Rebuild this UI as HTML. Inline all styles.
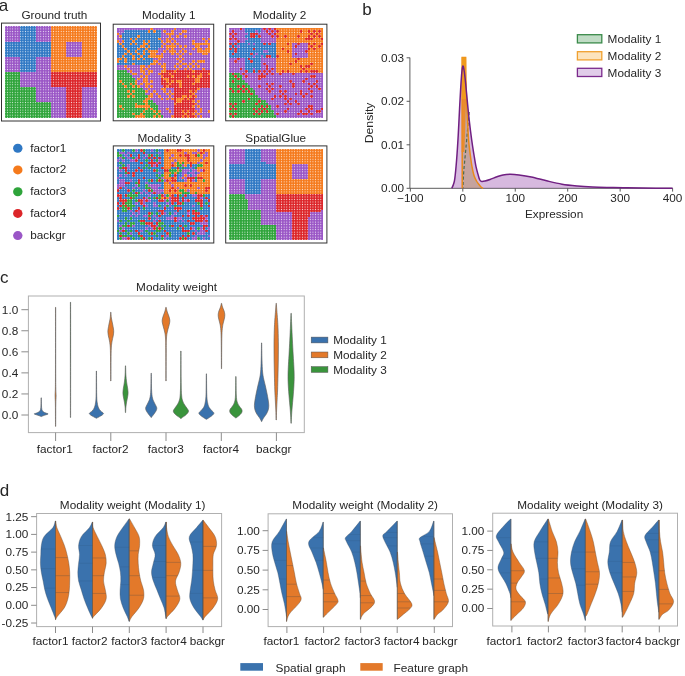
<!DOCTYPE html><html><head><meta charset="utf-8"><style>html,body{margin:0;padding:0;background:#fff;overflow:hidden}svg{display:block;will-change:transform}text{font-family:"Liberation Sans",sans-serif}</style></head><body><svg width="685" height="676" viewBox="0 0 685 676">
<rect width="685" height="676" fill="#fff"/>
<defs><pattern id="dots" patternUnits="userSpaceOnUse" x="-0.5" y="-0.5" width="1" height="1"><circle cx="0.5" cy="0.5" r="0.21" fill="#fff" fill-opacity="0.85"/></pattern></defs>
<text transform="translate(-1.20,10.70) scale(1.0,1)" font-size="17" text-anchor="start" fill="#262626">a</text>
<text transform="translate(362.20,14.60) scale(1.0,1)" font-size="17" text-anchor="start" fill="#262626">b</text>
<text transform="translate(0.00,283.10) scale(1.0,1)" font-size="17" text-anchor="start" fill="#262626">c</text>
<text transform="translate(-0.20,495.60) scale(1.0,1)" font-size="17" text-anchor="start" fill="#262626">d</text>
<g transform="translate(5.00,26.40) scale(2.5556,2.5361)">
<g shape-rendering="crispEdges">
<path fill="#9a56c6" d="M0,0h1v1h-1zM1,0h1v1h-1zM2,0h1v1h-1zM3,0h1v1h-1zM4,0h1v1h-1zM5,0h1v1h-1zM12,0h1v1h-1zM13,0h1v1h-1zM14,0h1v1h-1zM15,0h1v1h-1zM16,0h1v1h-1zM17,0h1v1h-1zM0,1h1v1h-1zM1,1h1v1h-1zM2,1h1v1h-1zM3,1h1v1h-1zM4,1h1v1h-1zM5,1h1v1h-1zM12,1h1v1h-1zM13,1h1v1h-1zM14,1h1v1h-1zM15,1h1v1h-1zM16,1h1v1h-1zM17,1h1v1h-1zM0,2h1v1h-1zM1,2h1v1h-1zM2,2h1v1h-1zM3,2h1v1h-1zM4,2h1v1h-1zM5,2h1v1h-1zM12,2h1v1h-1zM13,2h1v1h-1zM14,2h1v1h-1zM15,2h1v1h-1zM16,2h1v1h-1zM17,2h1v1h-1zM0,3h1v1h-1zM1,3h1v1h-1zM2,3h1v1h-1zM3,3h1v1h-1zM4,3h1v1h-1zM5,3h1v1h-1zM12,3h1v1h-1zM13,3h1v1h-1zM14,3h1v1h-1zM15,3h1v1h-1zM16,3h1v1h-1zM17,3h1v1h-1zM0,4h1v1h-1zM1,4h1v1h-1zM2,4h1v1h-1zM3,4h1v1h-1zM4,4h1v1h-1zM5,4h1v1h-1zM12,4h1v1h-1zM13,4h1v1h-1zM14,4h1v1h-1zM15,4h1v1h-1zM16,4h1v1h-1zM17,4h1v1h-1zM0,5h1v1h-1zM1,5h1v1h-1zM2,5h1v1h-1zM3,5h1v1h-1zM4,5h1v1h-1zM5,5h1v1h-1zM12,5h1v1h-1zM13,5h1v1h-1zM14,5h1v1h-1zM15,5h1v1h-1zM16,5h1v1h-1zM17,5h1v1h-1zM24,6h1v1h-1zM25,6h1v1h-1zM26,6h1v1h-1zM27,6h1v1h-1zM28,6h1v1h-1zM29,6h1v1h-1zM24,7h1v1h-1zM25,7h1v1h-1zM26,7h1v1h-1zM27,7h1v1h-1zM28,7h1v1h-1zM29,7h1v1h-1zM24,8h1v1h-1zM25,8h1v1h-1zM26,8h1v1h-1zM27,8h1v1h-1zM28,8h1v1h-1zM29,8h1v1h-1zM24,9h1v1h-1zM25,9h1v1h-1zM26,9h1v1h-1zM27,9h1v1h-1zM28,9h1v1h-1zM29,9h1v1h-1zM24,10h1v1h-1zM25,10h1v1h-1zM26,10h1v1h-1zM27,10h1v1h-1zM28,10h1v1h-1zM29,10h1v1h-1zM24,11h1v1h-1zM25,11h1v1h-1zM26,11h1v1h-1zM27,11h1v1h-1zM28,11h1v1h-1zM29,11h1v1h-1zM0,12h1v1h-1zM1,12h1v1h-1zM2,12h1v1h-1zM3,12h1v1h-1zM4,12h1v1h-1zM5,12h1v1h-1zM12,12h1v1h-1zM13,12h1v1h-1zM14,12h1v1h-1zM15,12h1v1h-1zM16,12h1v1h-1zM17,12h1v1h-1zM0,13h1v1h-1zM1,13h1v1h-1zM2,13h1v1h-1zM3,13h1v1h-1zM4,13h1v1h-1zM5,13h1v1h-1zM12,13h1v1h-1zM13,13h1v1h-1zM14,13h1v1h-1zM15,13h1v1h-1zM16,13h1v1h-1zM17,13h1v1h-1zM0,14h1v1h-1zM1,14h1v1h-1zM2,14h1v1h-1zM3,14h1v1h-1zM4,14h1v1h-1zM5,14h1v1h-1zM12,14h1v1h-1zM13,14h1v1h-1zM14,14h1v1h-1zM15,14h1v1h-1zM16,14h1v1h-1zM17,14h1v1h-1zM0,15h1v1h-1zM1,15h1v1h-1zM2,15h1v1h-1zM3,15h1v1h-1zM4,15h1v1h-1zM5,15h1v1h-1zM12,15h1v1h-1zM13,15h1v1h-1zM14,15h1v1h-1zM15,15h1v1h-1zM16,15h1v1h-1zM17,15h1v1h-1zM0,16h1v1h-1zM1,16h1v1h-1zM2,16h1v1h-1zM3,16h1v1h-1zM4,16h1v1h-1zM5,16h1v1h-1zM12,16h1v1h-1zM13,16h1v1h-1zM14,16h1v1h-1zM15,16h1v1h-1zM16,16h1v1h-1zM17,16h1v1h-1zM0,17h1v1h-1zM1,17h1v1h-1zM2,17h1v1h-1zM3,17h1v1h-1zM4,17h1v1h-1zM5,17h1v1h-1zM12,17h1v1h-1zM13,17h1v1h-1zM14,17h1v1h-1zM15,17h1v1h-1zM16,17h1v1h-1zM17,17h1v1h-1zM6,18h1v1h-1zM7,18h1v1h-1zM8,18h1v1h-1zM9,18h1v1h-1zM10,18h1v1h-1zM11,18h1v1h-1zM12,18h1v1h-1zM13,18h1v1h-1zM14,18h1v1h-1zM15,18h1v1h-1zM16,18h1v1h-1zM17,18h1v1h-1zM6,19h1v1h-1zM7,19h1v1h-1zM8,19h1v1h-1zM9,19h1v1h-1zM10,19h1v1h-1zM11,19h1v1h-1zM12,19h1v1h-1zM13,19h1v1h-1zM14,19h1v1h-1zM15,19h1v1h-1zM16,19h1v1h-1zM17,19h1v1h-1zM6,20h1v1h-1zM7,20h1v1h-1zM8,20h1v1h-1zM9,20h1v1h-1zM10,20h1v1h-1zM11,20h1v1h-1zM12,20h1v1h-1zM13,20h1v1h-1zM14,20h1v1h-1zM15,20h1v1h-1zM16,20h1v1h-1zM17,20h1v1h-1zM6,21h1v1h-1zM7,21h1v1h-1zM8,21h1v1h-1zM9,21h1v1h-1zM10,21h1v1h-1zM11,21h1v1h-1zM12,21h1v1h-1zM13,21h1v1h-1zM14,21h1v1h-1zM15,21h1v1h-1zM16,21h1v1h-1zM17,21h1v1h-1zM6,22h1v1h-1zM7,22h1v1h-1zM8,22h1v1h-1zM9,22h1v1h-1zM10,22h1v1h-1zM11,22h1v1h-1zM12,22h1v1h-1zM13,22h1v1h-1zM14,22h1v1h-1zM15,22h1v1h-1zM16,22h1v1h-1zM17,22h1v1h-1zM6,23h1v1h-1zM7,23h1v1h-1zM8,23h1v1h-1zM9,23h1v1h-1zM10,23h1v1h-1zM11,23h1v1h-1zM12,23h1v1h-1zM13,23h1v1h-1zM14,23h1v1h-1zM15,23h1v1h-1zM16,23h1v1h-1zM17,23h1v1h-1zM12,24h1v1h-1zM13,24h1v1h-1zM14,24h1v1h-1zM15,24h1v1h-1zM16,24h1v1h-1zM17,24h1v1h-1zM18,24h1v1h-1zM19,24h1v1h-1zM20,24h1v1h-1zM21,24h1v1h-1zM22,24h1v1h-1zM23,24h1v1h-1zM30,24h1v1h-1zM31,24h1v1h-1zM32,24h1v1h-1zM33,24h1v1h-1zM34,24h1v1h-1zM35,24h1v1h-1zM12,25h1v1h-1zM13,25h1v1h-1zM14,25h1v1h-1zM15,25h1v1h-1zM16,25h1v1h-1zM17,25h1v1h-1zM18,25h1v1h-1zM19,25h1v1h-1zM20,25h1v1h-1zM21,25h1v1h-1zM22,25h1v1h-1zM23,25h1v1h-1zM30,25h1v1h-1zM31,25h1v1h-1zM32,25h1v1h-1zM33,25h1v1h-1zM34,25h1v1h-1zM35,25h1v1h-1zM12,26h1v1h-1zM13,26h1v1h-1zM14,26h1v1h-1zM15,26h1v1h-1zM16,26h1v1h-1zM17,26h1v1h-1zM18,26h1v1h-1zM19,26h1v1h-1zM20,26h1v1h-1zM21,26h1v1h-1zM22,26h1v1h-1zM23,26h1v1h-1zM30,26h1v1h-1zM31,26h1v1h-1zM32,26h1v1h-1zM33,26h1v1h-1zM34,26h1v1h-1zM35,26h1v1h-1zM12,27h1v1h-1zM13,27h1v1h-1zM14,27h1v1h-1zM15,27h1v1h-1zM16,27h1v1h-1zM17,27h1v1h-1zM18,27h1v1h-1zM19,27h1v1h-1zM20,27h1v1h-1zM21,27h1v1h-1zM22,27h1v1h-1zM23,27h1v1h-1zM30,27h1v1h-1zM31,27h1v1h-1zM32,27h1v1h-1zM33,27h1v1h-1zM34,27h1v1h-1zM35,27h1v1h-1zM12,28h1v1h-1zM13,28h1v1h-1zM14,28h1v1h-1zM15,28h1v1h-1zM16,28h1v1h-1zM17,28h1v1h-1zM18,28h1v1h-1zM19,28h1v1h-1zM20,28h1v1h-1zM21,28h1v1h-1zM22,28h1v1h-1zM23,28h1v1h-1zM30,28h1v1h-1zM31,28h1v1h-1zM32,28h1v1h-1zM33,28h1v1h-1zM34,28h1v1h-1zM35,28h1v1h-1zM12,29h1v1h-1zM13,29h1v1h-1zM14,29h1v1h-1zM15,29h1v1h-1zM16,29h1v1h-1zM17,29h1v1h-1zM18,29h1v1h-1zM19,29h1v1h-1zM20,29h1v1h-1zM21,29h1v1h-1zM22,29h1v1h-1zM23,29h1v1h-1zM30,29h1v1h-1zM31,29h1v1h-1zM32,29h1v1h-1zM33,29h1v1h-1zM34,29h1v1h-1zM35,29h1v1h-1zM18,30h1v1h-1zM19,30h1v1h-1zM20,30h1v1h-1zM21,30h1v1h-1zM22,30h1v1h-1zM23,30h1v1h-1zM30,30h1v1h-1zM31,30h1v1h-1zM32,30h1v1h-1zM33,30h1v1h-1zM34,30h1v1h-1zM35,30h1v1h-1zM18,31h1v1h-1zM19,31h1v1h-1zM20,31h1v1h-1zM21,31h1v1h-1zM22,31h1v1h-1zM23,31h1v1h-1zM30,31h1v1h-1zM31,31h1v1h-1zM32,31h1v1h-1zM33,31h1v1h-1zM34,31h1v1h-1zM35,31h1v1h-1zM18,32h1v1h-1zM19,32h1v1h-1zM20,32h1v1h-1zM21,32h1v1h-1zM22,32h1v1h-1zM23,32h1v1h-1zM30,32h1v1h-1zM31,32h1v1h-1zM32,32h1v1h-1zM33,32h1v1h-1zM34,32h1v1h-1zM35,32h1v1h-1zM18,33h1v1h-1zM19,33h1v1h-1zM20,33h1v1h-1zM21,33h1v1h-1zM22,33h1v1h-1zM23,33h1v1h-1zM30,33h1v1h-1zM31,33h1v1h-1zM32,33h1v1h-1zM33,33h1v1h-1zM34,33h1v1h-1zM35,33h1v1h-1zM18,34h1v1h-1zM19,34h1v1h-1zM20,34h1v1h-1zM21,34h1v1h-1zM22,34h1v1h-1zM23,34h1v1h-1zM30,34h1v1h-1zM31,34h1v1h-1zM32,34h1v1h-1zM33,34h1v1h-1zM34,34h1v1h-1zM35,34h1v1h-1zM18,35h1v1h-1zM19,35h1v1h-1zM20,35h1v1h-1zM21,35h1v1h-1zM22,35h1v1h-1zM23,35h1v1h-1zM30,35h1v1h-1zM31,35h1v1h-1zM32,35h1v1h-1zM33,35h1v1h-1zM34,35h1v1h-1zM35,35h1v1h-1z"/>
<path fill="#2f78c4" d="M6,0h1v1h-1zM7,0h1v1h-1zM8,0h1v1h-1zM9,0h1v1h-1zM10,0h1v1h-1zM11,0h1v1h-1zM6,1h1v1h-1zM7,1h1v1h-1zM8,1h1v1h-1zM9,1h1v1h-1zM10,1h1v1h-1zM11,1h1v1h-1zM6,2h1v1h-1zM7,2h1v1h-1zM8,2h1v1h-1zM9,2h1v1h-1zM10,2h1v1h-1zM11,2h1v1h-1zM6,3h1v1h-1zM7,3h1v1h-1zM8,3h1v1h-1zM9,3h1v1h-1zM10,3h1v1h-1zM11,3h1v1h-1zM6,4h1v1h-1zM7,4h1v1h-1zM8,4h1v1h-1zM9,4h1v1h-1zM10,4h1v1h-1zM11,4h1v1h-1zM6,5h1v1h-1zM7,5h1v1h-1zM8,5h1v1h-1zM9,5h1v1h-1zM10,5h1v1h-1zM11,5h1v1h-1zM0,6h1v1h-1zM1,6h1v1h-1zM2,6h1v1h-1zM3,6h1v1h-1zM4,6h1v1h-1zM5,6h1v1h-1zM6,6h1v1h-1zM7,6h1v1h-1zM8,6h1v1h-1zM9,6h1v1h-1zM10,6h1v1h-1zM11,6h1v1h-1zM12,6h1v1h-1zM13,6h1v1h-1zM14,6h1v1h-1zM15,6h1v1h-1zM16,6h1v1h-1zM17,6h1v1h-1zM0,7h1v1h-1zM1,7h1v1h-1zM2,7h1v1h-1zM3,7h1v1h-1zM4,7h1v1h-1zM5,7h1v1h-1zM6,7h1v1h-1zM7,7h1v1h-1zM8,7h1v1h-1zM9,7h1v1h-1zM10,7h1v1h-1zM11,7h1v1h-1zM12,7h1v1h-1zM13,7h1v1h-1zM14,7h1v1h-1zM15,7h1v1h-1zM16,7h1v1h-1zM17,7h1v1h-1zM0,8h1v1h-1zM1,8h1v1h-1zM2,8h1v1h-1zM3,8h1v1h-1zM4,8h1v1h-1zM5,8h1v1h-1zM6,8h1v1h-1zM7,8h1v1h-1zM8,8h1v1h-1zM9,8h1v1h-1zM10,8h1v1h-1zM11,8h1v1h-1zM12,8h1v1h-1zM13,8h1v1h-1zM14,8h1v1h-1zM15,8h1v1h-1zM16,8h1v1h-1zM17,8h1v1h-1zM0,9h1v1h-1zM1,9h1v1h-1zM2,9h1v1h-1zM3,9h1v1h-1zM4,9h1v1h-1zM5,9h1v1h-1zM6,9h1v1h-1zM7,9h1v1h-1zM8,9h1v1h-1zM9,9h1v1h-1zM10,9h1v1h-1zM11,9h1v1h-1zM12,9h1v1h-1zM13,9h1v1h-1zM14,9h1v1h-1zM15,9h1v1h-1zM16,9h1v1h-1zM17,9h1v1h-1zM0,10h1v1h-1zM1,10h1v1h-1zM2,10h1v1h-1zM3,10h1v1h-1zM4,10h1v1h-1zM5,10h1v1h-1zM6,10h1v1h-1zM7,10h1v1h-1zM8,10h1v1h-1zM9,10h1v1h-1zM10,10h1v1h-1zM11,10h1v1h-1zM12,10h1v1h-1zM13,10h1v1h-1zM14,10h1v1h-1zM15,10h1v1h-1zM16,10h1v1h-1zM17,10h1v1h-1zM0,11h1v1h-1zM1,11h1v1h-1zM2,11h1v1h-1zM3,11h1v1h-1zM4,11h1v1h-1zM5,11h1v1h-1zM6,11h1v1h-1zM7,11h1v1h-1zM8,11h1v1h-1zM9,11h1v1h-1zM10,11h1v1h-1zM11,11h1v1h-1zM12,11h1v1h-1zM13,11h1v1h-1zM14,11h1v1h-1zM15,11h1v1h-1zM16,11h1v1h-1zM17,11h1v1h-1zM6,12h1v1h-1zM7,12h1v1h-1zM8,12h1v1h-1zM9,12h1v1h-1zM10,12h1v1h-1zM11,12h1v1h-1zM6,13h1v1h-1zM7,13h1v1h-1zM8,13h1v1h-1zM9,13h1v1h-1zM10,13h1v1h-1zM11,13h1v1h-1zM6,14h1v1h-1zM7,14h1v1h-1zM8,14h1v1h-1zM9,14h1v1h-1zM10,14h1v1h-1zM11,14h1v1h-1zM6,15h1v1h-1zM7,15h1v1h-1zM8,15h1v1h-1zM9,15h1v1h-1zM10,15h1v1h-1zM11,15h1v1h-1zM6,16h1v1h-1zM7,16h1v1h-1zM8,16h1v1h-1zM9,16h1v1h-1zM10,16h1v1h-1zM11,16h1v1h-1zM6,17h1v1h-1zM7,17h1v1h-1zM8,17h1v1h-1zM9,17h1v1h-1zM10,17h1v1h-1zM11,17h1v1h-1z"/>
<path fill="#f57a1c" d="M18,0h1v1h-1zM19,0h1v1h-1zM20,0h1v1h-1zM21,0h1v1h-1zM22,0h1v1h-1zM23,0h1v1h-1zM24,0h1v1h-1zM25,0h1v1h-1zM26,0h1v1h-1zM27,0h1v1h-1zM28,0h1v1h-1zM29,0h1v1h-1zM30,0h1v1h-1zM31,0h1v1h-1zM32,0h1v1h-1zM33,0h1v1h-1zM34,0h1v1h-1zM35,0h1v1h-1zM18,1h1v1h-1zM19,1h1v1h-1zM20,1h1v1h-1zM21,1h1v1h-1zM22,1h1v1h-1zM23,1h1v1h-1zM24,1h1v1h-1zM25,1h1v1h-1zM26,1h1v1h-1zM27,1h1v1h-1zM28,1h1v1h-1zM29,1h1v1h-1zM30,1h1v1h-1zM31,1h1v1h-1zM32,1h1v1h-1zM33,1h1v1h-1zM34,1h1v1h-1zM35,1h1v1h-1zM18,2h1v1h-1zM19,2h1v1h-1zM20,2h1v1h-1zM21,2h1v1h-1zM22,2h1v1h-1zM23,2h1v1h-1zM24,2h1v1h-1zM25,2h1v1h-1zM26,2h1v1h-1zM27,2h1v1h-1zM28,2h1v1h-1zM29,2h1v1h-1zM30,2h1v1h-1zM31,2h1v1h-1zM32,2h1v1h-1zM33,2h1v1h-1zM34,2h1v1h-1zM35,2h1v1h-1zM18,3h1v1h-1zM19,3h1v1h-1zM20,3h1v1h-1zM21,3h1v1h-1zM22,3h1v1h-1zM23,3h1v1h-1zM24,3h1v1h-1zM25,3h1v1h-1zM26,3h1v1h-1zM27,3h1v1h-1zM28,3h1v1h-1zM29,3h1v1h-1zM30,3h1v1h-1zM31,3h1v1h-1zM32,3h1v1h-1zM33,3h1v1h-1zM34,3h1v1h-1zM35,3h1v1h-1zM18,4h1v1h-1zM19,4h1v1h-1zM20,4h1v1h-1zM21,4h1v1h-1zM22,4h1v1h-1zM23,4h1v1h-1zM24,4h1v1h-1zM25,4h1v1h-1zM26,4h1v1h-1zM27,4h1v1h-1zM28,4h1v1h-1zM29,4h1v1h-1zM30,4h1v1h-1zM31,4h1v1h-1zM32,4h1v1h-1zM33,4h1v1h-1zM34,4h1v1h-1zM35,4h1v1h-1zM18,5h1v1h-1zM19,5h1v1h-1zM20,5h1v1h-1zM21,5h1v1h-1zM22,5h1v1h-1zM23,5h1v1h-1zM24,5h1v1h-1zM25,5h1v1h-1zM26,5h1v1h-1zM27,5h1v1h-1zM28,5h1v1h-1zM29,5h1v1h-1zM30,5h1v1h-1zM31,5h1v1h-1zM32,5h1v1h-1zM33,5h1v1h-1zM34,5h1v1h-1zM35,5h1v1h-1zM18,6h1v1h-1zM19,6h1v1h-1zM20,6h1v1h-1zM21,6h1v1h-1zM22,6h1v1h-1zM23,6h1v1h-1zM30,6h1v1h-1zM31,6h1v1h-1zM32,6h1v1h-1zM33,6h1v1h-1zM34,6h1v1h-1zM35,6h1v1h-1zM18,7h1v1h-1zM19,7h1v1h-1zM20,7h1v1h-1zM21,7h1v1h-1zM22,7h1v1h-1zM23,7h1v1h-1zM30,7h1v1h-1zM31,7h1v1h-1zM32,7h1v1h-1zM33,7h1v1h-1zM34,7h1v1h-1zM35,7h1v1h-1zM18,8h1v1h-1zM19,8h1v1h-1zM20,8h1v1h-1zM21,8h1v1h-1zM22,8h1v1h-1zM23,8h1v1h-1zM30,8h1v1h-1zM31,8h1v1h-1zM32,8h1v1h-1zM33,8h1v1h-1zM34,8h1v1h-1zM35,8h1v1h-1zM18,9h1v1h-1zM19,9h1v1h-1zM20,9h1v1h-1zM21,9h1v1h-1zM22,9h1v1h-1zM23,9h1v1h-1zM30,9h1v1h-1zM31,9h1v1h-1zM32,9h1v1h-1zM33,9h1v1h-1zM34,9h1v1h-1zM35,9h1v1h-1zM18,10h1v1h-1zM19,10h1v1h-1zM20,10h1v1h-1zM21,10h1v1h-1zM22,10h1v1h-1zM23,10h1v1h-1zM30,10h1v1h-1zM31,10h1v1h-1zM32,10h1v1h-1zM33,10h1v1h-1zM34,10h1v1h-1zM35,10h1v1h-1zM18,11h1v1h-1zM19,11h1v1h-1zM20,11h1v1h-1zM21,11h1v1h-1zM22,11h1v1h-1zM23,11h1v1h-1zM30,11h1v1h-1zM31,11h1v1h-1zM32,11h1v1h-1zM33,11h1v1h-1zM34,11h1v1h-1zM35,11h1v1h-1zM18,12h1v1h-1zM19,12h1v1h-1zM20,12h1v1h-1zM21,12h1v1h-1zM22,12h1v1h-1zM23,12h1v1h-1zM24,12h1v1h-1zM25,12h1v1h-1zM26,12h1v1h-1zM27,12h1v1h-1zM28,12h1v1h-1zM29,12h1v1h-1zM30,12h1v1h-1zM31,12h1v1h-1zM32,12h1v1h-1zM33,12h1v1h-1zM34,12h1v1h-1zM35,12h1v1h-1zM18,13h1v1h-1zM19,13h1v1h-1zM20,13h1v1h-1zM21,13h1v1h-1zM22,13h1v1h-1zM23,13h1v1h-1zM24,13h1v1h-1zM25,13h1v1h-1zM26,13h1v1h-1zM27,13h1v1h-1zM28,13h1v1h-1zM29,13h1v1h-1zM30,13h1v1h-1zM31,13h1v1h-1zM32,13h1v1h-1zM33,13h1v1h-1zM34,13h1v1h-1zM35,13h1v1h-1zM18,14h1v1h-1zM19,14h1v1h-1zM20,14h1v1h-1zM21,14h1v1h-1zM22,14h1v1h-1zM23,14h1v1h-1zM24,14h1v1h-1zM25,14h1v1h-1zM26,14h1v1h-1zM27,14h1v1h-1zM28,14h1v1h-1zM29,14h1v1h-1zM30,14h1v1h-1zM31,14h1v1h-1zM32,14h1v1h-1zM33,14h1v1h-1zM34,14h1v1h-1zM35,14h1v1h-1zM18,15h1v1h-1zM19,15h1v1h-1zM20,15h1v1h-1zM21,15h1v1h-1zM22,15h1v1h-1zM23,15h1v1h-1zM24,15h1v1h-1zM25,15h1v1h-1zM26,15h1v1h-1zM27,15h1v1h-1zM28,15h1v1h-1zM29,15h1v1h-1zM30,15h1v1h-1zM31,15h1v1h-1zM32,15h1v1h-1zM33,15h1v1h-1zM34,15h1v1h-1zM35,15h1v1h-1zM18,16h1v1h-1zM19,16h1v1h-1zM20,16h1v1h-1zM21,16h1v1h-1zM22,16h1v1h-1zM23,16h1v1h-1zM24,16h1v1h-1zM25,16h1v1h-1zM26,16h1v1h-1zM27,16h1v1h-1zM28,16h1v1h-1zM29,16h1v1h-1zM30,16h1v1h-1zM31,16h1v1h-1zM32,16h1v1h-1zM33,16h1v1h-1zM34,16h1v1h-1zM35,16h1v1h-1zM18,17h1v1h-1zM19,17h1v1h-1zM20,17h1v1h-1zM21,17h1v1h-1zM22,17h1v1h-1zM23,17h1v1h-1zM24,17h1v1h-1zM25,17h1v1h-1zM26,17h1v1h-1zM27,17h1v1h-1zM28,17h1v1h-1zM29,17h1v1h-1zM30,17h1v1h-1zM31,17h1v1h-1zM32,17h1v1h-1zM33,17h1v1h-1zM34,17h1v1h-1zM35,17h1v1h-1z"/>
<path fill="#2ea43a" d="M0,18h1v1h-1zM1,18h1v1h-1zM2,18h1v1h-1zM3,18h1v1h-1zM4,18h1v1h-1zM5,18h1v1h-1zM0,19h1v1h-1zM1,19h1v1h-1zM2,19h1v1h-1zM3,19h1v1h-1zM4,19h1v1h-1zM5,19h1v1h-1zM0,20h1v1h-1zM1,20h1v1h-1zM2,20h1v1h-1zM3,20h1v1h-1zM4,20h1v1h-1zM5,20h1v1h-1zM0,21h1v1h-1zM1,21h1v1h-1zM2,21h1v1h-1zM3,21h1v1h-1zM4,21h1v1h-1zM5,21h1v1h-1zM0,22h1v1h-1zM1,22h1v1h-1zM2,22h1v1h-1zM3,22h1v1h-1zM4,22h1v1h-1zM5,22h1v1h-1zM0,23h1v1h-1zM1,23h1v1h-1zM2,23h1v1h-1zM3,23h1v1h-1zM4,23h1v1h-1zM5,23h1v1h-1zM0,24h1v1h-1zM1,24h1v1h-1zM2,24h1v1h-1zM3,24h1v1h-1zM4,24h1v1h-1zM5,24h1v1h-1zM6,24h1v1h-1zM7,24h1v1h-1zM8,24h1v1h-1zM9,24h1v1h-1zM10,24h1v1h-1zM11,24h1v1h-1zM0,25h1v1h-1zM1,25h1v1h-1zM2,25h1v1h-1zM3,25h1v1h-1zM4,25h1v1h-1zM5,25h1v1h-1zM6,25h1v1h-1zM7,25h1v1h-1zM8,25h1v1h-1zM9,25h1v1h-1zM10,25h1v1h-1zM11,25h1v1h-1zM0,26h1v1h-1zM1,26h1v1h-1zM2,26h1v1h-1zM3,26h1v1h-1zM4,26h1v1h-1zM5,26h1v1h-1zM6,26h1v1h-1zM7,26h1v1h-1zM8,26h1v1h-1zM9,26h1v1h-1zM10,26h1v1h-1zM11,26h1v1h-1zM0,27h1v1h-1zM1,27h1v1h-1zM2,27h1v1h-1zM3,27h1v1h-1zM4,27h1v1h-1zM5,27h1v1h-1zM6,27h1v1h-1zM7,27h1v1h-1zM8,27h1v1h-1zM9,27h1v1h-1zM10,27h1v1h-1zM11,27h1v1h-1zM0,28h1v1h-1zM1,28h1v1h-1zM2,28h1v1h-1zM3,28h1v1h-1zM4,28h1v1h-1zM5,28h1v1h-1zM6,28h1v1h-1zM7,28h1v1h-1zM8,28h1v1h-1zM9,28h1v1h-1zM10,28h1v1h-1zM11,28h1v1h-1zM0,29h1v1h-1zM1,29h1v1h-1zM2,29h1v1h-1zM3,29h1v1h-1zM4,29h1v1h-1zM5,29h1v1h-1zM6,29h1v1h-1zM7,29h1v1h-1zM8,29h1v1h-1zM9,29h1v1h-1zM10,29h1v1h-1zM11,29h1v1h-1zM0,30h1v1h-1zM1,30h1v1h-1zM2,30h1v1h-1zM3,30h1v1h-1zM4,30h1v1h-1zM5,30h1v1h-1zM6,30h1v1h-1zM7,30h1v1h-1zM8,30h1v1h-1zM9,30h1v1h-1zM10,30h1v1h-1zM11,30h1v1h-1zM12,30h1v1h-1zM13,30h1v1h-1zM14,30h1v1h-1zM15,30h1v1h-1zM16,30h1v1h-1zM17,30h1v1h-1zM0,31h1v1h-1zM1,31h1v1h-1zM2,31h1v1h-1zM3,31h1v1h-1zM4,31h1v1h-1zM5,31h1v1h-1zM6,31h1v1h-1zM7,31h1v1h-1zM8,31h1v1h-1zM9,31h1v1h-1zM10,31h1v1h-1zM11,31h1v1h-1zM12,31h1v1h-1zM13,31h1v1h-1zM14,31h1v1h-1zM15,31h1v1h-1zM16,31h1v1h-1zM17,31h1v1h-1zM0,32h1v1h-1zM1,32h1v1h-1zM2,32h1v1h-1zM3,32h1v1h-1zM4,32h1v1h-1zM5,32h1v1h-1zM6,32h1v1h-1zM7,32h1v1h-1zM8,32h1v1h-1zM9,32h1v1h-1zM10,32h1v1h-1zM11,32h1v1h-1zM12,32h1v1h-1zM13,32h1v1h-1zM14,32h1v1h-1zM15,32h1v1h-1zM16,32h1v1h-1zM17,32h1v1h-1zM0,33h1v1h-1zM1,33h1v1h-1zM2,33h1v1h-1zM3,33h1v1h-1zM4,33h1v1h-1zM5,33h1v1h-1zM6,33h1v1h-1zM7,33h1v1h-1zM8,33h1v1h-1zM9,33h1v1h-1zM10,33h1v1h-1zM11,33h1v1h-1zM12,33h1v1h-1zM13,33h1v1h-1zM14,33h1v1h-1zM15,33h1v1h-1zM16,33h1v1h-1zM17,33h1v1h-1zM0,34h1v1h-1zM1,34h1v1h-1zM2,34h1v1h-1zM3,34h1v1h-1zM4,34h1v1h-1zM5,34h1v1h-1zM6,34h1v1h-1zM7,34h1v1h-1zM8,34h1v1h-1zM9,34h1v1h-1zM10,34h1v1h-1zM11,34h1v1h-1zM12,34h1v1h-1zM13,34h1v1h-1zM14,34h1v1h-1zM15,34h1v1h-1zM16,34h1v1h-1zM17,34h1v1h-1zM0,35h1v1h-1zM1,35h1v1h-1zM2,35h1v1h-1zM3,35h1v1h-1zM4,35h1v1h-1zM5,35h1v1h-1zM6,35h1v1h-1zM7,35h1v1h-1zM8,35h1v1h-1zM9,35h1v1h-1zM10,35h1v1h-1zM11,35h1v1h-1zM12,35h1v1h-1zM13,35h1v1h-1zM14,35h1v1h-1zM15,35h1v1h-1zM16,35h1v1h-1zM17,35h1v1h-1z"/>
<path fill="#dc2529" d="M18,18h1v1h-1zM19,18h1v1h-1zM20,18h1v1h-1zM21,18h1v1h-1zM22,18h1v1h-1zM23,18h1v1h-1zM24,18h1v1h-1zM25,18h1v1h-1zM26,18h1v1h-1zM27,18h1v1h-1zM28,18h1v1h-1zM29,18h1v1h-1zM30,18h1v1h-1zM31,18h1v1h-1zM32,18h1v1h-1zM33,18h1v1h-1zM34,18h1v1h-1zM35,18h1v1h-1zM18,19h1v1h-1zM19,19h1v1h-1zM20,19h1v1h-1zM21,19h1v1h-1zM22,19h1v1h-1zM23,19h1v1h-1zM24,19h1v1h-1zM25,19h1v1h-1zM26,19h1v1h-1zM27,19h1v1h-1zM28,19h1v1h-1zM29,19h1v1h-1zM30,19h1v1h-1zM31,19h1v1h-1zM32,19h1v1h-1zM33,19h1v1h-1zM34,19h1v1h-1zM35,19h1v1h-1zM18,20h1v1h-1zM19,20h1v1h-1zM20,20h1v1h-1zM21,20h1v1h-1zM22,20h1v1h-1zM23,20h1v1h-1zM24,20h1v1h-1zM25,20h1v1h-1zM26,20h1v1h-1zM27,20h1v1h-1zM28,20h1v1h-1zM29,20h1v1h-1zM30,20h1v1h-1zM31,20h1v1h-1zM32,20h1v1h-1zM33,20h1v1h-1zM34,20h1v1h-1zM35,20h1v1h-1zM18,21h1v1h-1zM19,21h1v1h-1zM20,21h1v1h-1zM21,21h1v1h-1zM22,21h1v1h-1zM23,21h1v1h-1zM24,21h1v1h-1zM25,21h1v1h-1zM26,21h1v1h-1zM27,21h1v1h-1zM28,21h1v1h-1zM29,21h1v1h-1zM30,21h1v1h-1zM31,21h1v1h-1zM32,21h1v1h-1zM33,21h1v1h-1zM34,21h1v1h-1zM35,21h1v1h-1zM18,22h1v1h-1zM19,22h1v1h-1zM20,22h1v1h-1zM21,22h1v1h-1zM22,22h1v1h-1zM23,22h1v1h-1zM24,22h1v1h-1zM25,22h1v1h-1zM26,22h1v1h-1zM27,22h1v1h-1zM28,22h1v1h-1zM29,22h1v1h-1zM30,22h1v1h-1zM31,22h1v1h-1zM32,22h1v1h-1zM33,22h1v1h-1zM34,22h1v1h-1zM35,22h1v1h-1zM18,23h1v1h-1zM19,23h1v1h-1zM20,23h1v1h-1zM21,23h1v1h-1zM22,23h1v1h-1zM23,23h1v1h-1zM24,23h1v1h-1zM25,23h1v1h-1zM26,23h1v1h-1zM27,23h1v1h-1zM28,23h1v1h-1zM29,23h1v1h-1zM30,23h1v1h-1zM31,23h1v1h-1zM32,23h1v1h-1zM33,23h1v1h-1zM34,23h1v1h-1zM35,23h1v1h-1zM24,24h1v1h-1zM25,24h1v1h-1zM26,24h1v1h-1zM27,24h1v1h-1zM28,24h1v1h-1zM29,24h1v1h-1zM24,25h1v1h-1zM25,25h1v1h-1zM26,25h1v1h-1zM27,25h1v1h-1zM28,25h1v1h-1zM29,25h1v1h-1zM24,26h1v1h-1zM25,26h1v1h-1zM26,26h1v1h-1zM27,26h1v1h-1zM28,26h1v1h-1zM29,26h1v1h-1zM24,27h1v1h-1zM25,27h1v1h-1zM26,27h1v1h-1zM27,27h1v1h-1zM28,27h1v1h-1zM29,27h1v1h-1zM24,28h1v1h-1zM25,28h1v1h-1zM26,28h1v1h-1zM27,28h1v1h-1zM28,28h1v1h-1zM29,28h1v1h-1zM24,29h1v1h-1zM25,29h1v1h-1zM26,29h1v1h-1zM27,29h1v1h-1zM28,29h1v1h-1zM29,29h1v1h-1zM24,30h1v1h-1zM25,30h1v1h-1zM26,30h1v1h-1zM27,30h1v1h-1zM28,30h1v1h-1zM29,30h1v1h-1zM24,31h1v1h-1zM25,31h1v1h-1zM26,31h1v1h-1zM27,31h1v1h-1zM28,31h1v1h-1zM29,31h1v1h-1zM24,32h1v1h-1zM25,32h1v1h-1zM26,32h1v1h-1zM27,32h1v1h-1zM28,32h1v1h-1zM29,32h1v1h-1zM24,33h1v1h-1zM25,33h1v1h-1zM26,33h1v1h-1zM27,33h1v1h-1zM28,33h1v1h-1zM29,33h1v1h-1zM24,34h1v1h-1zM25,34h1v1h-1zM26,34h1v1h-1zM27,34h1v1h-1zM28,34h1v1h-1zM29,34h1v1h-1zM24,35h1v1h-1zM25,35h1v1h-1zM26,35h1v1h-1zM27,35h1v1h-1zM28,35h1v1h-1zM29,35h1v1h-1z"/>
</g>
<rect x="-0.5" y="-0.5" width="37" height="37" fill="url(#dots)"/>
</g>
<rect x="1.50" y="23.10" width="99.00" height="97.90" fill="none" stroke="#333" stroke-width="1.0"/>
<text transform="translate(54.40,19.30) scale(1.07,1)" font-size="11" text-anchor="middle" fill="#262626">Ground truth</text>
<g transform="translate(116.70,27.50) scale(2.5972,2.5000)">
<g shape-rendering="crispEdges">
<path fill="#9a56c6" d="M0,0h1v1h-1zM1,0h1v1h-1zM2,0h1v1h-1zM3,0h1v1h-1zM4,0h1v1h-1zM5,0h1v1h-1zM6,0h1v1h-1zM7,0h1v1h-1zM8,0h1v1h-1zM9,0h1v1h-1zM10,0h1v1h-1zM11,0h1v1h-1zM12,0h1v1h-1zM14,0h1v1h-1zM15,0h1v1h-1zM16,0h1v1h-1zM17,0h1v1h-1zM18,0h1v1h-1zM19,0h1v1h-1zM20,0h1v1h-1zM21,0h1v1h-1zM23,0h1v1h-1zM24,0h1v1h-1zM25,0h1v1h-1zM26,0h1v1h-1zM27,0h1v1h-1zM28,0h1v1h-1zM29,0h1v1h-1zM30,0h1v1h-1zM31,0h1v1h-1zM32,0h1v1h-1zM33,0h1v1h-1zM34,0h1v1h-1zM35,0h1v1h-1zM0,1h1v1h-1zM1,1h1v1h-1zM2,1h1v1h-1zM17,1h1v1h-1zM19,1h1v1h-1zM20,1h1v1h-1zM22,1h1v1h-1zM23,1h1v1h-1zM24,1h1v1h-1zM27,1h1v1h-1zM28,1h1v1h-1zM29,1h1v1h-1zM30,1h1v1h-1zM31,1h1v1h-1zM32,1h1v1h-1zM33,1h1v1h-1zM34,1h1v1h-1zM35,1h1v1h-1zM1,2h1v1h-1zM17,2h1v1h-1zM18,2h1v1h-1zM22,2h1v1h-1zM23,2h1v1h-1zM25,2h1v1h-1zM26,2h1v1h-1zM27,2h1v1h-1zM28,2h1v1h-1zM29,2h1v1h-1zM30,2h1v1h-1zM31,2h1v1h-1zM32,2h1v1h-1zM33,2h1v1h-1zM34,2h1v1h-1zM35,2h1v1h-1zM0,3h1v1h-1zM17,3h1v1h-1zM18,3h1v1h-1zM19,3h1v1h-1zM21,3h1v1h-1zM22,3h1v1h-1zM24,3h1v1h-1zM25,3h1v1h-1zM27,3h1v1h-1zM28,3h1v1h-1zM29,3h1v1h-1zM30,3h1v1h-1zM31,3h1v1h-1zM32,3h1v1h-1zM33,3h1v1h-1zM34,3h1v1h-1zM35,3h1v1h-1zM0,4h1v1h-1zM1,4h1v1h-1zM17,4h1v1h-1zM18,4h1v1h-1zM20,4h1v1h-1zM22,4h1v1h-1zM23,4h1v1h-1zM24,4h1v1h-1zM25,4h1v1h-1zM26,4h1v1h-1zM27,4h1v1h-1zM28,4h1v1h-1zM29,4h1v1h-1zM30,4h1v1h-1zM31,4h1v1h-1zM32,4h1v1h-1zM34,4h1v1h-1zM1,5h1v1h-1zM18,5h1v1h-1zM21,5h1v1h-1zM23,5h1v1h-1zM24,5h1v1h-1zM25,5h1v1h-1zM26,5h1v1h-1zM27,5h1v1h-1zM28,5h1v1h-1zM30,5h1v1h-1zM31,5h1v1h-1zM32,5h1v1h-1zM33,5h1v1h-1zM35,5h1v1h-1zM17,6h1v1h-1zM19,6h1v1h-1zM20,6h1v1h-1zM22,6h1v1h-1zM24,6h1v1h-1zM25,6h1v1h-1zM26,6h1v1h-1zM27,6h1v1h-1zM28,6h1v1h-1zM18,7h1v1h-1zM23,7h1v1h-1zM25,7h1v1h-1zM27,7h1v1h-1zM28,7h1v1h-1zM29,7h1v1h-1zM32,7h1v1h-1zM33,7h1v1h-1zM34,7h1v1h-1zM16,8h1v1h-1zM17,8h1v1h-1zM18,8h1v1h-1zM20,8h1v1h-1zM22,8h1v1h-1zM23,8h1v1h-1zM24,8h1v1h-1zM26,8h1v1h-1zM27,8h1v1h-1zM28,8h1v1h-1zM30,8h1v1h-1zM33,8h1v1h-1zM16,9h1v1h-1zM17,9h1v1h-1zM19,9h1v1h-1zM23,9h1v1h-1zM25,9h1v1h-1zM27,9h1v1h-1zM28,9h1v1h-1zM29,9h1v1h-1zM30,9h1v1h-1zM15,10h1v1h-1zM16,10h1v1h-1zM18,10h1v1h-1zM19,10h1v1h-1zM20,10h1v1h-1zM22,10h1v1h-1zM24,10h1v1h-1zM26,10h1v1h-1zM27,10h1v1h-1zM29,10h1v1h-1zM30,10h1v1h-1zM31,10h1v1h-1zM32,10h1v1h-1zM35,10h1v1h-1zM18,11h1v1h-1zM19,11h1v1h-1zM20,11h1v1h-1zM21,11h1v1h-1zM22,11h1v1h-1zM23,11h1v1h-1zM25,11h1v1h-1zM26,11h1v1h-1zM27,11h1v1h-1zM28,11h1v1h-1zM29,11h1v1h-1zM30,11h1v1h-1zM31,11h1v1h-1zM32,11h1v1h-1zM33,11h1v1h-1zM34,11h1v1h-1zM35,11h1v1h-1zM14,12h1v1h-1zM15,12h1v1h-1zM17,12h1v1h-1zM18,12h1v1h-1zM19,12h1v1h-1zM20,12h1v1h-1zM21,12h1v1h-1zM22,12h1v1h-1zM24,12h1v1h-1zM26,12h1v1h-1zM27,12h1v1h-1zM28,12h1v1h-1zM29,12h1v1h-1zM30,12h1v1h-1zM31,12h1v1h-1zM32,12h1v1h-1zM33,12h1v1h-1zM34,12h1v1h-1zM35,12h1v1h-1zM16,13h1v1h-1zM17,13h1v1h-1zM18,13h1v1h-1zM19,13h1v1h-1zM20,13h1v1h-1zM21,13h1v1h-1zM22,13h1v1h-1zM23,13h1v1h-1zM25,13h1v1h-1zM26,13h1v1h-1zM27,13h1v1h-1zM28,13h1v1h-1zM30,13h1v1h-1zM34,13h1v1h-1zM35,13h1v1h-1zM15,14h1v1h-1zM17,14h1v1h-1zM19,14h1v1h-1zM20,14h1v1h-1zM21,14h1v1h-1zM22,14h1v1h-1zM24,14h1v1h-1zM27,14h1v1h-1zM29,14h1v1h-1zM31,14h1v1h-1zM32,14h1v1h-1zM33,14h1v1h-1zM34,14h1v1h-1zM35,14h1v1h-1zM0,15h1v1h-1zM1,15h1v1h-1zM2,15h1v1h-1zM4,15h1v1h-1zM5,15h1v1h-1zM6,15h1v1h-1zM7,15h1v1h-1zM8,15h1v1h-1zM11,15h1v1h-1zM13,15h1v1h-1zM14,15h1v1h-1zM15,15h1v1h-1zM16,15h1v1h-1zM19,15h1v1h-1zM20,15h1v1h-1zM21,15h1v1h-1zM23,15h1v1h-1zM25,15h1v1h-1zM26,15h1v1h-1zM28,15h1v1h-1zM30,15h1v1h-1zM32,15h1v1h-1zM33,15h1v1h-1zM34,15h1v1h-1zM35,15h1v1h-1zM0,16h1v1h-1zM1,16h1v1h-1zM2,16h1v1h-1zM3,16h1v1h-1zM5,16h1v1h-1zM6,16h1v1h-1zM7,16h1v1h-1zM8,16h1v1h-1zM10,16h1v1h-1zM12,16h1v1h-1zM13,16h1v1h-1zM14,16h1v1h-1zM15,16h1v1h-1zM16,16h1v1h-1zM17,16h1v1h-1zM19,16h1v1h-1zM20,16h1v1h-1zM21,16h1v1h-1zM22,16h1v1h-1zM24,16h1v1h-1zM25,16h1v1h-1zM27,16h1v1h-1zM29,16h1v1h-1zM30,16h1v1h-1zM31,16h1v1h-1zM32,16h1v1h-1zM34,16h1v1h-1zM35,16h1v1h-1zM4,17h1v1h-1zM6,17h1v1h-1zM7,17h1v1h-1zM8,17h1v1h-1zM11,17h1v1h-1zM14,17h1v1h-1zM15,17h1v1h-1zM16,17h1v1h-1zM5,18h1v1h-1zM8,18h1v1h-1zM9,18h1v1h-1zM11,18h1v1h-1zM13,18h1v1h-1zM14,18h1v1h-1zM15,18h1v1h-1zM6,19h1v1h-1zM7,19h1v1h-1zM8,19h1v1h-1zM10,19h1v1h-1zM12,19h1v1h-1zM13,19h1v1h-1zM14,19h1v1h-1zM15,19h1v1h-1zM16,19h1v1h-1zM7,20h1v1h-1zM9,20h1v1h-1zM12,20h1v1h-1zM13,20h1v1h-1zM14,20h1v1h-1zM15,20h1v1h-1zM16,20h1v1h-1zM8,21h1v1h-1zM9,21h1v1h-1zM12,21h1v1h-1zM14,21h1v1h-1zM15,21h1v1h-1zM16,21h1v1h-1zM8,22h1v1h-1zM10,22h1v1h-1zM13,22h1v1h-1zM14,22h1v1h-1zM15,22h1v1h-1zM16,22h1v1h-1zM9,23h1v1h-1zM10,23h1v1h-1zM12,23h1v1h-1zM14,23h1v1h-1zM15,23h1v1h-1zM16,23h1v1h-1zM17,23h1v1h-1zM10,24h1v1h-1zM11,24h1v1h-1zM13,24h1v1h-1zM14,24h1v1h-1zM15,24h1v1h-1zM16,24h1v1h-1zM19,24h1v1h-1zM20,24h1v1h-1zM21,24h1v1h-1zM32,24h1v1h-1zM33,24h1v1h-1zM34,24h1v1h-1zM35,24h1v1h-1zM12,25h1v1h-1zM13,25h1v1h-1zM15,25h1v1h-1zM16,25h1v1h-1zM17,25h1v1h-1zM19,25h1v1h-1zM21,25h1v1h-1zM31,25h1v1h-1zM32,25h1v1h-1zM33,25h1v1h-1zM34,25h1v1h-1zM35,25h1v1h-1zM11,26h1v1h-1zM12,26h1v1h-1zM14,26h1v1h-1zM16,26h1v1h-1zM17,26h1v1h-1zM18,26h1v1h-1zM20,26h1v1h-1zM30,26h1v1h-1zM31,26h1v1h-1zM32,26h1v1h-1zM33,26h1v1h-1zM34,26h1v1h-1zM35,26h1v1h-1zM14,27h1v1h-1zM15,27h1v1h-1zM17,27h1v1h-1zM18,27h1v1h-1zM19,27h1v1h-1zM21,27h1v1h-1zM31,27h1v1h-1zM32,27h1v1h-1zM33,27h1v1h-1zM34,27h1v1h-1zM35,27h1v1h-1zM13,28h1v1h-1zM14,28h1v1h-1zM15,28h1v1h-1zM16,28h1v1h-1zM18,28h1v1h-1zM20,28h1v1h-1zM30,28h1v1h-1zM31,28h1v1h-1zM32,28h1v1h-1zM33,28h1v1h-1zM34,28h1v1h-1zM35,28h1v1h-1zM14,29h1v1h-1zM15,29h1v1h-1zM16,29h1v1h-1zM17,29h1v1h-1zM18,29h1v1h-1zM19,29h1v1h-1zM20,29h1v1h-1zM21,29h1v1h-1zM30,29h1v1h-1zM32,29h1v1h-1zM33,29h1v1h-1zM34,29h1v1h-1zM35,29h1v1h-1zM15,30h1v1h-1zM16,30h1v1h-1zM17,30h1v1h-1zM18,30h1v1h-1zM19,30h1v1h-1zM20,30h1v1h-1zM21,30h1v1h-1zM31,30h1v1h-1zM32,30h1v1h-1zM33,30h1v1h-1zM34,30h1v1h-1zM35,30h1v1h-1zM16,31h1v1h-1zM17,31h1v1h-1zM18,31h1v1h-1zM19,31h1v1h-1zM20,31h1v1h-1zM21,31h1v1h-1zM30,31h1v1h-1zM32,31h1v1h-1zM33,31h1v1h-1zM34,31h1v1h-1zM35,31h1v1h-1zM16,32h1v1h-1zM17,32h1v1h-1zM18,32h1v1h-1zM20,32h1v1h-1zM21,32h1v1h-1zM30,32h1v1h-1zM31,32h1v1h-1zM33,32h1v1h-1zM34,32h1v1h-1zM35,32h1v1h-1zM17,33h1v1h-1zM18,33h1v1h-1zM19,33h1v1h-1zM21,33h1v1h-1zM31,33h1v1h-1zM33,33h1v1h-1zM34,33h1v1h-1zM17,34h1v1h-1zM18,34h1v1h-1zM19,34h1v1h-1zM20,34h1v1h-1zM21,34h1v1h-1zM30,34h1v1h-1zM32,34h1v1h-1zM33,34h1v1h-1zM34,34h1v1h-1zM35,34h1v1h-1zM18,35h1v1h-1zM19,35h1v1h-1zM20,35h1v1h-1zM31,35h1v1h-1zM33,35h1v1h-1zM34,35h1v1h-1zM35,35h1v1h-1z"/>
<path fill="#f57a1c" d="M13,0h1v1h-1zM22,0h1v1h-1zM12,1h1v1h-1zM14,1h1v1h-1zM18,1h1v1h-1zM21,1h1v1h-1zM25,1h1v1h-1zM26,1h1v1h-1zM0,2h1v1h-1zM19,2h1v1h-1zM20,2h1v1h-1zM21,2h1v1h-1zM24,2h1v1h-1zM1,3h1v1h-1zM8,3h1v1h-1zM20,3h1v1h-1zM23,3h1v1h-1zM26,3h1v1h-1zM5,4h1v1h-1zM7,4h1v1h-1zM16,4h1v1h-1zM19,4h1v1h-1zM21,4h1v1h-1zM33,4h1v1h-1zM35,4h1v1h-1zM0,5h1v1h-1zM2,5h1v1h-1zM6,5h1v1h-1zM10,5h1v1h-1zM12,5h1v1h-1zM17,5h1v1h-1zM19,5h1v1h-1zM20,5h1v1h-1zM22,5h1v1h-1zM29,5h1v1h-1zM34,5h1v1h-1zM1,6h1v1h-1zM5,6h1v1h-1zM7,6h1v1h-1zM10,6h1v1h-1zM11,6h1v1h-1zM18,6h1v1h-1zM21,6h1v1h-1zM23,6h1v1h-1zM29,6h1v1h-1zM30,6h1v1h-1zM31,6h1v1h-1zM32,6h1v1h-1zM33,6h1v1h-1zM34,6h1v1h-1zM35,6h1v1h-1zM2,7h1v1h-1zM9,7h1v1h-1zM10,7h1v1h-1zM12,7h1v1h-1zM17,7h1v1h-1zM19,7h1v1h-1zM20,7h1v1h-1zM21,7h1v1h-1zM22,7h1v1h-1zM24,7h1v1h-1zM26,7h1v1h-1zM30,7h1v1h-1zM31,7h1v1h-1zM35,7h1v1h-1zM3,8h1v1h-1zM8,8h1v1h-1zM11,8h1v1h-1zM19,8h1v1h-1zM21,8h1v1h-1zM25,8h1v1h-1zM29,8h1v1h-1zM31,8h1v1h-1zM32,8h1v1h-1zM34,8h1v1h-1zM35,8h1v1h-1zM4,9h1v1h-1zM7,9h1v1h-1zM10,9h1v1h-1zM12,9h1v1h-1zM13,9h1v1h-1zM14,9h1v1h-1zM15,9h1v1h-1zM18,9h1v1h-1zM20,9h1v1h-1zM21,9h1v1h-1zM22,9h1v1h-1zM24,9h1v1h-1zM26,9h1v1h-1zM31,9h1v1h-1zM32,9h1v1h-1zM33,9h1v1h-1zM34,9h1v1h-1zM35,9h1v1h-1zM3,10h1v1h-1zM5,10h1v1h-1zM8,10h1v1h-1zM10,10h1v1h-1zM13,10h1v1h-1zM14,10h1v1h-1zM17,10h1v1h-1zM21,10h1v1h-1zM23,10h1v1h-1zM25,10h1v1h-1zM28,10h1v1h-1zM33,10h1v1h-1zM34,10h1v1h-1zM2,11h1v1h-1zM6,11h1v1h-1zM9,11h1v1h-1zM12,11h1v1h-1zM13,11h1v1h-1zM14,11h1v1h-1zM15,11h1v1h-1zM16,11h1v1h-1zM17,11h1v1h-1zM24,11h1v1h-1zM0,12h1v1h-1zM1,12h1v1h-1zM3,12h1v1h-1zM6,12h1v1h-1zM8,12h1v1h-1zM10,12h1v1h-1zM16,12h1v1h-1zM23,12h1v1h-1zM25,12h1v1h-1zM0,13h1v1h-1zM3,13h1v1h-1zM14,13h1v1h-1zM15,13h1v1h-1zM24,13h1v1h-1zM29,13h1v1h-1zM31,13h1v1h-1zM32,13h1v1h-1zM33,13h1v1h-1zM6,14h1v1h-1zM13,14h1v1h-1zM14,14h1v1h-1zM16,14h1v1h-1zM18,14h1v1h-1zM23,14h1v1h-1zM25,14h1v1h-1zM26,14h1v1h-1zM28,14h1v1h-1zM30,14h1v1h-1zM3,15h1v1h-1zM9,15h1v1h-1zM10,15h1v1h-1zM12,15h1v1h-1zM17,15h1v1h-1zM18,15h1v1h-1zM22,15h1v1h-1zM24,15h1v1h-1zM27,15h1v1h-1zM29,15h1v1h-1zM31,15h1v1h-1zM4,16h1v1h-1zM9,16h1v1h-1zM11,16h1v1h-1zM18,16h1v1h-1zM23,16h1v1h-1zM26,16h1v1h-1zM28,16h1v1h-1zM33,16h1v1h-1zM5,17h1v1h-1zM9,17h1v1h-1zM10,17h1v1h-1zM12,17h1v1h-1zM13,17h1v1h-1zM17,17h1v1h-1zM18,17h1v1h-1zM22,17h1v1h-1zM29,17h1v1h-1zM6,18h1v1h-1zM7,18h1v1h-1zM10,18h1v1h-1zM12,18h1v1h-1zM16,18h1v1h-1zM20,18h1v1h-1zM32,18h1v1h-1zM35,18h1v1h-1zM9,19h1v1h-1zM11,19h1v1h-1zM17,19h1v1h-1zM21,19h1v1h-1zM27,19h1v1h-1zM29,19h1v1h-1zM31,19h1v1h-1zM32,19h1v1h-1zM8,20h1v1h-1zM10,20h1v1h-1zM11,20h1v1h-1zM18,20h1v1h-1zM19,20h1v1h-1zM30,20h1v1h-1zM31,20h1v1h-1zM1,21h1v1h-1zM7,21h1v1h-1zM10,21h1v1h-1zM11,21h1v1h-1zM13,21h1v1h-1zM19,21h1v1h-1zM21,21h1v1h-1zM23,21h1v1h-1zM24,21h1v1h-1zM30,21h1v1h-1zM31,21h1v1h-1zM2,22h1v1h-1zM5,22h1v1h-1zM7,22h1v1h-1zM9,22h1v1h-1zM11,22h1v1h-1zM12,22h1v1h-1zM20,22h1v1h-1zM24,22h1v1h-1zM29,22h1v1h-1zM3,23h1v1h-1zM6,23h1v1h-1zM8,23h1v1h-1zM11,23h1v1h-1zM13,23h1v1h-1zM19,23h1v1h-1zM24,23h1v1h-1zM12,24h1v1h-1zM17,24h1v1h-1zM18,24h1v1h-1zM31,24h1v1h-1zM4,25h1v1h-1zM6,25h1v1h-1zM11,25h1v1h-1zM14,25h1v1h-1zM18,25h1v1h-1zM20,25h1v1h-1zM28,25h1v1h-1zM30,25h1v1h-1zM5,26h1v1h-1zM13,26h1v1h-1zM15,26h1v1h-1zM19,26h1v1h-1zM21,26h1v1h-1zM29,26h1v1h-1zM4,27h1v1h-1zM6,27h1v1h-1zM12,27h1v1h-1zM13,27h1v1h-1zM16,27h1v1h-1zM20,27h1v1h-1zM25,27h1v1h-1zM26,27h1v1h-1zM28,27h1v1h-1zM30,27h1v1h-1zM11,28h1v1h-1zM12,28h1v1h-1zM17,28h1v1h-1zM19,28h1v1h-1zM21,28h1v1h-1zM23,28h1v1h-1zM24,28h1v1h-1zM25,28h1v1h-1zM27,28h1v1h-1zM10,29h1v1h-1zM11,29h1v1h-1zM23,29h1v1h-1zM24,29h1v1h-1zM29,29h1v1h-1zM31,29h1v1h-1zM7,30h1v1h-1zM11,30h1v1h-1zM22,30h1v1h-1zM30,30h1v1h-1zM1,31h1v1h-1zM7,31h1v1h-1zM8,31h1v1h-1zM9,31h1v1h-1zM10,31h1v1h-1zM11,31h1v1h-1zM12,31h1v1h-1zM29,31h1v1h-1zM31,31h1v1h-1zM2,32h1v1h-1zM11,32h1v1h-1zM13,32h1v1h-1zM19,32h1v1h-1zM32,32h1v1h-1zM10,33h1v1h-1zM14,33h1v1h-1zM16,33h1v1h-1zM20,33h1v1h-1zM25,33h1v1h-1zM27,33h1v1h-1zM30,33h1v1h-1zM32,33h1v1h-1zM35,33h1v1h-1zM6,34h1v1h-1zM9,34h1v1h-1zM15,34h1v1h-1zM26,34h1v1h-1zM29,34h1v1h-1zM31,34h1v1h-1zM7,35h1v1h-1zM8,35h1v1h-1zM9,35h1v1h-1zM10,35h1v1h-1zM14,35h1v1h-1zM16,35h1v1h-1zM21,35h1v1h-1zM25,35h1v1h-1zM27,35h1v1h-1zM30,35h1v1h-1zM32,35h1v1h-1z"/>
<path fill="#2f78c4" d="M3,1h1v1h-1zM4,1h1v1h-1zM5,1h1v1h-1zM6,1h1v1h-1zM7,1h1v1h-1zM8,1h1v1h-1zM9,1h1v1h-1zM10,1h1v1h-1zM11,1h1v1h-1zM13,1h1v1h-1zM15,1h1v1h-1zM16,1h1v1h-1zM2,2h1v1h-1zM3,2h1v1h-1zM4,2h1v1h-1zM5,2h1v1h-1zM6,2h1v1h-1zM7,2h1v1h-1zM8,2h1v1h-1zM9,2h1v1h-1zM10,2h1v1h-1zM11,2h1v1h-1zM12,2h1v1h-1zM13,2h1v1h-1zM14,2h1v1h-1zM15,2h1v1h-1zM16,2h1v1h-1zM2,3h1v1h-1zM3,3h1v1h-1zM4,3h1v1h-1zM5,3h1v1h-1zM6,3h1v1h-1zM7,3h1v1h-1zM9,3h1v1h-1zM10,3h1v1h-1zM11,3h1v1h-1zM12,3h1v1h-1zM13,3h1v1h-1zM14,3h1v1h-1zM15,3h1v1h-1zM16,3h1v1h-1zM2,4h1v1h-1zM3,4h1v1h-1zM4,4h1v1h-1zM6,4h1v1h-1zM8,4h1v1h-1zM9,4h1v1h-1zM10,4h1v1h-1zM11,4h1v1h-1zM12,4h1v1h-1zM13,4h1v1h-1zM14,4h1v1h-1zM15,4h1v1h-1zM3,5h1v1h-1zM4,5h1v1h-1zM5,5h1v1h-1zM7,5h1v1h-1zM8,5h1v1h-1zM9,5h1v1h-1zM11,5h1v1h-1zM13,5h1v1h-1zM14,5h1v1h-1zM15,5h1v1h-1zM16,5h1v1h-1zM0,6h1v1h-1zM2,6h1v1h-1zM3,6h1v1h-1zM4,6h1v1h-1zM6,6h1v1h-1zM8,6h1v1h-1zM9,6h1v1h-1zM12,6h1v1h-1zM13,6h1v1h-1zM14,6h1v1h-1zM15,6h1v1h-1zM16,6h1v1h-1zM0,7h1v1h-1zM1,7h1v1h-1zM3,7h1v1h-1zM4,7h1v1h-1zM5,7h1v1h-1zM6,7h1v1h-1zM7,7h1v1h-1zM8,7h1v1h-1zM11,7h1v1h-1zM13,7h1v1h-1zM14,7h1v1h-1zM15,7h1v1h-1zM16,7h1v1h-1zM0,8h1v1h-1zM1,8h1v1h-1zM2,8h1v1h-1zM4,8h1v1h-1zM5,8h1v1h-1zM6,8h1v1h-1zM7,8h1v1h-1zM9,8h1v1h-1zM10,8h1v1h-1zM12,8h1v1h-1zM13,8h1v1h-1zM14,8h1v1h-1zM15,8h1v1h-1zM0,9h1v1h-1zM1,9h1v1h-1zM2,9h1v1h-1zM3,9h1v1h-1zM5,9h1v1h-1zM6,9h1v1h-1zM8,9h1v1h-1zM9,9h1v1h-1zM11,9h1v1h-1zM0,10h1v1h-1zM1,10h1v1h-1zM2,10h1v1h-1zM4,10h1v1h-1zM6,10h1v1h-1zM7,10h1v1h-1zM9,10h1v1h-1zM11,10h1v1h-1zM12,10h1v1h-1zM0,11h1v1h-1zM1,11h1v1h-1zM3,11h1v1h-1zM4,11h1v1h-1zM5,11h1v1h-1zM7,11h1v1h-1zM8,11h1v1h-1zM10,11h1v1h-1zM11,11h1v1h-1zM2,12h1v1h-1zM4,12h1v1h-1zM5,12h1v1h-1zM7,12h1v1h-1zM9,12h1v1h-1zM11,12h1v1h-1zM12,12h1v1h-1zM13,12h1v1h-1zM1,13h1v1h-1zM2,13h1v1h-1zM4,13h1v1h-1zM5,13h1v1h-1zM6,13h1v1h-1zM7,13h1v1h-1zM8,13h1v1h-1zM9,13h1v1h-1zM10,13h1v1h-1zM11,13h1v1h-1zM12,13h1v1h-1zM13,13h1v1h-1zM0,14h1v1h-1zM1,14h1v1h-1zM2,14h1v1h-1zM3,14h1v1h-1zM4,14h1v1h-1zM5,14h1v1h-1zM7,14h1v1h-1zM8,14h1v1h-1zM9,14h1v1h-1zM10,14h1v1h-1zM11,14h1v1h-1zM12,14h1v1h-1z"/>
<path fill="#2ea43a" d="M0,17h1v1h-1zM1,17h1v1h-1zM2,17h1v1h-1zM3,17h1v1h-1zM0,18h1v1h-1zM1,18h1v1h-1zM2,18h1v1h-1zM3,18h1v1h-1zM4,18h1v1h-1zM0,19h1v1h-1zM1,19h1v1h-1zM2,19h1v1h-1zM3,19h1v1h-1zM4,19h1v1h-1zM5,19h1v1h-1zM0,20h1v1h-1zM1,20h1v1h-1zM2,20h1v1h-1zM3,20h1v1h-1zM4,20h1v1h-1zM5,20h1v1h-1zM6,20h1v1h-1zM0,21h1v1h-1zM2,21h1v1h-1zM3,21h1v1h-1zM4,21h1v1h-1zM5,21h1v1h-1zM6,21h1v1h-1zM0,22h1v1h-1zM1,22h1v1h-1zM3,22h1v1h-1zM4,22h1v1h-1zM6,22h1v1h-1zM0,23h1v1h-1zM1,23h1v1h-1zM2,23h1v1h-1zM4,23h1v1h-1zM5,23h1v1h-1zM7,23h1v1h-1zM0,24h1v1h-1zM1,24h1v1h-1zM2,24h1v1h-1zM3,24h1v1h-1zM4,24h1v1h-1zM5,24h1v1h-1zM6,24h1v1h-1zM7,24h1v1h-1zM8,24h1v1h-1zM9,24h1v1h-1zM0,25h1v1h-1zM1,25h1v1h-1zM2,25h1v1h-1zM3,25h1v1h-1zM5,25h1v1h-1zM7,25h1v1h-1zM8,25h1v1h-1zM9,25h1v1h-1zM10,25h1v1h-1zM0,26h1v1h-1zM1,26h1v1h-1zM2,26h1v1h-1zM3,26h1v1h-1zM4,26h1v1h-1zM6,26h1v1h-1zM7,26h1v1h-1zM8,26h1v1h-1zM9,26h1v1h-1zM10,26h1v1h-1zM0,27h1v1h-1zM1,27h1v1h-1zM2,27h1v1h-1zM3,27h1v1h-1zM5,27h1v1h-1zM7,27h1v1h-1zM8,27h1v1h-1zM9,27h1v1h-1zM10,27h1v1h-1zM11,27h1v1h-1zM0,28h1v1h-1zM1,28h1v1h-1zM2,28h1v1h-1zM3,28h1v1h-1zM4,28h1v1h-1zM5,28h1v1h-1zM6,28h1v1h-1zM7,28h1v1h-1zM8,28h1v1h-1zM9,28h1v1h-1zM10,28h1v1h-1zM0,29h1v1h-1zM1,29h1v1h-1zM2,29h1v1h-1zM3,29h1v1h-1zM4,29h1v1h-1zM5,29h1v1h-1zM6,29h1v1h-1zM7,29h1v1h-1zM8,29h1v1h-1zM9,29h1v1h-1zM12,29h1v1h-1zM13,29h1v1h-1zM0,30h1v1h-1zM1,30h1v1h-1zM2,30h1v1h-1zM3,30h1v1h-1zM4,30h1v1h-1zM5,30h1v1h-1zM6,30h1v1h-1zM8,30h1v1h-1zM9,30h1v1h-1zM10,30h1v1h-1zM12,30h1v1h-1zM13,30h1v1h-1zM14,30h1v1h-1zM0,31h1v1h-1zM2,31h1v1h-1zM3,31h1v1h-1zM4,31h1v1h-1zM5,31h1v1h-1zM6,31h1v1h-1zM13,31h1v1h-1zM14,31h1v1h-1zM15,31h1v1h-1zM0,32h1v1h-1zM1,32h1v1h-1zM3,32h1v1h-1zM4,32h1v1h-1zM5,32h1v1h-1zM6,32h1v1h-1zM7,32h1v1h-1zM8,32h1v1h-1zM9,32h1v1h-1zM10,32h1v1h-1zM12,32h1v1h-1zM14,32h1v1h-1zM15,32h1v1h-1zM0,33h1v1h-1zM1,33h1v1h-1zM2,33h1v1h-1zM3,33h1v1h-1zM4,33h1v1h-1zM5,33h1v1h-1zM6,33h1v1h-1zM7,33h1v1h-1zM8,33h1v1h-1zM9,33h1v1h-1zM11,33h1v1h-1zM12,33h1v1h-1zM13,33h1v1h-1zM15,33h1v1h-1zM0,34h1v1h-1zM1,34h1v1h-1zM2,34h1v1h-1zM3,34h1v1h-1zM4,34h1v1h-1zM5,34h1v1h-1zM7,34h1v1h-1zM8,34h1v1h-1zM10,34h1v1h-1zM11,34h1v1h-1zM12,34h1v1h-1zM13,34h1v1h-1zM14,34h1v1h-1zM16,34h1v1h-1zM0,35h1v1h-1zM1,35h1v1h-1zM2,35h1v1h-1zM3,35h1v1h-1zM4,35h1v1h-1zM5,35h1v1h-1zM6,35h1v1h-1zM11,35h1v1h-1zM12,35h1v1h-1zM13,35h1v1h-1zM15,35h1v1h-1zM17,35h1v1h-1z"/>
<path fill="#dc2529" d="M19,17h1v1h-1zM20,17h1v1h-1zM21,17h1v1h-1zM23,17h1v1h-1zM24,17h1v1h-1zM25,17h1v1h-1zM26,17h1v1h-1zM27,17h1v1h-1zM28,17h1v1h-1zM30,17h1v1h-1zM31,17h1v1h-1zM32,17h1v1h-1zM33,17h1v1h-1zM34,17h1v1h-1zM35,17h1v1h-1zM17,18h1v1h-1zM18,18h1v1h-1zM19,18h1v1h-1zM21,18h1v1h-1zM22,18h1v1h-1zM23,18h1v1h-1zM24,18h1v1h-1zM25,18h1v1h-1zM26,18h1v1h-1zM27,18h1v1h-1zM28,18h1v1h-1zM29,18h1v1h-1zM30,18h1v1h-1zM31,18h1v1h-1zM33,18h1v1h-1zM34,18h1v1h-1zM18,19h1v1h-1zM19,19h1v1h-1zM20,19h1v1h-1zM22,19h1v1h-1zM23,19h1v1h-1zM24,19h1v1h-1zM25,19h1v1h-1zM26,19h1v1h-1zM28,19h1v1h-1zM30,19h1v1h-1zM33,19h1v1h-1zM34,19h1v1h-1zM35,19h1v1h-1zM17,20h1v1h-1zM20,20h1v1h-1zM21,20h1v1h-1zM22,20h1v1h-1zM23,20h1v1h-1zM24,20h1v1h-1zM25,20h1v1h-1zM26,20h1v1h-1zM27,20h1v1h-1zM28,20h1v1h-1zM29,20h1v1h-1zM32,20h1v1h-1zM33,20h1v1h-1zM34,20h1v1h-1zM35,20h1v1h-1zM17,21h1v1h-1zM18,21h1v1h-1zM20,21h1v1h-1zM22,21h1v1h-1zM25,21h1v1h-1zM26,21h1v1h-1zM27,21h1v1h-1zM28,21h1v1h-1zM29,21h1v1h-1zM32,21h1v1h-1zM33,21h1v1h-1zM34,21h1v1h-1zM35,21h1v1h-1zM17,22h1v1h-1zM18,22h1v1h-1zM19,22h1v1h-1zM21,22h1v1h-1zM22,22h1v1h-1zM23,22h1v1h-1zM25,22h1v1h-1zM26,22h1v1h-1zM27,22h1v1h-1zM28,22h1v1h-1zM30,22h1v1h-1zM31,22h1v1h-1zM32,22h1v1h-1zM33,22h1v1h-1zM34,22h1v1h-1zM35,22h1v1h-1zM18,23h1v1h-1zM20,23h1v1h-1zM21,23h1v1h-1zM22,23h1v1h-1zM23,23h1v1h-1zM25,23h1v1h-1zM26,23h1v1h-1zM27,23h1v1h-1zM28,23h1v1h-1zM29,23h1v1h-1zM30,23h1v1h-1zM31,23h1v1h-1zM32,23h1v1h-1zM33,23h1v1h-1zM34,23h1v1h-1zM35,23h1v1h-1zM22,24h1v1h-1zM23,24h1v1h-1zM24,24h1v1h-1zM25,24h1v1h-1zM26,24h1v1h-1zM27,24h1v1h-1zM28,24h1v1h-1zM29,24h1v1h-1zM30,24h1v1h-1zM22,25h1v1h-1zM23,25h1v1h-1zM24,25h1v1h-1zM25,25h1v1h-1zM26,25h1v1h-1zM27,25h1v1h-1zM29,25h1v1h-1zM22,26h1v1h-1zM23,26h1v1h-1zM24,26h1v1h-1zM25,26h1v1h-1zM26,26h1v1h-1zM27,26h1v1h-1zM28,26h1v1h-1zM22,27h1v1h-1zM23,27h1v1h-1zM24,27h1v1h-1zM27,27h1v1h-1zM29,27h1v1h-1zM22,28h1v1h-1zM26,28h1v1h-1zM28,28h1v1h-1zM29,28h1v1h-1zM22,29h1v1h-1zM25,29h1v1h-1zM26,29h1v1h-1zM27,29h1v1h-1zM28,29h1v1h-1zM23,30h1v1h-1zM24,30h1v1h-1zM25,30h1v1h-1zM26,30h1v1h-1zM27,30h1v1h-1zM28,30h1v1h-1zM29,30h1v1h-1zM22,31h1v1h-1zM23,31h1v1h-1zM24,31h1v1h-1zM25,31h1v1h-1zM26,31h1v1h-1zM27,31h1v1h-1zM28,31h1v1h-1zM22,32h1v1h-1zM23,32h1v1h-1zM24,32h1v1h-1zM25,32h1v1h-1zM26,32h1v1h-1zM27,32h1v1h-1zM28,32h1v1h-1zM29,32h1v1h-1zM22,33h1v1h-1zM23,33h1v1h-1zM24,33h1v1h-1zM26,33h1v1h-1zM28,33h1v1h-1zM29,33h1v1h-1zM22,34h1v1h-1zM23,34h1v1h-1zM24,34h1v1h-1zM25,34h1v1h-1zM27,34h1v1h-1zM28,34h1v1h-1zM22,35h1v1h-1zM23,35h1v1h-1zM24,35h1v1h-1zM26,35h1v1h-1zM28,35h1v1h-1zM29,35h1v1h-1z"/>
</g>
<rect x="-0.5" y="-0.5" width="37" height="37" fill="url(#dots)"/>
</g>
<rect x="113.20" y="24.20" width="100.50" height="96.60" fill="none" stroke="#333" stroke-width="1.0"/>
<text transform="translate(168.70,19.30) scale(1.07,1)" font-size="11" text-anchor="middle" fill="#262626">Modality 1</text>
<g transform="translate(229.20,27.50) scale(2.6167,2.5000)">
<g shape-rendering="crispEdges">
<path fill="#9a56c6" d="M0,0h1v1h-1zM1,0h1v1h-1zM2,0h1v1h-1zM3,0h1v1h-1zM5,0h1v1h-1zM12,0h1v1h-1zM14,0h1v1h-1zM16,0h1v1h-1zM0,1h1v1h-1zM2,1h1v1h-1zM3,1h1v1h-1zM4,1h1v1h-1zM5,1h1v1h-1zM10,1h1v1h-1zM12,1h1v1h-1zM13,1h1v1h-1zM15,1h1v1h-1zM17,1h1v1h-1zM1,2h1v1h-1zM3,2h1v1h-1zM4,2h1v1h-1zM5,2h1v1h-1zM6,2h1v1h-1zM11,2h1v1h-1zM12,2h1v1h-1zM13,2h1v1h-1zM14,2h1v1h-1zM16,2h1v1h-1zM0,3h1v1h-1zM2,3h1v1h-1zM3,3h1v1h-1zM4,3h1v1h-1zM5,3h1v1h-1zM12,3h1v1h-1zM13,3h1v1h-1zM14,3h1v1h-1zM15,3h1v1h-1zM17,3h1v1h-1zM1,4h1v1h-1zM3,4h1v1h-1zM4,4h1v1h-1zM5,4h1v1h-1zM6,4h1v1h-1zM12,4h1v1h-1zM13,4h1v1h-1zM14,4h1v1h-1zM15,4h1v1h-1zM16,4h1v1h-1zM17,4h1v1h-1zM0,5h1v1h-1zM1,5h1v1h-1zM2,5h1v1h-1zM4,5h1v1h-1zM5,5h1v1h-1zM12,5h1v1h-1zM13,5h1v1h-1zM14,5h1v1h-1zM15,5h1v1h-1zM16,5h1v1h-1zM17,5h1v1h-1zM7,6h1v1h-1zM9,6h1v1h-1zM24,6h1v1h-1zM25,6h1v1h-1zM27,6h1v1h-1zM28,6h1v1h-1zM29,6h1v1h-1zM3,7h1v1h-1zM24,7h1v1h-1zM26,7h1v1h-1zM27,7h1v1h-1zM28,7h1v1h-1zM29,7h1v1h-1zM24,8h1v1h-1zM25,8h1v1h-1zM26,8h1v1h-1zM27,8h1v1h-1zM28,8h1v1h-1zM29,8h1v1h-1zM13,9h1v1h-1zM14,9h1v1h-1zM24,9h1v1h-1zM25,9h1v1h-1zM26,9h1v1h-1zM27,9h1v1h-1zM28,9h1v1h-1zM10,10h1v1h-1zM24,10h1v1h-1zM26,10h1v1h-1zM27,10h1v1h-1zM28,10h1v1h-1zM29,10h1v1h-1zM9,11h1v1h-1zM12,11h1v1h-1zM24,11h1v1h-1zM25,11h1v1h-1zM26,11h1v1h-1zM27,11h1v1h-1zM28,11h1v1h-1zM29,11h1v1h-1zM0,12h1v1h-1zM1,12h1v1h-1zM2,12h1v1h-1zM4,12h1v1h-1zM5,12h1v1h-1zM12,12h1v1h-1zM13,12h1v1h-1zM14,12h1v1h-1zM15,12h1v1h-1zM16,12h1v1h-1zM17,12h1v1h-1zM0,13h1v1h-1zM1,13h1v1h-1zM3,13h1v1h-1zM4,13h1v1h-1zM5,13h1v1h-1zM12,13h1v1h-1zM13,13h1v1h-1zM14,13h1v1h-1zM15,13h1v1h-1zM16,13h1v1h-1zM17,13h1v1h-1zM0,14h1v1h-1zM1,14h1v1h-1zM2,14h1v1h-1zM3,14h1v1h-1zM4,14h1v1h-1zM5,14h1v1h-1zM12,14h1v1h-1zM14,14h1v1h-1zM15,14h1v1h-1zM16,14h1v1h-1zM17,14h1v1h-1zM0,15h1v1h-1zM1,15h1v1h-1zM2,15h1v1h-1zM3,15h1v1h-1zM4,15h1v1h-1zM5,15h1v1h-1zM12,15h1v1h-1zM13,15h1v1h-1zM15,15h1v1h-1zM16,15h1v1h-1zM17,15h1v1h-1zM0,16h1v1h-1zM1,16h1v1h-1zM2,16h1v1h-1zM3,16h1v1h-1zM5,16h1v1h-1zM9,16h1v1h-1zM12,16h1v1h-1zM13,16h1v1h-1zM15,16h1v1h-1zM17,16h1v1h-1zM0,17h1v1h-1zM1,17h1v1h-1zM2,17h1v1h-1zM3,17h1v1h-1zM4,17h1v1h-1zM5,17h1v1h-1zM12,17h1v1h-1zM14,17h1v1h-1zM16,17h1v1h-1zM17,17h1v1h-1zM4,18h1v1h-1zM6,18h1v1h-1zM7,18h1v1h-1zM8,18h1v1h-1zM9,18h1v1h-1zM10,18h1v1h-1zM11,18h1v1h-1zM13,18h1v1h-1zM15,18h1v1h-1zM17,18h1v1h-1zM18,18h1v1h-1zM20,18h1v1h-1zM21,18h1v1h-1zM22,18h1v1h-1zM23,18h1v1h-1zM25,18h1v1h-1zM26,18h1v1h-1zM27,18h1v1h-1zM28,18h1v1h-1zM29,18h1v1h-1zM30,18h1v1h-1zM31,18h1v1h-1zM32,18h1v1h-1zM33,18h1v1h-1zM34,18h1v1h-1zM35,18h1v1h-1zM5,19h1v1h-1zM7,19h1v1h-1zM8,19h1v1h-1zM9,19h1v1h-1zM10,19h1v1h-1zM14,19h1v1h-1zM15,19h1v1h-1zM16,19h1v1h-1zM17,19h1v1h-1zM18,19h1v1h-1zM19,19h1v1h-1zM20,19h1v1h-1zM21,19h1v1h-1zM22,19h1v1h-1zM23,19h1v1h-1zM24,19h1v1h-1zM25,19h1v1h-1zM26,19h1v1h-1zM27,19h1v1h-1zM28,19h1v1h-1zM29,19h1v1h-1zM30,19h1v1h-1zM33,19h1v1h-1zM34,19h1v1h-1zM35,19h1v1h-1zM5,20h1v1h-1zM6,20h1v1h-1zM7,20h1v1h-1zM8,20h1v1h-1zM9,20h1v1h-1zM10,20h1v1h-1zM12,20h1v1h-1zM13,20h1v1h-1zM14,20h1v1h-1zM15,20h1v1h-1zM16,20h1v1h-1zM17,20h1v1h-1zM18,20h1v1h-1zM19,20h1v1h-1zM20,20h1v1h-1zM21,20h1v1h-1zM22,20h1v1h-1zM23,20h1v1h-1zM24,20h1v1h-1zM25,20h1v1h-1zM26,20h1v1h-1zM27,20h1v1h-1zM28,20h1v1h-1zM30,20h1v1h-1zM31,20h1v1h-1zM32,20h1v1h-1zM33,20h1v1h-1zM34,20h1v1h-1zM35,20h1v1h-1zM6,21h1v1h-1zM7,21h1v1h-1zM8,21h1v1h-1zM9,21h1v1h-1zM10,21h1v1h-1zM11,21h1v1h-1zM12,21h1v1h-1zM13,21h1v1h-1zM14,21h1v1h-1zM15,21h1v1h-1zM16,21h1v1h-1zM17,21h1v1h-1zM18,21h1v1h-1zM19,21h1v1h-1zM20,21h1v1h-1zM21,21h1v1h-1zM22,21h1v1h-1zM24,21h1v1h-1zM25,21h1v1h-1zM26,21h1v1h-1zM27,21h1v1h-1zM29,21h1v1h-1zM30,21h1v1h-1zM31,21h1v1h-1zM32,21h1v1h-1zM34,21h1v1h-1zM35,21h1v1h-1zM7,22h1v1h-1zM8,22h1v1h-1zM9,22h1v1h-1zM10,22h1v1h-1zM11,22h1v1h-1zM12,22h1v1h-1zM13,22h1v1h-1zM15,22h1v1h-1zM17,22h1v1h-1zM18,22h1v1h-1zM19,22h1v1h-1zM20,22h1v1h-1zM21,22h1v1h-1zM22,22h1v1h-1zM23,22h1v1h-1zM25,22h1v1h-1zM26,22h1v1h-1zM27,22h1v1h-1zM28,22h1v1h-1zM29,22h1v1h-1zM31,22h1v1h-1zM33,22h1v1h-1zM34,22h1v1h-1zM35,22h1v1h-1zM8,23h1v1h-1zM9,23h1v1h-1zM10,23h1v1h-1zM12,23h1v1h-1zM13,23h1v1h-1zM14,23h1v1h-1zM16,23h1v1h-1zM17,23h1v1h-1zM18,23h1v1h-1zM20,23h1v1h-1zM21,23h1v1h-1zM22,23h1v1h-1zM23,23h1v1h-1zM25,23h1v1h-1zM26,23h1v1h-1zM27,23h1v1h-1zM28,23h1v1h-1zM29,23h1v1h-1zM30,23h1v1h-1zM32,23h1v1h-1zM34,23h1v1h-1zM35,23h1v1h-1zM9,24h1v1h-1zM10,24h1v1h-1zM11,24h1v1h-1zM12,24h1v1h-1zM13,24h1v1h-1zM15,24h1v1h-1zM17,24h1v1h-1zM18,24h1v1h-1zM19,24h1v1h-1zM20,24h1v1h-1zM21,24h1v1h-1zM22,24h1v1h-1zM23,24h1v1h-1zM24,24h1v1h-1zM25,24h1v1h-1zM26,24h1v1h-1zM27,24h1v1h-1zM28,24h1v1h-1zM29,24h1v1h-1zM31,24h1v1h-1zM32,24h1v1h-1zM33,24h1v1h-1zM35,24h1v1h-1zM10,25h1v1h-1zM11,25h1v1h-1zM12,25h1v1h-1zM13,25h1v1h-1zM14,25h1v1h-1zM16,25h1v1h-1zM17,25h1v1h-1zM18,25h1v1h-1zM20,25h1v1h-1zM22,25h1v1h-1zM23,25h1v1h-1zM24,25h1v1h-1zM25,25h1v1h-1zM26,25h1v1h-1zM28,25h1v1h-1zM29,25h1v1h-1zM30,25h1v1h-1zM32,25h1v1h-1zM33,25h1v1h-1zM34,25h1v1h-1zM35,25h1v1h-1zM10,26h1v1h-1zM11,26h1v1h-1zM12,26h1v1h-1zM13,26h1v1h-1zM14,26h1v1h-1zM15,26h1v1h-1zM16,26h1v1h-1zM17,26h1v1h-1zM18,26h1v1h-1zM19,26h1v1h-1zM21,26h1v1h-1zM22,26h1v1h-1zM23,26h1v1h-1zM24,26h1v1h-1zM26,26h1v1h-1zM28,26h1v1h-1zM30,26h1v1h-1zM31,26h1v1h-1zM32,26h1v1h-1zM33,26h1v1h-1zM34,26h1v1h-1zM35,26h1v1h-1zM11,27h1v1h-1zM12,27h1v1h-1zM13,27h1v1h-1zM14,27h1v1h-1zM15,27h1v1h-1zM16,27h1v1h-1zM18,27h1v1h-1zM20,27h1v1h-1zM22,27h1v1h-1zM23,27h1v1h-1zM24,27h1v1h-1zM25,27h1v1h-1zM26,27h1v1h-1zM27,27h1v1h-1zM29,27h1v1h-1zM30,27h1v1h-1zM32,27h1v1h-1zM33,27h1v1h-1zM34,27h1v1h-1zM35,27h1v1h-1zM12,28h1v1h-1zM13,28h1v1h-1zM14,28h1v1h-1zM15,28h1v1h-1zM17,28h1v1h-1zM18,28h1v1h-1zM19,28h1v1h-1zM20,28h1v1h-1zM22,28h1v1h-1zM24,28h1v1h-1zM25,28h1v1h-1zM26,28h1v1h-1zM27,28h1v1h-1zM28,28h1v1h-1zM29,28h1v1h-1zM30,28h1v1h-1zM31,28h1v1h-1zM32,28h1v1h-1zM33,28h1v1h-1zM34,28h1v1h-1zM35,28h1v1h-1zM14,29h1v1h-1zM15,29h1v1h-1zM16,29h1v1h-1zM17,29h1v1h-1zM18,29h1v1h-1zM19,29h1v1h-1zM20,29h1v1h-1zM21,29h1v1h-1zM23,29h1v1h-1zM24,29h1v1h-1zM26,29h1v1h-1zM27,29h1v1h-1zM28,29h1v1h-1zM29,29h1v1h-1zM30,29h1v1h-1zM31,29h1v1h-1zM32,29h1v1h-1zM33,29h1v1h-1zM34,29h1v1h-1zM35,29h1v1h-1zM15,30h1v1h-1zM16,30h1v1h-1zM17,30h1v1h-1zM18,30h1v1h-1zM19,30h1v1h-1zM20,30h1v1h-1zM22,30h1v1h-1zM24,30h1v1h-1zM25,30h1v1h-1zM27,30h1v1h-1zM28,30h1v1h-1zM29,30h1v1h-1zM30,30h1v1h-1zM31,30h1v1h-1zM32,30h1v1h-1zM33,30h1v1h-1zM34,30h1v1h-1zM35,30h1v1h-1zM16,31h1v1h-1zM17,31h1v1h-1zM19,31h1v1h-1zM20,31h1v1h-1zM21,31h1v1h-1zM22,31h1v1h-1zM23,31h1v1h-1zM24,31h1v1h-1zM25,31h1v1h-1zM26,31h1v1h-1zM27,31h1v1h-1zM28,31h1v1h-1zM29,31h1v1h-1zM32,31h1v1h-1zM33,31h1v1h-1zM34,31h1v1h-1zM35,31h1v1h-1zM16,32h1v1h-1zM17,32h1v1h-1zM18,32h1v1h-1zM19,32h1v1h-1zM20,32h1v1h-1zM21,32h1v1h-1zM23,32h1v1h-1zM24,32h1v1h-1zM25,32h1v1h-1zM26,32h1v1h-1zM27,32h1v1h-1zM28,32h1v1h-1zM30,32h1v1h-1zM32,32h1v1h-1zM33,32h1v1h-1zM34,32h1v1h-1zM17,33h1v1h-1zM18,33h1v1h-1zM19,33h1v1h-1zM20,33h1v1h-1zM22,33h1v1h-1zM23,33h1v1h-1zM24,33h1v1h-1zM25,33h1v1h-1zM26,33h1v1h-1zM28,33h1v1h-1zM29,33h1v1h-1zM31,33h1v1h-1zM32,33h1v1h-1zM35,33h1v1h-1zM17,34h1v1h-1zM19,34h1v1h-1zM20,34h1v1h-1zM21,34h1v1h-1zM22,34h1v1h-1zM23,34h1v1h-1zM24,34h1v1h-1zM25,34h1v1h-1zM27,34h1v1h-1zM30,34h1v1h-1zM32,34h1v1h-1zM33,34h1v1h-1zM34,34h1v1h-1zM35,34h1v1h-1zM18,35h1v1h-1zM19,35h1v1h-1zM20,35h1v1h-1zM21,35h1v1h-1zM22,35h1v1h-1zM23,35h1v1h-1zM24,35h1v1h-1zM25,35h1v1h-1zM26,35h1v1h-1zM27,35h1v1h-1zM28,35h1v1h-1zM29,35h1v1h-1zM30,35h1v1h-1zM31,35h1v1h-1zM32,35h1v1h-1zM33,35h1v1h-1zM34,35h1v1h-1zM35,35h1v1h-1z"/>
<path fill="#dc2529" d="M4,0h1v1h-1zM13,0h1v1h-1zM15,0h1v1h-1zM17,0h1v1h-1zM1,1h1v1h-1zM14,1h1v1h-1zM16,1h1v1h-1zM18,1h1v1h-1zM27,1h1v1h-1zM30,1h1v1h-1zM32,1h1v1h-1zM34,1h1v1h-1zM0,2h1v1h-1zM2,2h1v1h-1zM8,2h1v1h-1zM9,2h1v1h-1zM10,2h1v1h-1zM15,2h1v1h-1zM17,2h1v1h-1zM31,2h1v1h-1zM33,2h1v1h-1zM1,3h1v1h-1zM8,3h1v1h-1zM9,3h1v1h-1zM11,3h1v1h-1zM16,3h1v1h-1zM18,3h1v1h-1zM21,3h1v1h-1zM26,3h1v1h-1zM30,3h1v1h-1zM32,3h1v1h-1zM34,3h1v1h-1zM0,4h1v1h-1zM2,4h1v1h-1zM29,4h1v1h-1zM30,4h1v1h-1zM31,4h1v1h-1zM35,4h1v1h-1zM3,5h1v1h-1zM0,6h1v1h-1zM2,6h1v1h-1zM13,6h1v1h-1zM15,6h1v1h-1zM22,6h1v1h-1zM26,6h1v1h-1zM30,6h1v1h-1zM32,6h1v1h-1zM35,6h1v1h-1zM1,7h1v1h-1zM25,7h1v1h-1zM31,7h1v1h-1zM34,7h1v1h-1zM0,8h1v1h-1zM2,8h1v1h-1zM9,8h1v1h-1zM20,8h1v1h-1zM30,8h1v1h-1zM32,8h1v1h-1zM2,9h1v1h-1zM22,9h1v1h-1zM29,9h1v1h-1zM1,10h1v1h-1zM8,10h1v1h-1zM25,10h1v1h-1zM14,11h1v1h-1zM15,11h1v1h-1zM18,11h1v1h-1zM3,12h1v1h-1zM7,12h1v1h-1zM26,12h1v1h-1zM2,13h1v1h-1zM8,13h1v1h-1zM25,13h1v1h-1zM13,14h1v1h-1zM23,14h1v1h-1zM31,14h1v1h-1zM14,15h1v1h-1zM27,15h1v1h-1zM29,15h1v1h-1zM30,15h1v1h-1zM4,16h1v1h-1zM14,16h1v1h-1zM16,16h1v1h-1zM28,16h1v1h-1zM6,17h1v1h-1zM9,17h1v1h-1zM11,17h1v1h-1zM13,17h1v1h-1zM15,17h1v1h-1zM20,17h1v1h-1zM22,17h1v1h-1zM27,17h1v1h-1zM29,17h1v1h-1zM31,17h1v1h-1zM32,17h1v1h-1zM33,17h1v1h-1zM1,18h1v1h-1zM5,18h1v1h-1zM12,18h1v1h-1zM14,18h1v1h-1zM16,18h1v1h-1zM19,18h1v1h-1zM24,18h1v1h-1zM2,19h1v1h-1zM6,19h1v1h-1zM11,19h1v1h-1zM12,19h1v1h-1zM13,19h1v1h-1zM31,19h1v1h-1zM32,19h1v1h-1zM3,20h1v1h-1zM11,20h1v1h-1zM29,20h1v1h-1zM1,21h1v1h-1zM23,21h1v1h-1zM28,21h1v1h-1zM33,21h1v1h-1zM14,22h1v1h-1zM16,22h1v1h-1zM24,22h1v1h-1zM30,22h1v1h-1zM32,22h1v1h-1zM3,23h1v1h-1zM5,23h1v1h-1zM11,23h1v1h-1zM15,23h1v1h-1zM19,23h1v1h-1zM24,23h1v1h-1zM31,23h1v1h-1zM33,23h1v1h-1zM0,24h1v1h-1zM4,24h1v1h-1zM6,24h1v1h-1zM14,24h1v1h-1zM16,24h1v1h-1zM30,24h1v1h-1zM34,24h1v1h-1zM1,25h1v1h-1zM3,25h1v1h-1zM5,25h1v1h-1zM7,25h1v1h-1zM15,25h1v1h-1zM19,25h1v1h-1zM21,25h1v1h-1zM27,25h1v1h-1zM31,25h1v1h-1zM8,26h1v1h-1zM20,26h1v1h-1zM25,26h1v1h-1zM27,26h1v1h-1zM29,26h1v1h-1zM17,27h1v1h-1zM19,27h1v1h-1zM21,27h1v1h-1zM28,27h1v1h-1zM31,27h1v1h-1zM7,28h1v1h-1zM16,28h1v1h-1zM21,28h1v1h-1zM23,28h1v1h-1zM5,29h1v1h-1zM11,29h1v1h-1zM22,29h1v1h-1zM25,29h1v1h-1zM0,30h1v1h-1zM2,30h1v1h-1zM10,30h1v1h-1zM21,30h1v1h-1zM23,30h1v1h-1zM26,30h1v1h-1zM1,31h1v1h-1zM12,31h1v1h-1zM14,31h1v1h-1zM18,31h1v1h-1zM30,31h1v1h-1zM31,31h1v1h-1zM0,32h1v1h-1zM2,32h1v1h-1zM9,32h1v1h-1zM11,32h1v1h-1zM13,32h1v1h-1zM22,32h1v1h-1zM29,32h1v1h-1zM31,32h1v1h-1zM35,32h1v1h-1zM10,33h1v1h-1zM12,33h1v1h-1zM14,33h1v1h-1zM21,33h1v1h-1zM27,33h1v1h-1zM30,33h1v1h-1zM33,33h1v1h-1zM34,33h1v1h-1zM0,34h1v1h-1zM2,34h1v1h-1zM9,34h1v1h-1zM11,34h1v1h-1zM18,34h1v1h-1zM26,34h1v1h-1zM28,34h1v1h-1zM29,34h1v1h-1zM31,34h1v1h-1zM1,35h1v1h-1z"/>
<path fill="#2f78c4" d="M6,0h1v1h-1zM7,0h1v1h-1zM8,0h1v1h-1zM9,0h1v1h-1zM10,0h1v1h-1zM11,0h1v1h-1zM6,1h1v1h-1zM7,1h1v1h-1zM8,1h1v1h-1zM9,1h1v1h-1zM11,1h1v1h-1zM7,2h1v1h-1zM6,3h1v1h-1zM7,3h1v1h-1zM10,3h1v1h-1zM7,4h1v1h-1zM8,4h1v1h-1zM9,4h1v1h-1zM10,4h1v1h-1zM11,4h1v1h-1zM6,5h1v1h-1zM7,5h1v1h-1zM8,5h1v1h-1zM9,5h1v1h-1zM10,5h1v1h-1zM11,5h1v1h-1zM1,6h1v1h-1zM3,6h1v1h-1zM4,6h1v1h-1zM5,6h1v1h-1zM6,6h1v1h-1zM8,6h1v1h-1zM10,6h1v1h-1zM11,6h1v1h-1zM12,6h1v1h-1zM14,6h1v1h-1zM16,6h1v1h-1zM17,6h1v1h-1zM0,7h1v1h-1zM2,7h1v1h-1zM4,7h1v1h-1zM5,7h1v1h-1zM6,7h1v1h-1zM7,7h1v1h-1zM8,7h1v1h-1zM9,7h1v1h-1zM10,7h1v1h-1zM11,7h1v1h-1zM12,7h1v1h-1zM13,7h1v1h-1zM14,7h1v1h-1zM15,7h1v1h-1zM16,7h1v1h-1zM17,7h1v1h-1zM1,8h1v1h-1zM3,8h1v1h-1zM4,8h1v1h-1zM5,8h1v1h-1zM6,8h1v1h-1zM7,8h1v1h-1zM8,8h1v1h-1zM10,8h1v1h-1zM11,8h1v1h-1zM12,8h1v1h-1zM13,8h1v1h-1zM14,8h1v1h-1zM15,8h1v1h-1zM16,8h1v1h-1zM17,8h1v1h-1zM0,9h1v1h-1zM1,9h1v1h-1zM3,9h1v1h-1zM4,9h1v1h-1zM5,9h1v1h-1zM6,9h1v1h-1zM7,9h1v1h-1zM8,9h1v1h-1zM9,9h1v1h-1zM10,9h1v1h-1zM11,9h1v1h-1zM12,9h1v1h-1zM15,9h1v1h-1zM16,9h1v1h-1zM17,9h1v1h-1zM0,10h1v1h-1zM2,10h1v1h-1zM3,10h1v1h-1zM4,10h1v1h-1zM5,10h1v1h-1zM6,10h1v1h-1zM7,10h1v1h-1zM9,10h1v1h-1zM11,10h1v1h-1zM12,10h1v1h-1zM13,10h1v1h-1zM14,10h1v1h-1zM15,10h1v1h-1zM16,10h1v1h-1zM17,10h1v1h-1zM0,11h1v1h-1zM1,11h1v1h-1zM2,11h1v1h-1zM3,11h1v1h-1zM4,11h1v1h-1zM5,11h1v1h-1zM6,11h1v1h-1zM7,11h1v1h-1zM8,11h1v1h-1zM10,11h1v1h-1zM11,11h1v1h-1zM13,11h1v1h-1zM16,11h1v1h-1zM17,11h1v1h-1zM6,12h1v1h-1zM8,12h1v1h-1zM9,12h1v1h-1zM10,12h1v1h-1zM11,12h1v1h-1zM6,13h1v1h-1zM7,13h1v1h-1zM9,13h1v1h-1zM10,13h1v1h-1zM11,13h1v1h-1zM6,14h1v1h-1zM7,14h1v1h-1zM8,14h1v1h-1zM9,14h1v1h-1zM10,14h1v1h-1zM11,14h1v1h-1zM6,15h1v1h-1zM7,15h1v1h-1zM8,15h1v1h-1zM9,15h1v1h-1zM10,15h1v1h-1zM11,15h1v1h-1zM6,16h1v1h-1zM7,16h1v1h-1zM8,16h1v1h-1zM10,16h1v1h-1zM11,16h1v1h-1zM7,17h1v1h-1zM8,17h1v1h-1zM10,17h1v1h-1z"/>
<path fill="#f57a1c" d="M18,0h1v1h-1zM19,0h1v1h-1zM20,0h1v1h-1zM21,0h1v1h-1zM22,0h1v1h-1zM23,0h1v1h-1zM24,0h1v1h-1zM25,0h1v1h-1zM26,0h1v1h-1zM27,0h1v1h-1zM28,0h1v1h-1zM29,0h1v1h-1zM30,0h1v1h-1zM31,0h1v1h-1zM32,0h1v1h-1zM33,0h1v1h-1zM34,0h1v1h-1zM35,0h1v1h-1zM19,1h1v1h-1zM20,1h1v1h-1zM21,1h1v1h-1zM22,1h1v1h-1zM23,1h1v1h-1zM24,1h1v1h-1zM25,1h1v1h-1zM26,1h1v1h-1zM28,1h1v1h-1zM29,1h1v1h-1zM31,1h1v1h-1zM33,1h1v1h-1zM35,1h1v1h-1zM18,2h1v1h-1zM19,2h1v1h-1zM20,2h1v1h-1zM21,2h1v1h-1zM22,2h1v1h-1zM23,2h1v1h-1zM24,2h1v1h-1zM25,2h1v1h-1zM26,2h1v1h-1zM27,2h1v1h-1zM28,2h1v1h-1zM29,2h1v1h-1zM30,2h1v1h-1zM32,2h1v1h-1zM34,2h1v1h-1zM35,2h1v1h-1zM19,3h1v1h-1zM20,3h1v1h-1zM22,3h1v1h-1zM23,3h1v1h-1zM24,3h1v1h-1zM25,3h1v1h-1zM27,3h1v1h-1zM28,3h1v1h-1zM29,3h1v1h-1zM31,3h1v1h-1zM33,3h1v1h-1zM35,3h1v1h-1zM18,4h1v1h-1zM19,4h1v1h-1zM20,4h1v1h-1zM21,4h1v1h-1zM22,4h1v1h-1zM23,4h1v1h-1zM24,4h1v1h-1zM25,4h1v1h-1zM26,4h1v1h-1zM27,4h1v1h-1zM28,4h1v1h-1zM32,4h1v1h-1zM33,4h1v1h-1zM34,4h1v1h-1zM18,5h1v1h-1zM19,5h1v1h-1zM20,5h1v1h-1zM21,5h1v1h-1zM22,5h1v1h-1zM23,5h1v1h-1zM24,5h1v1h-1zM25,5h1v1h-1zM26,5h1v1h-1zM27,5h1v1h-1zM28,5h1v1h-1zM29,5h1v1h-1zM30,5h1v1h-1zM31,5h1v1h-1zM32,5h1v1h-1zM33,5h1v1h-1zM34,5h1v1h-1zM35,5h1v1h-1zM18,6h1v1h-1zM19,6h1v1h-1zM20,6h1v1h-1zM21,6h1v1h-1zM23,6h1v1h-1zM31,6h1v1h-1zM33,6h1v1h-1zM34,6h1v1h-1zM18,7h1v1h-1zM19,7h1v1h-1zM20,7h1v1h-1zM21,7h1v1h-1zM22,7h1v1h-1zM23,7h1v1h-1zM30,7h1v1h-1zM32,7h1v1h-1zM33,7h1v1h-1zM35,7h1v1h-1zM18,8h1v1h-1zM19,8h1v1h-1zM21,8h1v1h-1zM22,8h1v1h-1zM23,8h1v1h-1zM31,8h1v1h-1zM33,8h1v1h-1zM34,8h1v1h-1zM35,8h1v1h-1zM18,9h1v1h-1zM19,9h1v1h-1zM20,9h1v1h-1zM21,9h1v1h-1zM23,9h1v1h-1zM30,9h1v1h-1zM31,9h1v1h-1zM32,9h1v1h-1zM33,9h1v1h-1zM34,9h1v1h-1zM35,9h1v1h-1zM18,10h1v1h-1zM19,10h1v1h-1zM20,10h1v1h-1zM21,10h1v1h-1zM22,10h1v1h-1zM23,10h1v1h-1zM30,10h1v1h-1zM31,10h1v1h-1zM32,10h1v1h-1zM33,10h1v1h-1zM34,10h1v1h-1zM35,10h1v1h-1zM19,11h1v1h-1zM20,11h1v1h-1zM21,11h1v1h-1zM22,11h1v1h-1zM23,11h1v1h-1zM30,11h1v1h-1zM31,11h1v1h-1zM32,11h1v1h-1zM33,11h1v1h-1zM34,11h1v1h-1zM35,11h1v1h-1zM18,12h1v1h-1zM19,12h1v1h-1zM20,12h1v1h-1zM21,12h1v1h-1zM22,12h1v1h-1zM23,12h1v1h-1zM24,12h1v1h-1zM25,12h1v1h-1zM27,12h1v1h-1zM28,12h1v1h-1zM29,12h1v1h-1zM30,12h1v1h-1zM31,12h1v1h-1zM32,12h1v1h-1zM33,12h1v1h-1zM34,12h1v1h-1zM35,12h1v1h-1zM18,13h1v1h-1zM19,13h1v1h-1zM20,13h1v1h-1zM21,13h1v1h-1zM22,13h1v1h-1zM23,13h1v1h-1zM24,13h1v1h-1zM26,13h1v1h-1zM27,13h1v1h-1zM28,13h1v1h-1zM29,13h1v1h-1zM30,13h1v1h-1zM31,13h1v1h-1zM32,13h1v1h-1zM33,13h1v1h-1zM34,13h1v1h-1zM35,13h1v1h-1zM18,14h1v1h-1zM19,14h1v1h-1zM20,14h1v1h-1zM21,14h1v1h-1zM22,14h1v1h-1zM24,14h1v1h-1zM25,14h1v1h-1zM26,14h1v1h-1zM27,14h1v1h-1zM28,14h1v1h-1zM29,14h1v1h-1zM30,14h1v1h-1zM32,14h1v1h-1zM33,14h1v1h-1zM34,14h1v1h-1zM35,14h1v1h-1zM18,15h1v1h-1zM19,15h1v1h-1zM20,15h1v1h-1zM21,15h1v1h-1zM22,15h1v1h-1zM23,15h1v1h-1zM24,15h1v1h-1zM25,15h1v1h-1zM26,15h1v1h-1zM28,15h1v1h-1zM31,15h1v1h-1zM32,15h1v1h-1zM33,15h1v1h-1zM34,15h1v1h-1zM35,15h1v1h-1zM18,16h1v1h-1zM19,16h1v1h-1zM20,16h1v1h-1zM21,16h1v1h-1zM22,16h1v1h-1zM23,16h1v1h-1zM24,16h1v1h-1zM25,16h1v1h-1zM26,16h1v1h-1zM27,16h1v1h-1zM29,16h1v1h-1zM30,16h1v1h-1zM31,16h1v1h-1zM32,16h1v1h-1zM33,16h1v1h-1zM34,16h1v1h-1zM35,16h1v1h-1zM18,17h1v1h-1zM19,17h1v1h-1zM21,17h1v1h-1zM23,17h1v1h-1zM24,17h1v1h-1zM25,17h1v1h-1zM26,17h1v1h-1zM28,17h1v1h-1zM30,17h1v1h-1zM34,17h1v1h-1zM35,17h1v1h-1z"/>
<path fill="#2ea43a" d="M0,18h1v1h-1zM2,18h1v1h-1zM3,18h1v1h-1zM0,19h1v1h-1zM1,19h1v1h-1zM3,19h1v1h-1zM4,19h1v1h-1zM0,20h1v1h-1zM1,20h1v1h-1zM2,20h1v1h-1zM4,20h1v1h-1zM0,21h1v1h-1zM2,21h1v1h-1zM3,21h1v1h-1zM4,21h1v1h-1zM5,21h1v1h-1zM0,22h1v1h-1zM1,22h1v1h-1zM2,22h1v1h-1zM3,22h1v1h-1zM4,22h1v1h-1zM5,22h1v1h-1zM6,22h1v1h-1zM0,23h1v1h-1zM1,23h1v1h-1zM2,23h1v1h-1zM4,23h1v1h-1zM6,23h1v1h-1zM7,23h1v1h-1zM1,24h1v1h-1zM2,24h1v1h-1zM3,24h1v1h-1zM5,24h1v1h-1zM7,24h1v1h-1zM8,24h1v1h-1zM0,25h1v1h-1zM2,25h1v1h-1zM4,25h1v1h-1zM6,25h1v1h-1zM8,25h1v1h-1zM9,25h1v1h-1zM0,26h1v1h-1zM1,26h1v1h-1zM2,26h1v1h-1zM3,26h1v1h-1zM4,26h1v1h-1zM5,26h1v1h-1zM6,26h1v1h-1zM7,26h1v1h-1zM9,26h1v1h-1zM0,27h1v1h-1zM1,27h1v1h-1zM2,27h1v1h-1zM3,27h1v1h-1zM4,27h1v1h-1zM5,27h1v1h-1zM6,27h1v1h-1zM7,27h1v1h-1zM8,27h1v1h-1zM9,27h1v1h-1zM10,27h1v1h-1zM0,28h1v1h-1zM1,28h1v1h-1zM2,28h1v1h-1zM3,28h1v1h-1zM4,28h1v1h-1zM5,28h1v1h-1zM6,28h1v1h-1zM8,28h1v1h-1zM9,28h1v1h-1zM10,28h1v1h-1zM11,28h1v1h-1zM0,29h1v1h-1zM1,29h1v1h-1zM2,29h1v1h-1zM3,29h1v1h-1zM4,29h1v1h-1zM6,29h1v1h-1zM7,29h1v1h-1zM8,29h1v1h-1zM9,29h1v1h-1zM10,29h1v1h-1zM12,29h1v1h-1zM13,29h1v1h-1zM1,30h1v1h-1zM3,30h1v1h-1zM4,30h1v1h-1zM5,30h1v1h-1zM6,30h1v1h-1zM7,30h1v1h-1zM8,30h1v1h-1zM9,30h1v1h-1zM11,30h1v1h-1zM12,30h1v1h-1zM13,30h1v1h-1zM14,30h1v1h-1zM0,31h1v1h-1zM2,31h1v1h-1zM3,31h1v1h-1zM4,31h1v1h-1zM5,31h1v1h-1zM6,31h1v1h-1zM7,31h1v1h-1zM8,31h1v1h-1zM9,31h1v1h-1zM10,31h1v1h-1zM11,31h1v1h-1zM13,31h1v1h-1zM15,31h1v1h-1zM1,32h1v1h-1zM3,32h1v1h-1zM4,32h1v1h-1zM5,32h1v1h-1zM6,32h1v1h-1zM7,32h1v1h-1zM8,32h1v1h-1zM10,32h1v1h-1zM12,32h1v1h-1zM14,32h1v1h-1zM15,32h1v1h-1zM0,33h1v1h-1zM1,33h1v1h-1zM2,33h1v1h-1zM3,33h1v1h-1zM4,33h1v1h-1zM5,33h1v1h-1zM6,33h1v1h-1zM7,33h1v1h-1zM8,33h1v1h-1zM9,33h1v1h-1zM11,33h1v1h-1zM13,33h1v1h-1zM15,33h1v1h-1zM16,33h1v1h-1zM1,34h1v1h-1zM3,34h1v1h-1zM4,34h1v1h-1zM5,34h1v1h-1zM6,34h1v1h-1zM7,34h1v1h-1zM8,34h1v1h-1zM10,34h1v1h-1zM12,34h1v1h-1zM13,34h1v1h-1zM14,34h1v1h-1zM15,34h1v1h-1zM16,34h1v1h-1zM0,35h1v1h-1zM2,35h1v1h-1zM3,35h1v1h-1zM4,35h1v1h-1zM5,35h1v1h-1zM6,35h1v1h-1zM7,35h1v1h-1zM8,35h1v1h-1zM9,35h1v1h-1zM10,35h1v1h-1zM11,35h1v1h-1zM12,35h1v1h-1zM13,35h1v1h-1zM14,35h1v1h-1zM15,35h1v1h-1zM16,35h1v1h-1zM17,35h1v1h-1z"/>
</g>
<rect x="-0.5" y="-0.5" width="37" height="37" fill="url(#dots)"/>
</g>
<rect x="225.70" y="24.20" width="101.20" height="96.60" fill="none" stroke="#333" stroke-width="1.0"/>
<text transform="translate(279.60,19.30) scale(1.07,1)" font-size="11" text-anchor="middle" fill="#262626">Modality 2</text>
<g transform="translate(116.80,149.20) scale(2.5972,2.5139)">
<g shape-rendering="crispEdges">
<path fill="#2f78c4" d="M0,0h1v1h-1zM1,0h1v1h-1zM3,0h1v1h-1zM4,0h1v1h-1zM5,0h1v1h-1zM8,0h1v1h-1zM11,0h1v1h-1zM12,0h1v1h-1zM14,0h1v1h-1zM16,0h1v1h-1zM17,0h1v1h-1zM3,1h1v1h-1zM5,1h1v1h-1zM6,1h1v1h-1zM7,1h1v1h-1zM8,1h1v1h-1zM9,1h1v1h-1zM11,1h1v1h-1zM12,1h1v1h-1zM13,1h1v1h-1zM14,1h1v1h-1zM15,1h1v1h-1zM17,1h1v1h-1zM2,2h1v1h-1zM4,2h1v1h-1zM6,2h1v1h-1zM7,2h1v1h-1zM9,2h1v1h-1zM10,2h1v1h-1zM14,2h1v1h-1zM16,2h1v1h-1zM17,2h1v1h-1zM0,3h1v1h-1zM3,3h1v1h-1zM5,3h1v1h-1zM9,3h1v1h-1zM11,3h1v1h-1zM13,3h1v1h-1zM15,3h1v1h-1zM17,3h1v1h-1zM1,4h1v1h-1zM3,4h1v1h-1zM4,4h1v1h-1zM8,4h1v1h-1zM9,4h1v1h-1zM10,4h1v1h-1zM12,4h1v1h-1zM14,4h1v1h-1zM17,4h1v1h-1zM0,5h1v1h-1zM2,5h1v1h-1zM3,5h1v1h-1zM4,5h1v1h-1zM5,5h1v1h-1zM6,5h1v1h-1zM7,5h1v1h-1zM8,5h1v1h-1zM10,5h1v1h-1zM11,5h1v1h-1zM17,5h1v1h-1zM0,6h1v1h-1zM1,6h1v1h-1zM3,6h1v1h-1zM5,6h1v1h-1zM6,6h1v1h-1zM7,6h1v1h-1zM8,6h1v1h-1zM9,6h1v1h-1zM10,6h1v1h-1zM12,6h1v1h-1zM16,6h1v1h-1zM17,6h1v1h-1zM27,6h1v1h-1zM29,6h1v1h-1zM30,6h1v1h-1zM5,7h1v1h-1zM6,7h1v1h-1zM7,7h1v1h-1zM9,7h1v1h-1zM11,7h1v1h-1zM13,7h1v1h-1zM14,7h1v1h-1zM15,7h1v1h-1zM16,7h1v1h-1zM21,7h1v1h-1zM22,7h1v1h-1zM24,7h1v1h-1zM26,7h1v1h-1zM27,7h1v1h-1zM29,7h1v1h-1zM0,8h1v1h-1zM2,8h1v1h-1zM4,8h1v1h-1zM5,8h1v1h-1zM6,8h1v1h-1zM8,8h1v1h-1zM10,8h1v1h-1zM11,8h1v1h-1zM12,8h1v1h-1zM13,8h1v1h-1zM16,8h1v1h-1zM17,8h1v1h-1zM28,8h1v1h-1zM0,9h1v1h-1zM1,9h1v1h-1zM2,9h1v1h-1zM5,9h1v1h-1zM7,9h1v1h-1zM8,9h1v1h-1zM9,9h1v1h-1zM10,9h1v1h-1zM11,9h1v1h-1zM12,9h1v1h-1zM13,9h1v1h-1zM14,9h1v1h-1zM15,9h1v1h-1zM17,9h1v1h-1zM24,9h1v1h-1zM27,9h1v1h-1zM30,9h1v1h-1zM0,10h1v1h-1zM2,10h1v1h-1zM4,10h1v1h-1zM5,10h1v1h-1zM7,10h1v1h-1zM8,10h1v1h-1zM9,10h1v1h-1zM10,10h1v1h-1zM11,10h1v1h-1zM12,10h1v1h-1zM13,10h1v1h-1zM14,10h1v1h-1zM16,10h1v1h-1zM21,10h1v1h-1zM23,10h1v1h-1zM24,10h1v1h-1zM28,10h1v1h-1zM1,11h1v1h-1zM2,11h1v1h-1zM3,11h1v1h-1zM4,11h1v1h-1zM5,11h1v1h-1zM6,11h1v1h-1zM7,11h1v1h-1zM8,11h1v1h-1zM9,11h1v1h-1zM11,11h1v1h-1zM12,11h1v1h-1zM13,11h1v1h-1zM14,11h1v1h-1zM15,11h1v1h-1zM23,11h1v1h-1zM0,12h1v1h-1zM3,12h1v1h-1zM4,12h1v1h-1zM6,12h1v1h-1zM7,12h1v1h-1zM9,12h1v1h-1zM10,12h1v1h-1zM11,12h1v1h-1zM14,12h1v1h-1zM23,12h1v1h-1zM24,12h1v1h-1zM25,12h1v1h-1zM30,12h1v1h-1zM0,13h1v1h-1zM5,13h1v1h-1zM6,13h1v1h-1zM9,13h1v1h-1zM10,13h1v1h-1zM12,13h1v1h-1zM13,13h1v1h-1zM14,13h1v1h-1zM15,13h1v1h-1zM16,13h1v1h-1zM17,13h1v1h-1zM3,14h1v1h-1zM4,14h1v1h-1zM5,14h1v1h-1zM6,14h1v1h-1zM9,14h1v1h-1zM10,14h1v1h-1zM17,14h1v1h-1zM2,15h1v1h-1zM4,15h1v1h-1zM5,15h1v1h-1zM7,15h1v1h-1zM9,15h1v1h-1zM10,15h1v1h-1zM16,15h1v1h-1zM17,15h1v1h-1zM1,16h1v1h-1zM2,16h1v1h-1zM3,16h1v1h-1zM5,16h1v1h-1zM7,16h1v1h-1zM8,16h1v1h-1zM9,16h1v1h-1zM11,16h1v1h-1zM0,17h1v1h-1zM1,17h1v1h-1zM2,17h1v1h-1zM3,17h1v1h-1zM4,17h1v1h-1zM6,17h1v1h-1zM10,17h1v1h-1zM12,17h1v1h-1zM17,17h1v1h-1zM2,18h1v1h-1zM8,18h1v1h-1zM9,18h1v1h-1zM10,18h1v1h-1zM11,18h1v1h-1zM13,18h1v1h-1zM14,18h1v1h-1zM15,18h1v1h-1zM22,18h1v1h-1zM25,18h1v1h-1zM27,18h1v1h-1zM28,18h1v1h-1zM34,18h1v1h-1zM35,18h1v1h-1zM0,19h1v1h-1zM2,19h1v1h-1zM3,19h1v1h-1zM4,19h1v1h-1zM7,19h1v1h-1zM8,19h1v1h-1zM9,19h1v1h-1zM13,19h1v1h-1zM24,19h1v1h-1zM26,19h1v1h-1zM27,19h1v1h-1zM28,19h1v1h-1zM29,19h1v1h-1zM30,19h1v1h-1zM33,19h1v1h-1zM35,19h1v1h-1zM0,20h1v1h-1zM6,20h1v1h-1zM13,20h1v1h-1zM14,20h1v1h-1zM15,20h1v1h-1zM24,20h1v1h-1zM28,20h1v1h-1zM29,20h1v1h-1zM33,20h1v1h-1zM34,20h1v1h-1zM1,21h1v1h-1zM6,21h1v1h-1zM8,21h1v1h-1zM11,21h1v1h-1zM12,21h1v1h-1zM13,21h1v1h-1zM15,21h1v1h-1zM16,21h1v1h-1zM17,21h1v1h-1zM18,21h1v1h-1zM20,21h1v1h-1zM22,21h1v1h-1zM26,21h1v1h-1zM27,21h1v1h-1zM28,21h1v1h-1zM29,21h1v1h-1zM30,21h1v1h-1zM33,21h1v1h-1zM35,21h1v1h-1zM0,22h1v1h-1zM7,22h1v1h-1zM8,22h1v1h-1zM9,22h1v1h-1zM12,22h1v1h-1zM13,22h1v1h-1zM17,22h1v1h-1zM21,22h1v1h-1zM23,22h1v1h-1zM24,22h1v1h-1zM25,22h1v1h-1zM26,22h1v1h-1zM27,22h1v1h-1zM28,22h1v1h-1zM30,22h1v1h-1zM31,22h1v1h-1zM33,22h1v1h-1zM34,22h1v1h-1zM1,23h1v1h-1zM6,23h1v1h-1zM7,23h1v1h-1zM9,23h1v1h-1zM11,23h1v1h-1zM12,23h1v1h-1zM13,23h1v1h-1zM14,23h1v1h-1zM15,23h1v1h-1zM16,23h1v1h-1zM17,23h1v1h-1zM19,23h1v1h-1zM20,23h1v1h-1zM21,23h1v1h-1zM25,23h1v1h-1zM26,23h1v1h-1zM27,23h1v1h-1zM28,23h1v1h-1zM29,23h1v1h-1zM30,23h1v1h-1zM31,23h1v1h-1zM33,23h1v1h-1zM34,23h1v1h-1zM35,23h1v1h-1zM0,24h1v1h-1zM1,24h1v1h-1zM4,24h1v1h-1zM6,24h1v1h-1zM9,24h1v1h-1zM10,24h1v1h-1zM11,24h1v1h-1zM12,24h1v1h-1zM13,24h1v1h-1zM14,24h1v1h-1zM15,24h1v1h-1zM18,24h1v1h-1zM19,24h1v1h-1zM20,24h1v1h-1zM21,24h1v1h-1zM22,24h1v1h-1zM24,24h1v1h-1zM25,24h1v1h-1zM26,24h1v1h-1zM28,24h1v1h-1zM31,24h1v1h-1zM32,24h1v1h-1zM33,24h1v1h-1zM34,24h1v1h-1zM35,24h1v1h-1zM0,25h1v1h-1zM1,25h1v1h-1zM2,25h1v1h-1zM3,25h1v1h-1zM4,25h1v1h-1zM5,25h1v1h-1zM7,25h1v1h-1zM9,25h1v1h-1zM10,25h1v1h-1zM11,25h1v1h-1zM14,25h1v1h-1zM16,25h1v1h-1zM19,25h1v1h-1zM21,25h1v1h-1zM23,25h1v1h-1zM24,25h1v1h-1zM25,25h1v1h-1zM26,25h1v1h-1zM28,25h1v1h-1zM32,25h1v1h-1zM33,25h1v1h-1zM34,25h1v1h-1zM35,25h1v1h-1zM1,26h1v1h-1zM2,26h1v1h-1zM3,26h1v1h-1zM4,26h1v1h-1zM6,26h1v1h-1zM8,26h1v1h-1zM9,26h1v1h-1zM13,26h1v1h-1zM15,26h1v1h-1zM17,26h1v1h-1zM18,26h1v1h-1zM19,26h1v1h-1zM20,26h1v1h-1zM22,26h1v1h-1zM23,26h1v1h-1zM24,26h1v1h-1zM26,26h1v1h-1zM28,26h1v1h-1zM29,26h1v1h-1zM31,26h1v1h-1zM35,26h1v1h-1zM0,27h1v1h-1zM1,27h1v1h-1zM2,27h1v1h-1zM4,27h1v1h-1zM6,27h1v1h-1zM7,27h1v1h-1zM8,27h1v1h-1zM9,27h1v1h-1zM10,27h1v1h-1zM11,27h1v1h-1zM13,27h1v1h-1zM14,27h1v1h-1zM16,27h1v1h-1zM17,27h1v1h-1zM18,27h1v1h-1zM25,27h1v1h-1zM26,27h1v1h-1zM27,27h1v1h-1zM28,27h1v1h-1zM35,27h1v1h-1zM2,28h1v1h-1zM3,28h1v1h-1zM5,28h1v1h-1zM6,28h1v1h-1zM7,28h1v1h-1zM11,28h1v1h-1zM12,28h1v1h-1zM13,28h1v1h-1zM15,28h1v1h-1zM17,28h1v1h-1zM18,28h1v1h-1zM19,28h1v1h-1zM20,28h1v1h-1zM21,28h1v1h-1zM24,28h1v1h-1zM26,28h1v1h-1zM28,28h1v1h-1zM29,28h1v1h-1zM35,28h1v1h-1zM0,29h1v1h-1zM1,29h1v1h-1zM2,29h1v1h-1zM4,29h1v1h-1zM7,29h1v1h-1zM8,29h1v1h-1zM14,29h1v1h-1zM18,29h1v1h-1zM19,29h1v1h-1zM20,29h1v1h-1zM21,29h1v1h-1zM22,29h1v1h-1zM23,29h1v1h-1zM24,29h1v1h-1zM25,29h1v1h-1zM26,29h1v1h-1zM27,29h1v1h-1zM30,29h1v1h-1zM31,29h1v1h-1zM35,29h1v1h-1zM0,30h1v1h-1zM7,30h1v1h-1zM8,30h1v1h-1zM9,30h1v1h-1zM10,30h1v1h-1zM11,30h1v1h-1zM17,30h1v1h-1zM19,30h1v1h-1zM22,30h1v1h-1zM23,30h1v1h-1zM25,30h1v1h-1zM27,30h1v1h-1zM28,30h1v1h-1zM29,30h1v1h-1zM30,30h1v1h-1zM31,30h1v1h-1zM32,30h1v1h-1zM35,30h1v1h-1zM0,31h1v1h-1zM3,31h1v1h-1zM4,31h1v1h-1zM5,31h1v1h-1zM6,31h1v1h-1zM7,31h1v1h-1zM8,31h1v1h-1zM9,31h1v1h-1zM10,31h1v1h-1zM12,31h1v1h-1zM18,31h1v1h-1zM19,31h1v1h-1zM20,31h1v1h-1zM21,31h1v1h-1zM22,31h1v1h-1zM24,31h1v1h-1zM26,31h1v1h-1zM27,31h1v1h-1zM30,31h1v1h-1zM34,31h1v1h-1zM4,32h1v1h-1zM6,32h1v1h-1zM8,32h1v1h-1zM10,32h1v1h-1zM12,32h1v1h-1zM13,32h1v1h-1zM14,32h1v1h-1zM17,32h1v1h-1zM19,32h1v1h-1zM20,32h1v1h-1zM21,32h1v1h-1zM22,32h1v1h-1zM23,32h1v1h-1zM24,32h1v1h-1zM28,32h1v1h-1zM29,32h1v1h-1zM31,32h1v1h-1zM35,32h1v1h-1zM0,33h1v1h-1zM2,33h1v1h-1zM3,33h1v1h-1zM6,33h1v1h-1zM7,33h1v1h-1zM9,33h1v1h-1zM10,33h1v1h-1zM11,33h1v1h-1zM15,33h1v1h-1zM16,33h1v1h-1zM17,33h1v1h-1zM18,33h1v1h-1zM21,33h1v1h-1zM22,33h1v1h-1zM23,33h1v1h-1zM24,33h1v1h-1zM25,33h1v1h-1zM26,33h1v1h-1zM28,33h1v1h-1zM30,33h1v1h-1zM34,33h1v1h-1zM35,33h1v1h-1zM0,34h1v1h-1zM4,34h1v1h-1zM6,34h1v1h-1zM7,34h1v1h-1zM10,34h1v1h-1zM11,34h1v1h-1zM12,34h1v1h-1zM13,34h1v1h-1zM14,34h1v1h-1zM16,34h1v1h-1zM18,34h1v1h-1zM21,34h1v1h-1zM22,34h1v1h-1zM23,34h1v1h-1zM24,34h1v1h-1zM26,34h1v1h-1zM28,34h1v1h-1zM29,34h1v1h-1zM31,34h1v1h-1zM32,34h1v1h-1zM33,34h1v1h-1zM34,34h1v1h-1zM0,35h1v1h-1zM5,35h1v1h-1zM7,35h1v1h-1zM8,35h1v1h-1zM11,35h1v1h-1zM14,35h1v1h-1zM15,35h1v1h-1zM16,35h1v1h-1zM19,35h1v1h-1zM20,35h1v1h-1zM21,35h1v1h-1zM22,35h1v1h-1zM23,35h1v1h-1zM27,35h1v1h-1zM28,35h1v1h-1zM32,35h1v1h-1zM34,35h1v1h-1zM35,35h1v1h-1z"/>
<path fill="#2ea43a" d="M2,0h1v1h-1zM6,0h1v1h-1zM10,0h1v1h-1zM15,0h1v1h-1zM0,1h1v1h-1zM0,2h1v1h-1zM1,2h1v1h-1zM12,2h1v1h-1zM15,2h1v1h-1zM31,2h1v1h-1zM2,3h1v1h-1zM6,3h1v1h-1zM11,4h1v1h-1zM15,4h1v1h-1zM1,5h1v1h-1zM23,5h1v1h-1zM25,5h1v1h-1zM2,6h1v1h-1zM11,6h1v1h-1zM23,6h1v1h-1zM24,6h1v1h-1zM31,6h1v1h-1zM32,6h1v1h-1zM1,7h1v1h-1zM10,7h1v1h-1zM12,7h1v1h-1zM25,7h1v1h-1zM30,7h1v1h-1zM15,8h1v1h-1zM20,8h1v1h-1zM21,8h1v1h-1zM22,8h1v1h-1zM24,8h1v1h-1zM3,9h1v1h-1zM21,9h1v1h-1zM23,9h1v1h-1zM15,10h1v1h-1zM17,10h1v1h-1zM20,10h1v1h-1zM16,11h1v1h-1zM30,11h1v1h-1zM12,12h1v1h-1zM15,12h1v1h-1zM17,12h1v1h-1zM33,12h1v1h-1zM7,13h1v1h-1zM8,14h1v1h-1zM11,14h1v1h-1zM11,15h1v1h-1zM12,15h1v1h-1zM6,16h1v1h-1zM13,16h1v1h-1zM24,16h1v1h-1zM25,16h1v1h-1zM5,17h1v1h-1zM8,17h1v1h-1zM25,17h1v1h-1zM26,17h1v1h-1zM27,17h1v1h-1zM30,17h1v1h-1zM4,18h1v1h-1zM5,18h1v1h-1zM6,18h1v1h-1zM7,18h1v1h-1zM16,18h1v1h-1zM19,18h1v1h-1zM24,18h1v1h-1zM33,18h1v1h-1zM6,19h1v1h-1zM12,19h1v1h-1zM14,19h1v1h-1zM16,19h1v1h-1zM4,20h1v1h-1zM5,20h1v1h-1zM7,20h1v1h-1zM19,20h1v1h-1zM3,21h1v1h-1zM4,21h1v1h-1zM5,21h1v1h-1zM25,21h1v1h-1zM31,21h1v1h-1zM34,21h1v1h-1zM2,22h1v1h-1zM4,22h1v1h-1zM5,22h1v1h-1zM6,22h1v1h-1zM16,22h1v1h-1zM19,22h1v1h-1zM22,22h1v1h-1zM2,23h1v1h-1zM3,23h1v1h-1zM5,23h1v1h-1zM10,23h1v1h-1zM32,23h1v1h-1zM2,24h1v1h-1zM3,24h1v1h-1zM30,24h1v1h-1zM13,25h1v1h-1zM15,25h1v1h-1zM20,25h1v1h-1zM0,26h1v1h-1zM12,26h1v1h-1zM3,27h1v1h-1zM5,27h1v1h-1zM1,28h1v1h-1zM4,28h1v1h-1zM8,28h1v1h-1zM3,29h1v1h-1zM5,29h1v1h-1zM6,29h1v1h-1zM9,29h1v1h-1zM10,29h1v1h-1zM16,29h1v1h-1zM17,29h1v1h-1zM2,30h1v1h-1zM3,30h1v1h-1zM5,30h1v1h-1zM16,30h1v1h-1zM18,30h1v1h-1zM20,30h1v1h-1zM26,30h1v1h-1zM1,31h1v1h-1zM15,31h1v1h-1zM17,31h1v1h-1zM23,31h1v1h-1zM31,31h1v1h-1zM0,32h1v1h-1zM3,32h1v1h-1zM5,32h1v1h-1zM11,32h1v1h-1zM15,32h1v1h-1zM16,32h1v1h-1zM1,33h1v1h-1zM4,33h1v1h-1zM12,33h1v1h-1zM14,33h1v1h-1zM20,33h1v1h-1zM27,33h1v1h-1zM2,34h1v1h-1zM3,34h1v1h-1zM5,34h1v1h-1zM8,34h1v1h-1zM15,34h1v1h-1zM20,34h1v1h-1zM1,35h1v1h-1zM6,35h1v1h-1zM9,35h1v1h-1zM12,35h1v1h-1zM17,35h1v1h-1zM25,35h1v1h-1zM31,35h1v1h-1z"/>
<path fill="#9a56c6" d="M7,0h1v1h-1zM13,0h1v1h-1zM31,0h1v1h-1zM1,1h1v1h-1zM2,1h1v1h-1zM4,1h1v1h-1zM16,1h1v1h-1zM26,1h1v1h-1zM29,1h1v1h-1zM30,1h1v1h-1zM34,1h1v1h-1zM3,2h1v1h-1zM11,2h1v1h-1zM21,2h1v1h-1zM33,2h1v1h-1zM34,2h1v1h-1zM1,3h1v1h-1zM4,3h1v1h-1zM7,3h1v1h-1zM10,3h1v1h-1zM20,3h1v1h-1zM33,3h1v1h-1zM0,4h1v1h-1zM2,4h1v1h-1zM5,4h1v1h-1zM6,4h1v1h-1zM16,4h1v1h-1zM22,4h1v1h-1zM32,4h1v1h-1zM15,5h1v1h-1zM21,5h1v1h-1zM31,5h1v1h-1zM4,6h1v1h-1zM14,6h1v1h-1zM25,6h1v1h-1zM0,7h1v1h-1zM4,7h1v1h-1zM28,7h1v1h-1zM1,8h1v1h-1zM25,8h1v1h-1zM26,8h1v1h-1zM27,8h1v1h-1zM29,8h1v1h-1zM30,8h1v1h-1zM32,8h1v1h-1zM16,9h1v1h-1zM25,9h1v1h-1zM26,9h1v1h-1zM28,9h1v1h-1zM29,9h1v1h-1zM31,9h1v1h-1zM1,10h1v1h-1zM3,10h1v1h-1zM25,10h1v1h-1zM27,10h1v1h-1zM29,10h1v1h-1zM30,10h1v1h-1zM0,11h1v1h-1zM17,11h1v1h-1zM24,11h1v1h-1zM26,11h1v1h-1zM1,12h1v1h-1zM2,12h1v1h-1zM5,12h1v1h-1zM18,12h1v1h-1zM26,12h1v1h-1zM29,12h1v1h-1zM1,13h1v1h-1zM2,13h1v1h-1zM11,13h1v1h-1zM20,13h1v1h-1zM0,14h1v1h-1zM1,14h1v1h-1zM2,14h1v1h-1zM7,14h1v1h-1zM12,14h1v1h-1zM13,14h1v1h-1zM14,14h1v1h-1zM15,14h1v1h-1zM16,14h1v1h-1zM21,14h1v1h-1zM0,15h1v1h-1zM3,15h1v1h-1zM6,15h1v1h-1zM8,15h1v1h-1zM13,15h1v1h-1zM14,15h1v1h-1zM15,15h1v1h-1zM23,15h1v1h-1zM31,15h1v1h-1zM10,16h1v1h-1zM14,16h1v1h-1zM15,16h1v1h-1zM16,16h1v1h-1zM17,16h1v1h-1zM27,16h1v1h-1zM9,17h1v1h-1zM11,17h1v1h-1zM13,17h1v1h-1zM15,17h1v1h-1zM16,17h1v1h-1zM12,18h1v1h-1zM18,18h1v1h-1zM29,18h1v1h-1zM30,18h1v1h-1zM11,19h1v1h-1zM20,19h1v1h-1zM32,19h1v1h-1zM10,20h1v1h-1zM12,20h1v1h-1zM18,20h1v1h-1zM20,20h1v1h-1zM26,20h1v1h-1zM7,21h1v1h-1zM10,21h1v1h-1zM14,21h1v1h-1zM19,21h1v1h-1zM11,22h1v1h-1zM14,22h1v1h-1zM15,22h1v1h-1zM18,22h1v1h-1zM20,22h1v1h-1zM29,22h1v1h-1zM5,24h1v1h-1zM8,24h1v1h-1zM6,25h1v1h-1zM8,25h1v1h-1zM18,25h1v1h-1zM22,25h1v1h-1zM27,25h1v1h-1zM5,26h1v1h-1zM7,26h1v1h-1zM10,26h1v1h-1zM11,26h1v1h-1zM14,26h1v1h-1zM21,26h1v1h-1zM33,26h1v1h-1zM15,27h1v1h-1zM19,27h1v1h-1zM20,27h1v1h-1zM21,27h1v1h-1zM23,27h1v1h-1zM24,27h1v1h-1zM34,27h1v1h-1zM0,28h1v1h-1zM14,28h1v1h-1zM23,28h1v1h-1zM25,28h1v1h-1zM33,28h1v1h-1zM32,29h1v1h-1zM33,29h1v1h-1zM34,29h1v1h-1zM1,30h1v1h-1zM6,30h1v1h-1zM12,30h1v1h-1zM15,30h1v1h-1zM2,31h1v1h-1zM11,31h1v1h-1zM13,31h1v1h-1zM29,31h1v1h-1zM32,31h1v1h-1zM35,31h1v1h-1zM1,32h1v1h-1zM9,32h1v1h-1zM30,32h1v1h-1zM32,32h1v1h-1zM33,32h1v1h-1zM5,33h1v1h-1zM31,33h1v1h-1zM32,33h1v1h-1zM33,33h1v1h-1zM19,34h1v1h-1zM30,34h1v1h-1zM35,34h1v1h-1zM2,35h1v1h-1zM3,35h1v1h-1zM18,35h1v1h-1zM29,35h1v1h-1zM30,35h1v1h-1zM33,35h1v1h-1z"/>
<path fill="#dc2529" d="M9,0h1v1h-1zM19,0h1v1h-1zM23,0h1v1h-1zM24,0h1v1h-1zM33,0h1v1h-1zM10,1h1v1h-1zM32,1h1v1h-1zM5,2h1v1h-1zM8,2h1v1h-1zM13,2h1v1h-1zM24,2h1v1h-1zM26,2h1v1h-1zM27,2h1v1h-1zM30,2h1v1h-1zM8,3h1v1h-1zM12,3h1v1h-1zM14,3h1v1h-1zM16,3h1v1h-1zM27,3h1v1h-1zM7,4h1v1h-1zM13,4h1v1h-1zM27,4h1v1h-1zM9,5h1v1h-1zM12,5h1v1h-1zM13,5h1v1h-1zM14,5h1v1h-1zM16,5h1v1h-1zM28,5h1v1h-1zM34,5h1v1h-1zM13,6h1v1h-1zM15,6h1v1h-1zM21,6h1v1h-1zM28,6h1v1h-1zM2,7h1v1h-1zM3,7h1v1h-1zM8,7h1v1h-1zM17,7h1v1h-1zM23,7h1v1h-1zM3,8h1v1h-1zM7,8h1v1h-1zM9,8h1v1h-1zM14,8h1v1h-1zM18,8h1v1h-1zM19,8h1v1h-1zM33,8h1v1h-1zM4,9h1v1h-1zM6,9h1v1h-1zM6,10h1v1h-1zM22,10h1v1h-1zM10,11h1v1h-1zM21,11h1v1h-1zM27,11h1v1h-1zM28,11h1v1h-1zM29,11h1v1h-1zM31,11h1v1h-1zM32,11h1v1h-1zM8,12h1v1h-1zM13,12h1v1h-1zM16,12h1v1h-1zM19,12h1v1h-1zM21,12h1v1h-1zM22,12h1v1h-1zM28,12h1v1h-1zM3,13h1v1h-1zM4,13h1v1h-1zM8,13h1v1h-1zM26,14h1v1h-1zM28,14h1v1h-1zM1,15h1v1h-1zM21,15h1v1h-1zM34,15h1v1h-1zM35,15h1v1h-1zM0,16h1v1h-1zM4,16h1v1h-1zM12,16h1v1h-1zM20,16h1v1h-1zM22,16h1v1h-1zM34,16h1v1h-1zM7,17h1v1h-1zM14,17h1v1h-1zM0,18h1v1h-1zM1,18h1v1h-1zM3,18h1v1h-1zM17,18h1v1h-1zM21,18h1v1h-1zM23,18h1v1h-1zM26,18h1v1h-1zM31,18h1v1h-1zM32,18h1v1h-1zM1,19h1v1h-1zM5,19h1v1h-1zM10,19h1v1h-1zM15,19h1v1h-1zM18,19h1v1h-1zM21,19h1v1h-1zM22,19h1v1h-1zM23,19h1v1h-1zM25,19h1v1h-1zM31,19h1v1h-1zM34,19h1v1h-1zM1,20h1v1h-1zM2,20h1v1h-1zM3,20h1v1h-1zM8,20h1v1h-1zM9,20h1v1h-1zM11,20h1v1h-1zM16,20h1v1h-1zM17,20h1v1h-1zM21,20h1v1h-1zM22,20h1v1h-1zM23,20h1v1h-1zM25,20h1v1h-1zM27,20h1v1h-1zM30,20h1v1h-1zM31,20h1v1h-1zM32,20h1v1h-1zM35,20h1v1h-1zM0,21h1v1h-1zM2,21h1v1h-1zM9,21h1v1h-1zM21,21h1v1h-1zM23,21h1v1h-1zM24,21h1v1h-1zM32,21h1v1h-1zM1,22h1v1h-1zM3,22h1v1h-1zM10,22h1v1h-1zM32,22h1v1h-1zM35,22h1v1h-1zM0,23h1v1h-1zM4,23h1v1h-1zM8,23h1v1h-1zM18,23h1v1h-1zM22,23h1v1h-1zM23,23h1v1h-1zM24,23h1v1h-1zM7,24h1v1h-1zM16,24h1v1h-1zM17,24h1v1h-1zM23,24h1v1h-1zM27,24h1v1h-1zM29,24h1v1h-1zM12,25h1v1h-1zM17,25h1v1h-1zM29,25h1v1h-1zM30,25h1v1h-1zM31,25h1v1h-1zM16,26h1v1h-1zM25,26h1v1h-1zM27,26h1v1h-1zM30,26h1v1h-1zM32,26h1v1h-1zM34,26h1v1h-1zM12,27h1v1h-1zM22,27h1v1h-1zM29,27h1v1h-1zM30,27h1v1h-1zM31,27h1v1h-1zM32,27h1v1h-1zM33,27h1v1h-1zM9,28h1v1h-1zM10,28h1v1h-1zM16,28h1v1h-1zM22,28h1v1h-1zM27,28h1v1h-1zM30,28h1v1h-1zM31,28h1v1h-1zM32,28h1v1h-1zM34,28h1v1h-1zM11,29h1v1h-1zM12,29h1v1h-1zM13,29h1v1h-1zM15,29h1v1h-1zM28,29h1v1h-1zM29,29h1v1h-1zM4,30h1v1h-1zM13,30h1v1h-1zM14,30h1v1h-1zM21,30h1v1h-1zM24,30h1v1h-1zM33,30h1v1h-1zM34,30h1v1h-1zM14,31h1v1h-1zM16,31h1v1h-1zM25,31h1v1h-1zM28,31h1v1h-1zM33,31h1v1h-1zM2,32h1v1h-1zM7,32h1v1h-1zM18,32h1v1h-1zM25,32h1v1h-1zM26,32h1v1h-1zM27,32h1v1h-1zM34,32h1v1h-1zM8,33h1v1h-1zM13,33h1v1h-1zM19,33h1v1h-1zM29,33h1v1h-1zM1,34h1v1h-1zM9,34h1v1h-1zM17,34h1v1h-1zM25,34h1v1h-1zM27,34h1v1h-1zM4,35h1v1h-1zM10,35h1v1h-1zM13,35h1v1h-1zM24,35h1v1h-1zM26,35h1v1h-1z"/>
<path fill="#f57a1c" d="M18,0h1v1h-1zM20,0h1v1h-1zM21,0h1v1h-1zM22,0h1v1h-1zM25,0h1v1h-1zM26,0h1v1h-1zM27,0h1v1h-1zM28,0h1v1h-1zM29,0h1v1h-1zM30,0h1v1h-1zM32,0h1v1h-1zM34,0h1v1h-1zM35,0h1v1h-1zM18,1h1v1h-1zM19,1h1v1h-1zM20,1h1v1h-1zM21,1h1v1h-1zM22,1h1v1h-1zM23,1h1v1h-1zM24,1h1v1h-1zM25,1h1v1h-1zM27,1h1v1h-1zM28,1h1v1h-1zM31,1h1v1h-1zM33,1h1v1h-1zM35,1h1v1h-1zM18,2h1v1h-1zM19,2h1v1h-1zM20,2h1v1h-1zM22,2h1v1h-1zM23,2h1v1h-1zM25,2h1v1h-1zM28,2h1v1h-1zM29,2h1v1h-1zM32,2h1v1h-1zM35,2h1v1h-1zM18,3h1v1h-1zM19,3h1v1h-1zM21,3h1v1h-1zM22,3h1v1h-1zM23,3h1v1h-1zM24,3h1v1h-1zM25,3h1v1h-1zM26,3h1v1h-1zM28,3h1v1h-1zM29,3h1v1h-1zM30,3h1v1h-1zM31,3h1v1h-1zM32,3h1v1h-1zM34,3h1v1h-1zM35,3h1v1h-1zM18,4h1v1h-1zM19,4h1v1h-1zM20,4h1v1h-1zM21,4h1v1h-1zM23,4h1v1h-1zM24,4h1v1h-1zM25,4h1v1h-1zM26,4h1v1h-1zM28,4h1v1h-1zM29,4h1v1h-1zM30,4h1v1h-1zM31,4h1v1h-1zM33,4h1v1h-1zM34,4h1v1h-1zM35,4h1v1h-1zM18,5h1v1h-1zM19,5h1v1h-1zM20,5h1v1h-1zM22,5h1v1h-1zM24,5h1v1h-1zM26,5h1v1h-1zM27,5h1v1h-1zM29,5h1v1h-1zM30,5h1v1h-1zM32,5h1v1h-1zM33,5h1v1h-1zM35,5h1v1h-1zM18,6h1v1h-1zM19,6h1v1h-1zM20,6h1v1h-1zM22,6h1v1h-1zM26,6h1v1h-1zM33,6h1v1h-1zM34,6h1v1h-1zM35,6h1v1h-1zM18,7h1v1h-1zM19,7h1v1h-1zM20,7h1v1h-1zM31,7h1v1h-1zM32,7h1v1h-1zM33,7h1v1h-1zM34,7h1v1h-1zM35,7h1v1h-1zM23,8h1v1h-1zM31,8h1v1h-1zM34,8h1v1h-1zM35,8h1v1h-1zM18,9h1v1h-1zM19,9h1v1h-1zM20,9h1v1h-1zM22,9h1v1h-1zM32,9h1v1h-1zM33,9h1v1h-1zM34,9h1v1h-1zM35,9h1v1h-1zM18,10h1v1h-1zM19,10h1v1h-1zM26,10h1v1h-1zM31,10h1v1h-1zM32,10h1v1h-1zM33,10h1v1h-1zM34,10h1v1h-1zM35,10h1v1h-1zM18,11h1v1h-1zM19,11h1v1h-1zM20,11h1v1h-1zM22,11h1v1h-1zM25,11h1v1h-1zM33,11h1v1h-1zM34,11h1v1h-1zM35,11h1v1h-1zM20,12h1v1h-1zM27,12h1v1h-1zM31,12h1v1h-1zM32,12h1v1h-1zM34,12h1v1h-1zM35,12h1v1h-1zM18,13h1v1h-1zM19,13h1v1h-1zM21,13h1v1h-1zM22,13h1v1h-1zM23,13h1v1h-1zM24,13h1v1h-1zM25,13h1v1h-1zM26,13h1v1h-1zM27,13h1v1h-1zM28,13h1v1h-1zM29,13h1v1h-1zM30,13h1v1h-1zM31,13h1v1h-1zM32,13h1v1h-1zM33,13h1v1h-1zM34,13h1v1h-1zM35,13h1v1h-1zM18,14h1v1h-1zM19,14h1v1h-1zM20,14h1v1h-1zM22,14h1v1h-1zM23,14h1v1h-1zM24,14h1v1h-1zM25,14h1v1h-1zM27,14h1v1h-1zM29,14h1v1h-1zM30,14h1v1h-1zM31,14h1v1h-1zM32,14h1v1h-1zM33,14h1v1h-1zM34,14h1v1h-1zM35,14h1v1h-1zM18,15h1v1h-1zM19,15h1v1h-1zM20,15h1v1h-1zM22,15h1v1h-1zM24,15h1v1h-1zM25,15h1v1h-1zM26,15h1v1h-1zM27,15h1v1h-1zM28,15h1v1h-1zM29,15h1v1h-1zM30,15h1v1h-1zM32,15h1v1h-1zM33,15h1v1h-1zM18,16h1v1h-1zM19,16h1v1h-1zM21,16h1v1h-1zM23,16h1v1h-1zM26,16h1v1h-1zM28,16h1v1h-1zM29,16h1v1h-1zM30,16h1v1h-1zM31,16h1v1h-1zM32,16h1v1h-1zM33,16h1v1h-1zM35,16h1v1h-1zM18,17h1v1h-1zM19,17h1v1h-1zM20,17h1v1h-1zM21,17h1v1h-1zM22,17h1v1h-1zM23,17h1v1h-1zM24,17h1v1h-1zM28,17h1v1h-1zM29,17h1v1h-1zM31,17h1v1h-1zM32,17h1v1h-1zM33,17h1v1h-1zM34,17h1v1h-1zM35,17h1v1h-1zM20,18h1v1h-1zM17,19h1v1h-1zM19,19h1v1h-1z"/>
</g>
<rect x="-0.5" y="-0.5" width="37" height="37" fill="url(#dots)"/>
</g>
<rect x="113.30" y="145.90" width="100.50" height="97.10" fill="none" stroke="#333" stroke-width="1.0"/>
<text transform="translate(164.30,141.80) scale(1.07,1)" font-size="11" text-anchor="middle" fill="#262626">Modality 3</text>
<g transform="translate(229.20,149.20) scale(2.6167,2.5139)">
<g shape-rendering="crispEdges">
<path fill="#9a56c6" d="M0,0h1v1h-1zM1,0h1v1h-1zM2,0h1v1h-1zM3,0h1v1h-1zM4,0h1v1h-1zM5,0h1v1h-1zM12,0h1v1h-1zM13,0h1v1h-1zM14,0h1v1h-1zM15,0h1v1h-1zM16,0h1v1h-1zM17,0h1v1h-1zM0,1h1v1h-1zM1,1h1v1h-1zM2,1h1v1h-1zM3,1h1v1h-1zM4,1h1v1h-1zM5,1h1v1h-1zM12,1h1v1h-1zM13,1h1v1h-1zM14,1h1v1h-1zM15,1h1v1h-1zM16,1h1v1h-1zM17,1h1v1h-1zM0,2h1v1h-1zM1,2h1v1h-1zM2,2h1v1h-1zM3,2h1v1h-1zM4,2h1v1h-1zM5,2h1v1h-1zM12,2h1v1h-1zM13,2h1v1h-1zM14,2h1v1h-1zM15,2h1v1h-1zM16,2h1v1h-1zM17,2h1v1h-1zM0,3h1v1h-1zM1,3h1v1h-1zM2,3h1v1h-1zM3,3h1v1h-1zM4,3h1v1h-1zM5,3h1v1h-1zM12,3h1v1h-1zM13,3h1v1h-1zM14,3h1v1h-1zM15,3h1v1h-1zM16,3h1v1h-1zM17,3h1v1h-1zM0,4h1v1h-1zM1,4h1v1h-1zM2,4h1v1h-1zM3,4h1v1h-1zM4,4h1v1h-1zM5,4h1v1h-1zM12,4h1v1h-1zM13,4h1v1h-1zM14,4h1v1h-1zM15,4h1v1h-1zM16,4h1v1h-1zM17,4h1v1h-1zM0,5h1v1h-1zM1,5h1v1h-1zM2,5h1v1h-1zM3,5h1v1h-1zM4,5h1v1h-1zM5,5h1v1h-1zM14,5h1v1h-1zM15,5h1v1h-1zM16,5h1v1h-1zM17,5h1v1h-1zM24,6h1v1h-1zM25,6h1v1h-1zM26,6h1v1h-1zM27,6h1v1h-1zM28,6h1v1h-1zM29,6h1v1h-1zM24,7h1v1h-1zM25,7h1v1h-1zM26,7h1v1h-1zM27,7h1v1h-1zM28,7h1v1h-1zM29,7h1v1h-1zM24,8h1v1h-1zM25,8h1v1h-1zM26,8h1v1h-1zM27,8h1v1h-1zM28,8h1v1h-1zM29,8h1v1h-1zM24,9h1v1h-1zM25,9h1v1h-1zM26,9h1v1h-1zM27,9h1v1h-1zM28,9h1v1h-1zM29,9h1v1h-1zM24,10h1v1h-1zM25,10h1v1h-1zM26,10h1v1h-1zM27,10h1v1h-1zM28,10h1v1h-1zM29,10h1v1h-1zM24,11h1v1h-1zM25,11h1v1h-1zM26,11h1v1h-1zM27,11h1v1h-1zM28,11h1v1h-1zM29,11h1v1h-1zM0,12h1v1h-1zM1,12h1v1h-1zM2,12h1v1h-1zM3,12h1v1h-1zM4,12h1v1h-1zM5,12h1v1h-1zM12,12h1v1h-1zM13,12h1v1h-1zM14,12h1v1h-1zM15,12h1v1h-1zM16,12h1v1h-1zM17,12h1v1h-1zM0,13h1v1h-1zM1,13h1v1h-1zM2,13h1v1h-1zM3,13h1v1h-1zM4,13h1v1h-1zM5,13h1v1h-1zM12,13h1v1h-1zM13,13h1v1h-1zM14,13h1v1h-1zM15,13h1v1h-1zM16,13h1v1h-1zM17,13h1v1h-1zM0,14h1v1h-1zM1,14h1v1h-1zM2,14h1v1h-1zM3,14h1v1h-1zM4,14h1v1h-1zM5,14h1v1h-1zM12,14h1v1h-1zM13,14h1v1h-1zM14,14h1v1h-1zM15,14h1v1h-1zM16,14h1v1h-1zM17,14h1v1h-1zM0,15h1v1h-1zM1,15h1v1h-1zM2,15h1v1h-1zM3,15h1v1h-1zM4,15h1v1h-1zM5,15h1v1h-1zM12,15h1v1h-1zM13,15h1v1h-1zM14,15h1v1h-1zM15,15h1v1h-1zM16,15h1v1h-1zM17,15h1v1h-1zM0,16h1v1h-1zM1,16h1v1h-1zM2,16h1v1h-1zM3,16h1v1h-1zM4,16h1v1h-1zM5,16h1v1h-1zM12,16h1v1h-1zM13,16h1v1h-1zM14,16h1v1h-1zM15,16h1v1h-1zM16,16h1v1h-1zM17,16h1v1h-1zM0,17h1v1h-1zM1,17h1v1h-1zM2,17h1v1h-1zM3,17h1v1h-1zM4,17h1v1h-1zM5,17h1v1h-1zM12,17h1v1h-1zM13,17h1v1h-1zM14,17h1v1h-1zM15,17h1v1h-1zM16,17h1v1h-1zM17,17h1v1h-1zM6,18h1v1h-1zM7,18h1v1h-1zM8,18h1v1h-1zM9,18h1v1h-1zM10,18h1v1h-1zM11,18h1v1h-1zM12,18h1v1h-1zM13,18h1v1h-1zM14,18h1v1h-1zM15,18h1v1h-1zM16,18h1v1h-1zM17,18h1v1h-1zM6,19h1v1h-1zM7,19h1v1h-1zM8,19h1v1h-1zM9,19h1v1h-1zM10,19h1v1h-1zM11,19h1v1h-1zM12,19h1v1h-1zM13,19h1v1h-1zM14,19h1v1h-1zM15,19h1v1h-1zM16,19h1v1h-1zM17,19h1v1h-1zM7,20h1v1h-1zM8,20h1v1h-1zM9,20h1v1h-1zM10,20h1v1h-1zM11,20h1v1h-1zM12,20h1v1h-1zM13,20h1v1h-1zM14,20h1v1h-1zM15,20h1v1h-1zM16,20h1v1h-1zM17,20h1v1h-1zM7,21h1v1h-1zM8,21h1v1h-1zM9,21h1v1h-1zM10,21h1v1h-1zM11,21h1v1h-1zM12,21h1v1h-1zM13,21h1v1h-1zM14,21h1v1h-1zM15,21h1v1h-1zM16,21h1v1h-1zM17,21h1v1h-1zM7,22h1v1h-1zM8,22h1v1h-1zM9,22h1v1h-1zM10,22h1v1h-1zM11,22h1v1h-1zM12,22h1v1h-1zM13,22h1v1h-1zM14,22h1v1h-1zM15,22h1v1h-1zM16,22h1v1h-1zM17,22h1v1h-1zM7,23h1v1h-1zM8,23h1v1h-1zM9,23h1v1h-1zM10,23h1v1h-1zM11,23h1v1h-1zM12,23h1v1h-1zM13,23h1v1h-1zM14,23h1v1h-1zM15,23h1v1h-1zM16,23h1v1h-1zM17,23h1v1h-1zM12,24h1v1h-1zM13,24h1v1h-1zM14,24h1v1h-1zM15,24h1v1h-1zM16,24h1v1h-1zM17,24h1v1h-1zM35,24h1v1h-1zM12,25h1v1h-1zM13,25h1v1h-1zM14,25h1v1h-1zM15,25h1v1h-1zM16,25h1v1h-1zM17,25h1v1h-1zM18,25h1v1h-1zM19,25h1v1h-1zM20,25h1v1h-1zM21,25h1v1h-1zM22,25h1v1h-1zM23,25h1v1h-1zM31,25h1v1h-1zM32,25h1v1h-1zM33,25h1v1h-1zM34,25h1v1h-1zM35,25h1v1h-1zM12,26h1v1h-1zM13,26h1v1h-1zM14,26h1v1h-1zM15,26h1v1h-1zM16,26h1v1h-1zM17,26h1v1h-1zM18,26h1v1h-1zM19,26h1v1h-1zM20,26h1v1h-1zM21,26h1v1h-1zM22,26h1v1h-1zM23,26h1v1h-1zM31,26h1v1h-1zM32,26h1v1h-1zM33,26h1v1h-1zM34,26h1v1h-1zM35,26h1v1h-1zM12,27h1v1h-1zM13,27h1v1h-1zM14,27h1v1h-1zM15,27h1v1h-1zM16,27h1v1h-1zM17,27h1v1h-1zM18,27h1v1h-1zM19,27h1v1h-1zM20,27h1v1h-1zM21,27h1v1h-1zM22,27h1v1h-1zM23,27h1v1h-1zM30,27h1v1h-1zM31,27h1v1h-1zM32,27h1v1h-1zM33,27h1v1h-1zM34,27h1v1h-1zM35,27h1v1h-1zM12,28h1v1h-1zM13,28h1v1h-1zM14,28h1v1h-1zM15,28h1v1h-1zM16,28h1v1h-1zM17,28h1v1h-1zM18,28h1v1h-1zM19,28h1v1h-1zM20,28h1v1h-1zM21,28h1v1h-1zM22,28h1v1h-1zM23,28h1v1h-1zM30,28h1v1h-1zM31,28h1v1h-1zM32,28h1v1h-1zM33,28h1v1h-1zM34,28h1v1h-1zM35,28h1v1h-1zM12,29h1v1h-1zM13,29h1v1h-1zM14,29h1v1h-1zM15,29h1v1h-1zM16,29h1v1h-1zM17,29h1v1h-1zM18,29h1v1h-1zM19,29h1v1h-1zM20,29h1v1h-1zM21,29h1v1h-1zM22,29h1v1h-1zM23,29h1v1h-1zM30,29h1v1h-1zM31,29h1v1h-1zM32,29h1v1h-1zM33,29h1v1h-1zM34,29h1v1h-1zM35,29h1v1h-1zM18,30h1v1h-1zM19,30h1v1h-1zM20,30h1v1h-1zM21,30h1v1h-1zM22,30h1v1h-1zM23,30h1v1h-1zM30,30h1v1h-1zM31,30h1v1h-1zM32,30h1v1h-1zM33,30h1v1h-1zM34,30h1v1h-1zM35,30h1v1h-1zM18,31h1v1h-1zM19,31h1v1h-1zM20,31h1v1h-1zM21,31h1v1h-1zM22,31h1v1h-1zM23,31h1v1h-1zM30,31h1v1h-1zM31,31h1v1h-1zM32,31h1v1h-1zM33,31h1v1h-1zM34,31h1v1h-1zM35,31h1v1h-1zM18,32h1v1h-1zM19,32h1v1h-1zM20,32h1v1h-1zM21,32h1v1h-1zM22,32h1v1h-1zM23,32h1v1h-1zM30,32h1v1h-1zM31,32h1v1h-1zM32,32h1v1h-1zM33,32h1v1h-1zM34,32h1v1h-1zM35,32h1v1h-1zM18,33h1v1h-1zM19,33h1v1h-1zM20,33h1v1h-1zM21,33h1v1h-1zM22,33h1v1h-1zM23,33h1v1h-1zM30,33h1v1h-1zM31,33h1v1h-1zM32,33h1v1h-1zM33,33h1v1h-1zM34,33h1v1h-1zM35,33h1v1h-1zM18,34h1v1h-1zM19,34h1v1h-1zM20,34h1v1h-1zM21,34h1v1h-1zM22,34h1v1h-1zM23,34h1v1h-1zM30,34h1v1h-1zM31,34h1v1h-1zM32,34h1v1h-1zM33,34h1v1h-1zM34,34h1v1h-1zM35,34h1v1h-1zM18,35h1v1h-1zM19,35h1v1h-1zM20,35h1v1h-1zM21,35h1v1h-1zM22,35h1v1h-1zM23,35h1v1h-1zM30,35h1v1h-1zM31,35h1v1h-1zM32,35h1v1h-1zM33,35h1v1h-1zM34,35h1v1h-1zM35,35h1v1h-1z"/>
<path fill="#2f78c4" d="M6,0h1v1h-1zM7,0h1v1h-1zM8,0h1v1h-1zM9,0h1v1h-1zM10,0h1v1h-1zM11,0h1v1h-1zM6,1h1v1h-1zM7,1h1v1h-1zM8,1h1v1h-1zM9,1h1v1h-1zM10,1h1v1h-1zM11,1h1v1h-1zM6,2h1v1h-1zM7,2h1v1h-1zM8,2h1v1h-1zM9,2h1v1h-1zM10,2h1v1h-1zM11,2h1v1h-1zM6,3h1v1h-1zM7,3h1v1h-1zM8,3h1v1h-1zM9,3h1v1h-1zM10,3h1v1h-1zM11,3h1v1h-1zM6,4h1v1h-1zM7,4h1v1h-1zM8,4h1v1h-1zM9,4h1v1h-1zM10,4h1v1h-1zM11,4h1v1h-1zM6,5h1v1h-1zM7,5h1v1h-1zM8,5h1v1h-1zM9,5h1v1h-1zM10,5h1v1h-1zM11,5h1v1h-1zM12,5h1v1h-1zM13,5h1v1h-1zM0,6h1v1h-1zM1,6h1v1h-1zM2,6h1v1h-1zM3,6h1v1h-1zM4,6h1v1h-1zM5,6h1v1h-1zM6,6h1v1h-1zM7,6h1v1h-1zM8,6h1v1h-1zM9,6h1v1h-1zM10,6h1v1h-1zM11,6h1v1h-1zM12,6h1v1h-1zM13,6h1v1h-1zM14,6h1v1h-1zM15,6h1v1h-1zM16,6h1v1h-1zM17,6h1v1h-1zM0,7h1v1h-1zM1,7h1v1h-1zM2,7h1v1h-1zM3,7h1v1h-1zM4,7h1v1h-1zM5,7h1v1h-1zM6,7h1v1h-1zM7,7h1v1h-1zM8,7h1v1h-1zM9,7h1v1h-1zM10,7h1v1h-1zM11,7h1v1h-1zM12,7h1v1h-1zM13,7h1v1h-1zM14,7h1v1h-1zM15,7h1v1h-1zM16,7h1v1h-1zM17,7h1v1h-1zM0,8h1v1h-1zM1,8h1v1h-1zM2,8h1v1h-1zM3,8h1v1h-1zM4,8h1v1h-1zM5,8h1v1h-1zM6,8h1v1h-1zM7,8h1v1h-1zM8,8h1v1h-1zM9,8h1v1h-1zM10,8h1v1h-1zM11,8h1v1h-1zM12,8h1v1h-1zM13,8h1v1h-1zM14,8h1v1h-1zM15,8h1v1h-1zM16,8h1v1h-1zM17,8h1v1h-1zM0,9h1v1h-1zM1,9h1v1h-1zM2,9h1v1h-1zM3,9h1v1h-1zM4,9h1v1h-1zM5,9h1v1h-1zM6,9h1v1h-1zM7,9h1v1h-1zM8,9h1v1h-1zM9,9h1v1h-1zM10,9h1v1h-1zM11,9h1v1h-1zM12,9h1v1h-1zM13,9h1v1h-1zM14,9h1v1h-1zM15,9h1v1h-1zM16,9h1v1h-1zM17,9h1v1h-1zM0,10h1v1h-1zM1,10h1v1h-1zM2,10h1v1h-1zM3,10h1v1h-1zM4,10h1v1h-1zM5,10h1v1h-1zM6,10h1v1h-1zM7,10h1v1h-1zM8,10h1v1h-1zM9,10h1v1h-1zM10,10h1v1h-1zM11,10h1v1h-1zM12,10h1v1h-1zM13,10h1v1h-1zM14,10h1v1h-1zM15,10h1v1h-1zM16,10h1v1h-1zM17,10h1v1h-1zM0,11h1v1h-1zM1,11h1v1h-1zM2,11h1v1h-1zM3,11h1v1h-1zM4,11h1v1h-1zM5,11h1v1h-1zM6,11h1v1h-1zM7,11h1v1h-1zM8,11h1v1h-1zM9,11h1v1h-1zM10,11h1v1h-1zM11,11h1v1h-1zM12,11h1v1h-1zM13,11h1v1h-1zM14,11h1v1h-1zM15,11h1v1h-1zM16,11h1v1h-1zM17,11h1v1h-1zM6,12h1v1h-1zM7,12h1v1h-1zM8,12h1v1h-1zM9,12h1v1h-1zM10,12h1v1h-1zM11,12h1v1h-1zM6,13h1v1h-1zM7,13h1v1h-1zM8,13h1v1h-1zM9,13h1v1h-1zM10,13h1v1h-1zM11,13h1v1h-1zM6,14h1v1h-1zM7,14h1v1h-1zM8,14h1v1h-1zM9,14h1v1h-1zM10,14h1v1h-1zM11,14h1v1h-1zM6,15h1v1h-1zM7,15h1v1h-1zM8,15h1v1h-1zM9,15h1v1h-1zM10,15h1v1h-1zM11,15h1v1h-1zM6,16h1v1h-1zM7,16h1v1h-1zM8,16h1v1h-1zM9,16h1v1h-1zM10,16h1v1h-1zM11,16h1v1h-1zM6,17h1v1h-1zM7,17h1v1h-1zM8,17h1v1h-1zM9,17h1v1h-1zM10,17h1v1h-1zM11,17h1v1h-1z"/>
<path fill="#f57a1c" d="M18,0h1v1h-1zM19,0h1v1h-1zM20,0h1v1h-1zM21,0h1v1h-1zM22,0h1v1h-1zM23,0h1v1h-1zM24,0h1v1h-1zM25,0h1v1h-1zM26,0h1v1h-1zM27,0h1v1h-1zM28,0h1v1h-1zM29,0h1v1h-1zM30,0h1v1h-1zM31,0h1v1h-1zM32,0h1v1h-1zM33,0h1v1h-1zM34,0h1v1h-1zM35,0h1v1h-1zM18,1h1v1h-1zM19,1h1v1h-1zM20,1h1v1h-1zM21,1h1v1h-1zM22,1h1v1h-1zM23,1h1v1h-1zM24,1h1v1h-1zM25,1h1v1h-1zM26,1h1v1h-1zM27,1h1v1h-1zM28,1h1v1h-1zM29,1h1v1h-1zM30,1h1v1h-1zM31,1h1v1h-1zM32,1h1v1h-1zM33,1h1v1h-1zM34,1h1v1h-1zM35,1h1v1h-1zM18,2h1v1h-1zM19,2h1v1h-1zM20,2h1v1h-1zM21,2h1v1h-1zM22,2h1v1h-1zM23,2h1v1h-1zM24,2h1v1h-1zM25,2h1v1h-1zM26,2h1v1h-1zM27,2h1v1h-1zM28,2h1v1h-1zM29,2h1v1h-1zM30,2h1v1h-1zM31,2h1v1h-1zM32,2h1v1h-1zM33,2h1v1h-1zM34,2h1v1h-1zM35,2h1v1h-1zM18,3h1v1h-1zM19,3h1v1h-1zM20,3h1v1h-1zM21,3h1v1h-1zM22,3h1v1h-1zM23,3h1v1h-1zM24,3h1v1h-1zM25,3h1v1h-1zM26,3h1v1h-1zM27,3h1v1h-1zM28,3h1v1h-1zM29,3h1v1h-1zM30,3h1v1h-1zM31,3h1v1h-1zM32,3h1v1h-1zM33,3h1v1h-1zM34,3h1v1h-1zM35,3h1v1h-1zM18,4h1v1h-1zM19,4h1v1h-1zM20,4h1v1h-1zM21,4h1v1h-1zM22,4h1v1h-1zM23,4h1v1h-1zM24,4h1v1h-1zM25,4h1v1h-1zM26,4h1v1h-1zM27,4h1v1h-1zM28,4h1v1h-1zM29,4h1v1h-1zM30,4h1v1h-1zM31,4h1v1h-1zM32,4h1v1h-1zM33,4h1v1h-1zM34,4h1v1h-1zM35,4h1v1h-1zM18,5h1v1h-1zM19,5h1v1h-1zM20,5h1v1h-1zM21,5h1v1h-1zM22,5h1v1h-1zM23,5h1v1h-1zM24,5h1v1h-1zM25,5h1v1h-1zM26,5h1v1h-1zM27,5h1v1h-1zM28,5h1v1h-1zM29,5h1v1h-1zM30,5h1v1h-1zM31,5h1v1h-1zM32,5h1v1h-1zM33,5h1v1h-1zM34,5h1v1h-1zM35,5h1v1h-1zM18,6h1v1h-1zM19,6h1v1h-1zM20,6h1v1h-1zM21,6h1v1h-1zM22,6h1v1h-1zM23,6h1v1h-1zM30,6h1v1h-1zM31,6h1v1h-1zM32,6h1v1h-1zM33,6h1v1h-1zM34,6h1v1h-1zM35,6h1v1h-1zM18,7h1v1h-1zM19,7h1v1h-1zM20,7h1v1h-1zM21,7h1v1h-1zM22,7h1v1h-1zM23,7h1v1h-1zM30,7h1v1h-1zM31,7h1v1h-1zM32,7h1v1h-1zM33,7h1v1h-1zM34,7h1v1h-1zM35,7h1v1h-1zM18,8h1v1h-1zM19,8h1v1h-1zM20,8h1v1h-1zM21,8h1v1h-1zM22,8h1v1h-1zM23,8h1v1h-1zM30,8h1v1h-1zM31,8h1v1h-1zM32,8h1v1h-1zM33,8h1v1h-1zM34,8h1v1h-1zM35,8h1v1h-1zM18,9h1v1h-1zM19,9h1v1h-1zM20,9h1v1h-1zM21,9h1v1h-1zM22,9h1v1h-1zM23,9h1v1h-1zM30,9h1v1h-1zM31,9h1v1h-1zM32,9h1v1h-1zM33,9h1v1h-1zM34,9h1v1h-1zM35,9h1v1h-1zM18,10h1v1h-1zM19,10h1v1h-1zM20,10h1v1h-1zM21,10h1v1h-1zM22,10h1v1h-1zM23,10h1v1h-1zM30,10h1v1h-1zM31,10h1v1h-1zM32,10h1v1h-1zM33,10h1v1h-1zM34,10h1v1h-1zM35,10h1v1h-1zM18,11h1v1h-1zM19,11h1v1h-1zM20,11h1v1h-1zM21,11h1v1h-1zM22,11h1v1h-1zM23,11h1v1h-1zM30,11h1v1h-1zM31,11h1v1h-1zM32,11h1v1h-1zM33,11h1v1h-1zM34,11h1v1h-1zM35,11h1v1h-1zM18,12h1v1h-1zM19,12h1v1h-1zM20,12h1v1h-1zM21,12h1v1h-1zM22,12h1v1h-1zM23,12h1v1h-1zM24,12h1v1h-1zM25,12h1v1h-1zM26,12h1v1h-1zM27,12h1v1h-1zM28,12h1v1h-1zM29,12h1v1h-1zM30,12h1v1h-1zM31,12h1v1h-1zM32,12h1v1h-1zM33,12h1v1h-1zM34,12h1v1h-1zM35,12h1v1h-1zM18,13h1v1h-1zM19,13h1v1h-1zM20,13h1v1h-1zM21,13h1v1h-1zM22,13h1v1h-1zM23,13h1v1h-1zM24,13h1v1h-1zM25,13h1v1h-1zM26,13h1v1h-1zM27,13h1v1h-1zM28,13h1v1h-1zM29,13h1v1h-1zM30,13h1v1h-1zM31,13h1v1h-1zM32,13h1v1h-1zM33,13h1v1h-1zM34,13h1v1h-1zM35,13h1v1h-1zM18,14h1v1h-1zM19,14h1v1h-1zM20,14h1v1h-1zM21,14h1v1h-1zM22,14h1v1h-1zM23,14h1v1h-1zM24,14h1v1h-1zM25,14h1v1h-1zM26,14h1v1h-1zM27,14h1v1h-1zM28,14h1v1h-1zM29,14h1v1h-1zM30,14h1v1h-1zM31,14h1v1h-1zM32,14h1v1h-1zM33,14h1v1h-1zM34,14h1v1h-1zM35,14h1v1h-1zM18,15h1v1h-1zM19,15h1v1h-1zM20,15h1v1h-1zM21,15h1v1h-1zM22,15h1v1h-1zM23,15h1v1h-1zM24,15h1v1h-1zM25,15h1v1h-1zM26,15h1v1h-1zM27,15h1v1h-1zM28,15h1v1h-1zM29,15h1v1h-1zM30,15h1v1h-1zM31,15h1v1h-1zM32,15h1v1h-1zM33,15h1v1h-1zM34,15h1v1h-1zM35,15h1v1h-1zM18,16h1v1h-1zM19,16h1v1h-1zM20,16h1v1h-1zM21,16h1v1h-1zM22,16h1v1h-1zM23,16h1v1h-1zM24,16h1v1h-1zM25,16h1v1h-1zM26,16h1v1h-1zM27,16h1v1h-1zM28,16h1v1h-1zM29,16h1v1h-1zM30,16h1v1h-1zM31,16h1v1h-1zM32,16h1v1h-1zM33,16h1v1h-1zM34,16h1v1h-1zM35,16h1v1h-1zM18,17h1v1h-1zM19,17h1v1h-1zM20,17h1v1h-1zM21,17h1v1h-1zM22,17h1v1h-1zM23,17h1v1h-1zM24,17h1v1h-1zM25,17h1v1h-1zM26,17h1v1h-1zM27,17h1v1h-1zM28,17h1v1h-1zM29,17h1v1h-1zM30,17h1v1h-1zM31,17h1v1h-1zM32,17h1v1h-1zM33,17h1v1h-1zM34,17h1v1h-1zM35,17h1v1h-1z"/>
<path fill="#2ea43a" d="M0,18h1v1h-1zM1,18h1v1h-1zM2,18h1v1h-1zM3,18h1v1h-1zM4,18h1v1h-1zM5,18h1v1h-1zM0,19h1v1h-1zM1,19h1v1h-1zM2,19h1v1h-1zM3,19h1v1h-1zM4,19h1v1h-1zM5,19h1v1h-1zM0,20h1v1h-1zM1,20h1v1h-1zM2,20h1v1h-1zM3,20h1v1h-1zM4,20h1v1h-1zM5,20h1v1h-1zM6,20h1v1h-1zM0,21h1v1h-1zM1,21h1v1h-1zM2,21h1v1h-1zM3,21h1v1h-1zM4,21h1v1h-1zM5,21h1v1h-1zM6,21h1v1h-1zM0,22h1v1h-1zM1,22h1v1h-1zM2,22h1v1h-1zM3,22h1v1h-1zM4,22h1v1h-1zM5,22h1v1h-1zM6,22h1v1h-1zM0,23h1v1h-1zM1,23h1v1h-1zM2,23h1v1h-1zM3,23h1v1h-1zM4,23h1v1h-1zM5,23h1v1h-1zM6,23h1v1h-1zM0,24h1v1h-1zM1,24h1v1h-1zM2,24h1v1h-1zM3,24h1v1h-1zM4,24h1v1h-1zM5,24h1v1h-1zM6,24h1v1h-1zM7,24h1v1h-1zM8,24h1v1h-1zM9,24h1v1h-1zM10,24h1v1h-1zM11,24h1v1h-1zM0,25h1v1h-1zM1,25h1v1h-1zM2,25h1v1h-1zM3,25h1v1h-1zM4,25h1v1h-1zM5,25h1v1h-1zM6,25h1v1h-1zM7,25h1v1h-1zM8,25h1v1h-1zM9,25h1v1h-1zM10,25h1v1h-1zM11,25h1v1h-1zM0,26h1v1h-1zM1,26h1v1h-1zM2,26h1v1h-1zM3,26h1v1h-1zM4,26h1v1h-1zM5,26h1v1h-1zM6,26h1v1h-1zM7,26h1v1h-1zM8,26h1v1h-1zM9,26h1v1h-1zM10,26h1v1h-1zM11,26h1v1h-1zM0,27h1v1h-1zM1,27h1v1h-1zM2,27h1v1h-1zM3,27h1v1h-1zM4,27h1v1h-1zM5,27h1v1h-1zM6,27h1v1h-1zM7,27h1v1h-1zM8,27h1v1h-1zM9,27h1v1h-1zM10,27h1v1h-1zM11,27h1v1h-1zM0,28h1v1h-1zM1,28h1v1h-1zM2,28h1v1h-1zM3,28h1v1h-1zM4,28h1v1h-1zM5,28h1v1h-1zM6,28h1v1h-1zM7,28h1v1h-1zM8,28h1v1h-1zM9,28h1v1h-1zM10,28h1v1h-1zM11,28h1v1h-1zM0,29h1v1h-1zM1,29h1v1h-1zM2,29h1v1h-1zM3,29h1v1h-1zM4,29h1v1h-1zM5,29h1v1h-1zM6,29h1v1h-1zM7,29h1v1h-1zM8,29h1v1h-1zM9,29h1v1h-1zM10,29h1v1h-1zM11,29h1v1h-1zM0,30h1v1h-1zM1,30h1v1h-1zM2,30h1v1h-1zM3,30h1v1h-1zM4,30h1v1h-1zM5,30h1v1h-1zM6,30h1v1h-1zM7,30h1v1h-1zM8,30h1v1h-1zM9,30h1v1h-1zM10,30h1v1h-1zM11,30h1v1h-1zM12,30h1v1h-1zM13,30h1v1h-1zM14,30h1v1h-1zM15,30h1v1h-1zM16,30h1v1h-1zM17,30h1v1h-1zM0,31h1v1h-1zM1,31h1v1h-1zM2,31h1v1h-1zM3,31h1v1h-1zM4,31h1v1h-1zM5,31h1v1h-1zM6,31h1v1h-1zM7,31h1v1h-1zM8,31h1v1h-1zM9,31h1v1h-1zM10,31h1v1h-1zM11,31h1v1h-1zM12,31h1v1h-1zM13,31h1v1h-1zM14,31h1v1h-1zM15,31h1v1h-1zM16,31h1v1h-1zM17,31h1v1h-1zM0,32h1v1h-1zM1,32h1v1h-1zM2,32h1v1h-1zM3,32h1v1h-1zM4,32h1v1h-1zM5,32h1v1h-1zM6,32h1v1h-1zM7,32h1v1h-1zM8,32h1v1h-1zM9,32h1v1h-1zM10,32h1v1h-1zM11,32h1v1h-1zM12,32h1v1h-1zM13,32h1v1h-1zM14,32h1v1h-1zM15,32h1v1h-1zM16,32h1v1h-1zM17,32h1v1h-1zM0,33h1v1h-1zM1,33h1v1h-1zM2,33h1v1h-1zM3,33h1v1h-1zM4,33h1v1h-1zM5,33h1v1h-1zM6,33h1v1h-1zM7,33h1v1h-1zM8,33h1v1h-1zM9,33h1v1h-1zM10,33h1v1h-1zM11,33h1v1h-1zM12,33h1v1h-1zM13,33h1v1h-1zM14,33h1v1h-1zM15,33h1v1h-1zM16,33h1v1h-1zM17,33h1v1h-1zM0,34h1v1h-1zM1,34h1v1h-1zM2,34h1v1h-1zM3,34h1v1h-1zM4,34h1v1h-1zM5,34h1v1h-1zM6,34h1v1h-1zM7,34h1v1h-1zM8,34h1v1h-1zM9,34h1v1h-1zM10,34h1v1h-1zM11,34h1v1h-1zM12,34h1v1h-1zM13,34h1v1h-1zM14,34h1v1h-1zM15,34h1v1h-1zM16,34h1v1h-1zM17,34h1v1h-1zM0,35h1v1h-1zM1,35h1v1h-1zM2,35h1v1h-1zM3,35h1v1h-1zM4,35h1v1h-1zM5,35h1v1h-1zM6,35h1v1h-1zM7,35h1v1h-1zM8,35h1v1h-1zM9,35h1v1h-1zM10,35h1v1h-1zM11,35h1v1h-1zM12,35h1v1h-1zM13,35h1v1h-1zM14,35h1v1h-1zM15,35h1v1h-1zM16,35h1v1h-1zM17,35h1v1h-1z"/>
<path fill="#dc2529" d="M18,18h1v1h-1zM19,18h1v1h-1zM20,18h1v1h-1zM21,18h1v1h-1zM22,18h1v1h-1zM23,18h1v1h-1zM24,18h1v1h-1zM25,18h1v1h-1zM26,18h1v1h-1zM27,18h1v1h-1zM28,18h1v1h-1zM29,18h1v1h-1zM30,18h1v1h-1zM31,18h1v1h-1zM32,18h1v1h-1zM33,18h1v1h-1zM34,18h1v1h-1zM35,18h1v1h-1zM18,19h1v1h-1zM19,19h1v1h-1zM20,19h1v1h-1zM21,19h1v1h-1zM22,19h1v1h-1zM23,19h1v1h-1zM24,19h1v1h-1zM25,19h1v1h-1zM26,19h1v1h-1zM27,19h1v1h-1zM28,19h1v1h-1zM29,19h1v1h-1zM30,19h1v1h-1zM31,19h1v1h-1zM32,19h1v1h-1zM33,19h1v1h-1zM34,19h1v1h-1zM35,19h1v1h-1zM18,20h1v1h-1zM19,20h1v1h-1zM20,20h1v1h-1zM21,20h1v1h-1zM22,20h1v1h-1zM23,20h1v1h-1zM24,20h1v1h-1zM25,20h1v1h-1zM26,20h1v1h-1zM27,20h1v1h-1zM28,20h1v1h-1zM29,20h1v1h-1zM30,20h1v1h-1zM31,20h1v1h-1zM32,20h1v1h-1zM33,20h1v1h-1zM34,20h1v1h-1zM35,20h1v1h-1zM18,21h1v1h-1zM19,21h1v1h-1zM20,21h1v1h-1zM21,21h1v1h-1zM22,21h1v1h-1zM23,21h1v1h-1zM24,21h1v1h-1zM25,21h1v1h-1zM26,21h1v1h-1zM27,21h1v1h-1zM28,21h1v1h-1zM29,21h1v1h-1zM30,21h1v1h-1zM31,21h1v1h-1zM32,21h1v1h-1zM33,21h1v1h-1zM34,21h1v1h-1zM35,21h1v1h-1zM18,22h1v1h-1zM19,22h1v1h-1zM20,22h1v1h-1zM21,22h1v1h-1zM22,22h1v1h-1zM23,22h1v1h-1zM24,22h1v1h-1zM25,22h1v1h-1zM26,22h1v1h-1zM27,22h1v1h-1zM28,22h1v1h-1zM29,22h1v1h-1zM30,22h1v1h-1zM31,22h1v1h-1zM32,22h1v1h-1zM33,22h1v1h-1zM34,22h1v1h-1zM35,22h1v1h-1zM18,23h1v1h-1zM19,23h1v1h-1zM20,23h1v1h-1zM21,23h1v1h-1zM22,23h1v1h-1zM23,23h1v1h-1zM24,23h1v1h-1zM25,23h1v1h-1zM26,23h1v1h-1zM27,23h1v1h-1zM28,23h1v1h-1zM29,23h1v1h-1zM30,23h1v1h-1zM31,23h1v1h-1zM32,23h1v1h-1zM33,23h1v1h-1zM34,23h1v1h-1zM35,23h1v1h-1zM18,24h1v1h-1zM19,24h1v1h-1zM20,24h1v1h-1zM21,24h1v1h-1zM22,24h1v1h-1zM23,24h1v1h-1zM24,24h1v1h-1zM25,24h1v1h-1zM26,24h1v1h-1zM27,24h1v1h-1zM28,24h1v1h-1zM29,24h1v1h-1zM30,24h1v1h-1zM31,24h1v1h-1zM32,24h1v1h-1zM33,24h1v1h-1zM34,24h1v1h-1zM24,25h1v1h-1zM25,25h1v1h-1zM26,25h1v1h-1zM27,25h1v1h-1zM28,25h1v1h-1zM29,25h1v1h-1zM30,25h1v1h-1zM24,26h1v1h-1zM25,26h1v1h-1zM26,26h1v1h-1zM27,26h1v1h-1zM28,26h1v1h-1zM29,26h1v1h-1zM30,26h1v1h-1zM24,27h1v1h-1zM25,27h1v1h-1zM26,27h1v1h-1zM27,27h1v1h-1zM28,27h1v1h-1zM29,27h1v1h-1zM24,28h1v1h-1zM25,28h1v1h-1zM26,28h1v1h-1zM27,28h1v1h-1zM28,28h1v1h-1zM29,28h1v1h-1zM24,29h1v1h-1zM25,29h1v1h-1zM26,29h1v1h-1zM27,29h1v1h-1zM28,29h1v1h-1zM29,29h1v1h-1zM24,30h1v1h-1zM25,30h1v1h-1zM26,30h1v1h-1zM27,30h1v1h-1zM28,30h1v1h-1zM29,30h1v1h-1zM24,31h1v1h-1zM25,31h1v1h-1zM26,31h1v1h-1zM27,31h1v1h-1zM28,31h1v1h-1zM29,31h1v1h-1zM24,32h1v1h-1zM25,32h1v1h-1zM26,32h1v1h-1zM27,32h1v1h-1zM28,32h1v1h-1zM29,32h1v1h-1zM24,33h1v1h-1zM25,33h1v1h-1zM26,33h1v1h-1zM27,33h1v1h-1zM28,33h1v1h-1zM29,33h1v1h-1zM24,34h1v1h-1zM25,34h1v1h-1zM26,34h1v1h-1zM27,34h1v1h-1zM28,34h1v1h-1zM29,34h1v1h-1zM24,35h1v1h-1zM25,35h1v1h-1zM26,35h1v1h-1zM27,35h1v1h-1zM28,35h1v1h-1zM29,35h1v1h-1z"/>
</g>
<rect x="-0.5" y="-0.5" width="37" height="37" fill="url(#dots)"/>
</g>
<rect x="225.70" y="145.90" width="101.20" height="97.10" fill="none" stroke="#333" stroke-width="1.0"/>
<text transform="translate(275.70,141.80) scale(1.07,1)" font-size="11" text-anchor="middle" fill="#262626">SpatialGlue</text>
<ellipse cx="17.8" cy="148.30" rx="4.7" ry="4.5" fill="#2f78c4"/>
<text transform="translate(30.30,151.60) scale(1.07,1)" font-size="11" text-anchor="start" fill="#262626">factor1</text>
<ellipse cx="17.8" cy="169.90" rx="4.7" ry="4.5" fill="#f57a1c"/>
<text transform="translate(30.30,173.20) scale(1.07,1)" font-size="11" text-anchor="start" fill="#262626">factor2</text>
<ellipse cx="17.8" cy="191.70" rx="4.7" ry="4.5" fill="#2ea43a"/>
<text transform="translate(30.30,195.00) scale(1.07,1)" font-size="11" text-anchor="start" fill="#262626">factor3</text>
<ellipse cx="17.8" cy="213.40" rx="4.7" ry="4.5" fill="#dc2529"/>
<text transform="translate(30.30,216.70) scale(1.07,1)" font-size="11" text-anchor="start" fill="#262626">factor4</text>
<ellipse cx="17.8" cy="235.60" rx="4.7" ry="4.5" fill="#9a56c6"/>
<text transform="translate(30.30,238.90) scale(1.07,1)" font-size="11" text-anchor="start" fill="#262626">backgr</text>
<line x1="409.90" y1="57.60" x2="409.90" y2="188.30" stroke="#4a4a4a" stroke-width="0.9"/>
<line x1="409.90" y1="188.30" x2="672.80" y2="188.30" stroke="#4a4a4a" stroke-width="0.9"/>
<line x1="410.35" y1="188.30" x2="410.35" y2="191.60" stroke="#4a4a4a" stroke-width="0.9"/>
<text transform="translate(410.35,202.20) scale(1.07,1)" font-size="11" text-anchor="middle" fill="#262626">−100</text>
<line x1="462.80" y1="188.30" x2="462.80" y2="191.60" stroke="#4a4a4a" stroke-width="0.9"/>
<text transform="translate(462.80,202.20) scale(1.07,1)" font-size="11" text-anchor="middle" fill="#262626">0</text>
<line x1="515.25" y1="188.30" x2="515.25" y2="191.60" stroke="#4a4a4a" stroke-width="0.9"/>
<text transform="translate(515.25,202.20) scale(1.07,1)" font-size="11" text-anchor="middle" fill="#262626">100</text>
<line x1="567.70" y1="188.30" x2="567.70" y2="191.60" stroke="#4a4a4a" stroke-width="0.9"/>
<text transform="translate(567.70,202.20) scale(1.07,1)" font-size="11" text-anchor="middle" fill="#262626">200</text>
<line x1="620.15" y1="188.30" x2="620.15" y2="191.60" stroke="#4a4a4a" stroke-width="0.9"/>
<text transform="translate(620.15,202.20) scale(1.07,1)" font-size="11" text-anchor="middle" fill="#262626">300</text>
<line x1="672.60" y1="188.30" x2="672.60" y2="191.60" stroke="#4a4a4a" stroke-width="0.9"/>
<text transform="translate(672.60,202.20) scale(1.07,1)" font-size="11" text-anchor="middle" fill="#262626">400</text>
<line x1="406.60" y1="188.30" x2="409.90" y2="188.30" stroke="#4a4a4a" stroke-width="0.9"/>
<text transform="translate(404.00,192.30) scale(1.07,1)" font-size="11" text-anchor="end" fill="#262626">0.00</text>
<line x1="406.60" y1="144.80" x2="409.90" y2="144.80" stroke="#4a4a4a" stroke-width="0.9"/>
<text transform="translate(404.00,148.80) scale(1.07,1)" font-size="11" text-anchor="end" fill="#262626">0.01</text>
<line x1="406.60" y1="101.30" x2="409.90" y2="101.30" stroke="#4a4a4a" stroke-width="0.9"/>
<text transform="translate(404.00,105.30) scale(1.07,1)" font-size="11" text-anchor="end" fill="#262626">0.02</text>
<line x1="406.60" y1="57.80" x2="409.90" y2="57.80" stroke="#4a4a4a" stroke-width="0.9"/>
<text transform="translate(404.00,61.80) scale(1.07,1)" font-size="11" text-anchor="end" fill="#262626">0.03</text>
<text transform="translate(554.10,218.40) scale(1.07,1)" font-size="11" text-anchor="middle" fill="#262626">Expression</text>
<text transform="translate(373.30,122.90) rotate(-90) scale(1.11,1)" font-size="11" text-anchor="middle" fill="#262626">Density</text>
<path d="M451.80,188.30C452.07,187.67 452.90,186.12 453.40,184.50C453.90,182.88 454.27,182.68 454.80,178.60C455.33,174.52 456.03,167.15 456.60,160.00C457.17,152.85 457.70,144.37 458.20,135.70C458.70,127.03 459.18,115.95 459.60,108.00C460.02,100.05 460.33,93.92 460.70,88.00C461.07,82.08 461.43,76.17 461.80,72.50C462.17,68.83 462.50,66.25 462.90,66.00C463.30,65.75 463.75,68.17 464.20,71.00C464.65,73.83 465.10,78.17 465.60,83.00C466.10,87.83 466.60,93.83 467.20,100.00C467.80,106.17 468.45,113.33 469.20,120.00C469.95,126.67 470.90,134.17 471.70,140.00C472.50,145.83 473.28,150.55 474.00,155.00C474.72,159.45 475.30,163.37 476.00,166.70C476.70,170.03 477.57,172.78 478.20,175.00C478.83,177.22 479.20,178.93 479.80,180.00C480.40,181.07 480.93,181.23 481.80,181.40C482.67,181.57 483.63,181.32 485.00,181.00C486.37,180.68 488.00,180.20 490.00,179.50C492.00,178.80 494.83,177.57 497.00,176.80C499.17,176.03 500.75,175.32 503.00,174.90C505.25,174.48 507.83,174.30 510.50,174.30C513.17,174.30 515.53,174.47 519.00,174.90C522.47,175.33 526.70,175.92 531.30,176.90C535.90,177.88 541.48,179.58 546.60,180.80C551.72,182.02 556.88,183.33 562.00,184.20C567.12,185.07 572.20,185.53 577.30,186.00C582.40,186.47 587.48,186.75 592.60,187.00C597.72,187.25 602.88,187.37 608.00,187.50C613.12,187.63 617.68,187.70 623.30,187.80C628.92,187.90 633.50,188.02 641.70,188.10C649.90,188.18 667.37,188.27 672.50,188.30L451.8,188.3Z" fill="#9c4fae" fill-opacity="0.4" stroke="none"/>
<path d="M462.2,188.3 L462.2,57.5 L465.6,57.5 L465.60,57.50C465.65,61.25 465.75,72.92 465.90,80.00C466.05,87.08 466.25,93.67 466.50,100.00C466.75,106.33 467.05,111.33 467.40,118.00C467.75,124.67 468.12,133.83 468.60,140.00C469.08,146.17 469.73,150.55 470.30,155.00C470.87,159.45 471.38,163.28 472.00,166.70C472.62,170.12 473.25,173.12 474.00,175.50C474.75,177.88 475.67,179.50 476.50,181.00C477.33,182.50 478.25,183.50 479.00,184.50C479.75,185.50 480.33,186.37 481.00,187.00C481.67,187.63 482.67,188.08 483.00,188.30Z" fill="#b08a50" fill-opacity="0.45" stroke="none"/>
<path d="M469.2,112 C467.5,130 465.8,150 464.6,162 S463.2,180 463.0,188" fill="none" stroke="#4f6a4c" stroke-width="1.2" stroke-dasharray="3.2,2.2"/>
<path d="M462.2,188.3 L462.2,57.5 L465.6,57.5 L465.60,57.50C465.65,61.25 465.75,72.92 465.90,80.00C466.05,87.08 466.25,93.67 466.50,100.00C466.75,106.33 467.05,111.33 467.40,118.00C467.75,124.67 468.12,133.83 468.60,140.00C469.08,146.17 469.73,150.55 470.30,155.00C470.87,159.45 471.38,163.28 472.00,166.70C472.62,170.12 473.25,173.12 474.00,175.50C474.75,177.88 475.67,179.50 476.50,181.00C477.33,182.50 478.25,183.50 479.00,184.50C479.75,185.50 480.33,186.37 481.00,187.00C481.67,187.63 482.67,188.08 483.00,188.30" fill="none" stroke="#ea8a18" stroke-width="1.5"/>
<rect x="461.7" y="57.2" width="4.4" height="42" fill="#f09a1c"/>
<path d="M461.7,99 L466.1,99 L464.4,152 L461.7,152Z" fill="#ec8a22" fill-opacity="0.9"/>
<path d="M451.80,188.30C452.07,187.67 452.90,186.12 453.40,184.50C453.90,182.88 454.27,182.68 454.80,178.60C455.33,174.52 456.03,167.15 456.60,160.00C457.17,152.85 457.70,144.37 458.20,135.70C458.70,127.03 459.18,115.95 459.60,108.00C460.02,100.05 460.33,93.92 460.70,88.00C461.07,82.08 461.43,76.17 461.80,72.50C462.17,68.83 462.50,66.25 462.90,66.00C463.30,65.75 463.75,68.17 464.20,71.00C464.65,73.83 465.10,78.17 465.60,83.00C466.10,87.83 466.60,93.83 467.20,100.00C467.80,106.17 468.45,113.33 469.20,120.00C469.95,126.67 470.90,134.17 471.70,140.00C472.50,145.83 473.28,150.55 474.00,155.00C474.72,159.45 475.30,163.37 476.00,166.70C476.70,170.03 477.57,172.78 478.20,175.00C478.83,177.22 479.20,178.93 479.80,180.00C480.40,181.07 480.93,181.23 481.80,181.40C482.67,181.57 483.63,181.32 485.00,181.00C486.37,180.68 488.00,180.20 490.00,179.50C492.00,178.80 494.83,177.57 497.00,176.80C499.17,176.03 500.75,175.32 503.00,174.90C505.25,174.48 507.83,174.30 510.50,174.30C513.17,174.30 515.53,174.47 519.00,174.90C522.47,175.33 526.70,175.92 531.30,176.90C535.90,177.88 541.48,179.58 546.60,180.80C551.72,182.02 556.88,183.33 562.00,184.20C567.12,185.07 572.20,185.53 577.30,186.00C582.40,186.47 587.48,186.75 592.60,187.00C597.72,187.25 602.88,187.37 608.00,187.50C613.12,187.63 617.68,187.70 623.30,187.80C628.92,187.90 633.50,188.02 641.70,188.10C649.90,188.18 667.37,188.27 672.50,188.30" fill="none" stroke="#701f82" stroke-width="1.5"/>
<rect x="577.40" y="34.70" width="24.40" height="8.20" fill="#2e8b3e" stroke="#3a8a4a" stroke-width="1.3" fill-opacity="0.3"/>
<text transform="translate(607.60,42.90) scale(1.07,1)" font-size="11" text-anchor="start" fill="#262626">Modality 1</text>
<rect x="577.40" y="51.70" width="24.40" height="8.20" fill="#f5a623" stroke="#f0a030" stroke-width="1.3" fill-opacity="0.3"/>
<text transform="translate(607.60,59.90) scale(1.07,1)" font-size="11" text-anchor="start" fill="#262626">Modality 2</text>
<rect x="577.40" y="68.30" width="24.40" height="8.20" fill="#9b59b6" stroke="#7b2a8c" stroke-width="1.3" fill-opacity="0.3"/>
<text transform="translate(607.60,76.50) scale(1.07,1)" font-size="11" text-anchor="start" fill="#262626">Modality 3</text>
<rect x="28.40" y="296.00" width="275.90" height="136.60" fill="none" stroke="#b0b0b0" stroke-width="1.0"/>
<line x1="21.40" y1="415.00" x2="28.40" y2="415.00" stroke="#8c8c8c" stroke-width="1.0"/>
<text transform="translate(18.20,418.90) scale(1.07,1)" font-size="11" text-anchor="end" fill="#262626">0.0</text>
<line x1="21.40" y1="393.94" x2="28.40" y2="393.94" stroke="#8c8c8c" stroke-width="1.0"/>
<text transform="translate(18.20,397.84) scale(1.07,1)" font-size="11" text-anchor="end" fill="#262626">0.2</text>
<line x1="21.40" y1="372.88" x2="28.40" y2="372.88" stroke="#8c8c8c" stroke-width="1.0"/>
<text transform="translate(18.20,376.78) scale(1.07,1)" font-size="11" text-anchor="end" fill="#262626">0.4</text>
<line x1="21.40" y1="351.82" x2="28.40" y2="351.82" stroke="#8c8c8c" stroke-width="1.0"/>
<text transform="translate(18.20,355.72) scale(1.07,1)" font-size="11" text-anchor="end" fill="#262626">0.6</text>
<line x1="21.40" y1="330.76" x2="28.40" y2="330.76" stroke="#8c8c8c" stroke-width="1.0"/>
<text transform="translate(18.20,334.66) scale(1.07,1)" font-size="11" text-anchor="end" fill="#262626">0.8</text>
<line x1="21.40" y1="309.70" x2="28.40" y2="309.70" stroke="#8c8c8c" stroke-width="1.0"/>
<text transform="translate(18.20,313.60) scale(1.07,1)" font-size="11" text-anchor="end" fill="#262626">1.0</text>
<line x1="55.60" y1="432.60" x2="55.60" y2="441.00" stroke="#8c8c8c" stroke-width="1.0"/>
<text transform="translate(54.70,453.00) scale(1.07,1)" font-size="11" text-anchor="middle" fill="#262626">factor1</text>
<line x1="110.80" y1="432.60" x2="110.80" y2="441.00" stroke="#8c8c8c" stroke-width="1.0"/>
<text transform="translate(110.50,453.00) scale(1.07,1)" font-size="11" text-anchor="middle" fill="#262626">factor2</text>
<line x1="166.00" y1="432.60" x2="166.00" y2="441.00" stroke="#8c8c8c" stroke-width="1.0"/>
<text transform="translate(165.80,453.00) scale(1.07,1)" font-size="11" text-anchor="middle" fill="#262626">factor3</text>
<line x1="221.30" y1="432.60" x2="221.30" y2="441.00" stroke="#8c8c8c" stroke-width="1.0"/>
<text transform="translate(221.00,453.00) scale(1.07,1)" font-size="11" text-anchor="middle" fill="#262626">factor4</text>
<line x1="276.40" y1="432.60" x2="276.40" y2="441.00" stroke="#8c8c8c" stroke-width="1.0"/>
<text transform="translate(273.70,453.00) scale(1.07,1)" font-size="11" text-anchor="middle" fill="#262626">backgr</text>
<text transform="translate(176.60,291.40) scale(1.07,1)" font-size="11" text-anchor="middle" fill="#262626">Modality weight</text>
<path d="M41.32,397.80C41.34,399.00 41.35,403.03 41.45,405.00C41.55,406.97 41.59,408.47 41.90,409.60C42.21,410.73 42.62,411.22 43.30,411.80C43.98,412.38 45.20,412.75 46.00,413.10C46.80,413.45 48.10,413.62 48.10,413.90C48.10,414.18 46.85,414.48 46.00,414.80C45.15,415.12 43.78,415.50 43.00,415.80C42.22,416.10 41.60,416.47 41.32,416.60 L41.08,416.60C40.80,416.47 40.18,416.10 39.40,415.80C38.62,415.50 37.25,415.12 36.40,414.80C35.55,414.48 34.30,414.18 34.30,413.90C34.30,413.62 35.60,413.45 36.40,413.10C37.20,412.75 38.42,412.38 39.10,411.80C39.78,411.22 40.19,410.73 40.50,409.60C40.81,408.47 40.85,406.97 40.95,405.00C41.05,403.03 41.06,399.00 41.08,397.80Z" fill="#3a72ad" stroke="#5a5a5a" stroke-width="0.6" stroke-linejoin="round"/>
<path d="M55.72,307.30C55.73,319.42 55.69,365.38 55.75,380.00C55.81,394.62 56.09,390.83 56.10,395.00C56.11,399.17 55.86,399.77 55.80,405.00C55.74,410.23 55.73,422.83 55.72,426.40 L55.48,426.40C55.47,422.83 55.46,410.23 55.40,405.00C55.34,399.77 55.09,399.17 55.10,395.00C55.11,390.83 55.39,394.62 55.45,380.00C55.51,365.38 55.48,319.42 55.48,307.30Z" fill="#e3792a" stroke="#5a5a5a" stroke-width="0.6" stroke-linejoin="round"/>
<path d="M70.62,302.20C70.62,311.83 70.65,340.78 70.65,360.00C70.65,379.22 70.62,407.92 70.62,417.50 L70.38,417.50C70.38,407.92 70.35,379.22 70.35,360.00C70.35,340.78 70.38,311.83 70.38,302.20Z" fill="#3a943c" stroke="#5a5a5a" stroke-width="0.6" stroke-linejoin="round"/>
<path d="M96.52,371.00C96.55,375.00 96.57,389.67 96.70,395.00C96.83,400.33 96.98,400.83 97.30,403.00C97.62,405.17 98.03,406.67 98.60,408.00C99.17,409.33 99.90,410.12 100.70,411.00C101.50,411.88 103.15,412.63 103.40,413.30C103.65,413.97 102.90,414.42 102.20,415.00C101.50,415.58 100.15,416.27 99.20,416.80C98.25,417.33 96.97,417.97 96.52,418.20 L96.28,418.20C95.83,417.97 94.55,417.33 93.60,416.80C92.65,416.27 91.30,415.58 90.60,415.00C89.90,414.42 89.15,413.97 89.40,413.30C89.65,412.63 91.30,411.88 92.10,411.00C92.90,410.12 93.63,409.33 94.20,408.00C94.77,406.67 95.18,405.17 95.50,403.00C95.82,400.83 95.97,400.33 96.10,395.00C96.23,389.67 96.25,375.00 96.28,371.00Z" fill="#3a72ad" stroke="#5a5a5a" stroke-width="0.6" stroke-linejoin="round"/>
<path d="M110.92,312.20C111.00,313.17 111.12,316.03 111.40,318.00C111.68,319.97 112.25,322.17 112.60,324.00C112.95,325.83 113.32,327.67 113.50,329.00C113.68,330.33 113.75,330.83 113.70,332.00C113.65,333.17 113.47,334.50 113.20,336.00C112.93,337.50 112.42,339.00 112.10,341.00C111.78,343.00 111.47,344.83 111.30,348.00C111.12,351.17 111.11,354.50 111.05,360.00C110.99,365.50 110.94,377.50 110.92,381.00 L110.68,381.00C110.66,377.50 110.61,365.50 110.55,360.00C110.49,354.50 110.47,351.17 110.30,348.00C110.12,344.83 109.82,343.00 109.50,341.00C109.18,339.00 108.67,337.50 108.40,336.00C108.13,334.50 107.95,333.17 107.90,332.00C107.85,330.83 107.92,330.33 108.10,329.00C108.28,327.67 108.65,325.83 109.00,324.00C109.35,322.17 109.92,319.97 110.20,318.00C110.48,316.03 110.60,313.17 110.68,312.20Z" fill="#e3792a" stroke="#5a5a5a" stroke-width="0.6" stroke-linejoin="round"/>
<path d="M125.62,365.80C125.67,367.33 125.74,372.30 125.90,375.00C126.06,377.70 126.32,379.83 126.60,382.00C126.88,384.17 127.35,386.22 127.60,388.00C127.85,389.78 128.10,391.20 128.10,392.70C128.10,394.20 127.85,395.45 127.60,397.00C127.35,398.55 126.88,400.33 126.60,402.00C126.32,403.67 126.06,405.23 125.90,407.00C125.74,408.77 125.67,411.67 125.62,412.60 L125.38,412.60C125.33,411.67 125.26,408.77 125.10,407.00C124.94,405.23 124.68,403.67 124.40,402.00C124.12,400.33 123.65,398.55 123.40,397.00C123.15,395.45 122.90,394.20 122.90,392.70C122.90,391.20 123.15,389.78 123.40,388.00C123.65,386.22 124.12,384.17 124.40,382.00C124.68,379.83 124.94,377.70 125.10,375.00C125.26,372.30 125.33,367.33 125.38,365.80Z" fill="#3a943c" stroke="#5a5a5a" stroke-width="0.6" stroke-linejoin="round"/>
<path d="M151.32,373.20C151.37,376.00 151.40,385.87 151.60,390.00C151.80,394.13 152.02,395.83 152.50,398.00C152.98,400.17 153.87,401.58 154.50,403.00C155.13,404.42 155.92,405.57 156.30,406.50C156.68,407.43 156.85,407.85 156.80,408.60C156.75,409.35 156.47,410.10 156.00,411.00C155.53,411.90 154.63,413.12 154.00,414.00C153.37,414.88 152.65,415.72 152.20,416.30C151.75,416.88 151.47,417.30 151.32,417.50 L151.08,417.50C150.93,417.30 150.65,416.88 150.20,416.30C149.75,415.72 149.03,414.88 148.40,414.00C147.77,413.12 146.87,411.90 146.40,411.00C145.93,410.10 145.65,409.35 145.60,408.60C145.55,407.85 145.72,407.43 146.10,406.50C146.48,405.57 147.27,404.42 147.90,403.00C148.53,401.58 149.42,400.17 149.90,398.00C150.38,395.83 150.60,394.13 150.80,390.00C151.00,385.87 151.03,376.00 151.08,373.20Z" fill="#3a72ad" stroke="#5a5a5a" stroke-width="0.6" stroke-linejoin="round"/>
<path d="M166.12,307.30C166.32,308.08 166.85,310.55 167.30,312.00C167.75,313.45 168.38,314.67 168.80,316.00C169.22,317.33 169.67,318.83 169.80,320.00C169.93,321.17 169.80,321.83 169.60,323.00C169.40,324.17 168.98,325.50 168.60,327.00C168.22,328.50 167.65,330.17 167.30,332.00C166.95,333.83 166.68,335.00 166.50,338.00C166.32,341.00 166.31,342.83 166.25,350.00C166.19,357.17 166.14,375.83 166.12,381.00 L165.88,381.00C165.86,375.83 165.81,357.17 165.75,350.00C165.69,342.83 165.68,341.00 165.50,338.00C165.32,335.00 165.05,333.83 164.70,332.00C164.35,330.17 163.78,328.50 163.40,327.00C163.02,325.50 162.60,324.17 162.40,323.00C162.20,321.83 162.07,321.17 162.20,320.00C162.33,318.83 162.78,317.33 163.20,316.00C163.62,314.67 164.25,313.45 164.70,312.00C165.15,310.55 165.68,308.08 165.88,307.30Z" fill="#e3792a" stroke="#5a5a5a" stroke-width="0.6" stroke-linejoin="round"/>
<path d="M181.02,351.00C181.04,355.83 181.05,372.67 181.15,380.00C181.25,387.33 181.34,391.50 181.60,395.00C181.86,398.50 182.18,399.33 182.70,401.00C183.22,402.67 183.95,403.75 184.70,405.00C185.45,406.25 186.57,407.52 187.20,408.50C187.83,409.48 188.42,410.15 188.50,410.90C188.58,411.65 188.25,412.23 187.70,413.00C187.15,413.77 186.12,414.75 185.20,415.50C184.28,416.25 182.90,416.98 182.20,417.50C181.50,418.02 181.22,418.42 181.02,418.60 L180.78,418.60C180.58,418.42 180.30,418.02 179.60,417.50C178.90,416.98 177.52,416.25 176.60,415.50C175.68,414.75 174.65,413.77 174.10,413.00C173.55,412.23 173.22,411.65 173.30,410.90C173.38,410.15 173.97,409.48 174.60,408.50C175.23,407.52 176.35,406.25 177.10,405.00C177.85,403.75 178.58,402.67 179.10,401.00C179.62,399.33 179.94,398.50 180.20,395.00C180.46,391.50 180.55,387.33 180.65,380.00C180.75,372.67 180.76,355.83 180.78,351.00Z" fill="#3a943c" stroke="#5a5a5a" stroke-width="0.6" stroke-linejoin="round"/>
<path d="M206.52,373.80C206.57,377.33 206.60,390.13 206.80,395.00C207.00,399.87 207.30,400.92 207.70,403.00C208.10,405.08 208.53,406.25 209.20,407.50C209.87,408.75 210.92,409.58 211.70,410.50C212.48,411.42 213.73,412.25 213.90,413.00C214.07,413.75 213.40,414.28 212.70,415.00C212.00,415.72 210.73,416.58 209.70,417.30C208.67,418.02 207.05,418.97 206.52,419.30 L206.28,419.30C205.75,418.97 204.13,418.02 203.10,417.30C202.07,416.58 200.80,415.72 200.10,415.00C199.40,414.28 198.73,413.75 198.90,413.00C199.07,412.25 200.32,411.42 201.10,410.50C201.88,409.58 202.93,408.75 203.60,407.50C204.27,406.25 204.70,405.08 205.10,403.00C205.50,400.92 205.80,399.87 206.00,395.00C206.20,390.13 206.23,377.33 206.28,373.80Z" fill="#3a72ad" stroke="#5a5a5a" stroke-width="0.6" stroke-linejoin="round"/>
<path d="M221.62,303.30C221.77,303.92 222.09,305.72 222.50,307.00C222.91,308.28 223.72,309.77 224.10,311.00C224.48,312.23 224.73,313.23 224.80,314.40C224.87,315.57 224.72,316.73 224.50,318.00C224.28,319.27 223.83,320.50 223.50,322.00C223.17,323.50 222.77,324.83 222.50,327.00C222.23,329.17 222.03,331.17 221.90,335.00C221.77,338.83 221.75,344.38 221.70,350.00C221.65,355.62 221.63,365.58 221.62,368.70 L221.38,368.70C221.37,365.58 221.35,355.62 221.30,350.00C221.25,344.38 221.23,338.83 221.10,335.00C220.97,331.17 220.77,329.17 220.50,327.00C220.23,324.83 219.83,323.50 219.50,322.00C219.17,320.50 218.72,319.27 218.50,318.00C218.28,316.73 218.13,315.57 218.20,314.40C218.27,313.23 218.52,312.23 218.90,311.00C219.28,309.77 220.09,308.28 220.50,307.00C220.91,305.72 221.23,303.92 221.38,303.30Z" fill="#e3792a" stroke="#5a5a5a" stroke-width="0.6" stroke-linejoin="round"/>
<path d="M236.02,376.50C236.07,379.58 236.10,390.75 236.30,395.00C236.50,399.25 236.72,400.17 237.20,402.00C237.68,403.83 238.48,404.83 239.20,406.00C239.92,407.17 241.02,408.18 241.50,409.00C241.98,409.82 242.10,410.23 242.10,410.90C242.10,411.57 241.98,412.23 241.50,413.00C241.02,413.77 239.97,414.78 239.20,415.50C238.43,416.22 237.43,416.88 236.90,417.30C236.37,417.72 236.17,417.88 236.02,418.00 L235.78,418.00C235.63,417.88 235.43,417.72 234.90,417.30C234.37,416.88 233.37,416.22 232.60,415.50C231.83,414.78 230.78,413.77 230.30,413.00C229.82,412.23 229.70,411.57 229.70,410.90C229.70,410.23 229.82,409.82 230.30,409.00C230.78,408.18 231.88,407.17 232.60,406.00C233.32,404.83 234.12,403.83 234.60,402.00C235.08,400.17 235.30,399.25 235.50,395.00C235.70,390.75 235.73,379.58 235.78,376.50Z" fill="#3a943c" stroke="#5a5a5a" stroke-width="0.6" stroke-linejoin="round"/>
<path d="M261.72,342.90C261.77,345.75 261.85,355.15 262.00,360.00C262.15,364.85 262.32,368.83 262.60,372.00C262.88,375.17 263.23,376.67 263.70,379.00C264.17,381.33 264.87,383.67 265.40,386.00C265.93,388.33 266.43,390.67 266.90,393.00C267.37,395.33 267.88,397.90 268.20,400.00C268.52,402.10 268.80,403.93 268.80,405.60C268.80,407.27 268.60,408.60 268.20,410.00C267.80,411.40 267.12,412.75 266.40,414.00C265.68,415.25 264.57,416.50 263.90,417.50C263.23,418.50 262.76,419.32 262.40,420.00C262.04,420.68 261.83,421.33 261.72,421.60 L261.48,421.60C261.37,421.33 261.16,420.68 260.80,420.00C260.44,419.32 259.97,418.50 259.30,417.50C258.63,416.50 257.52,415.25 256.80,414.00C256.08,412.75 255.40,411.40 255.00,410.00C254.60,408.60 254.40,407.27 254.40,405.60C254.40,403.93 254.68,402.10 255.00,400.00C255.32,397.90 255.83,395.33 256.30,393.00C256.77,390.67 257.27,388.33 257.80,386.00C258.33,383.67 259.03,381.33 259.50,379.00C259.97,376.67 260.32,375.17 260.60,372.00C260.88,368.83 261.05,364.85 261.20,360.00C261.35,355.15 261.43,345.75 261.48,342.90Z" fill="#3a72ad" stroke="#5a5a5a" stroke-width="0.6" stroke-linejoin="round"/>
<path d="M276.32,303.30C276.40,304.42 276.59,307.22 276.80,310.00C277.01,312.78 277.38,316.67 277.60,320.00C277.82,323.33 277.97,325.83 278.10,330.00C278.23,334.17 278.37,340.00 278.40,345.00C278.43,350.00 278.37,355.00 278.30,360.00C278.23,365.00 278.12,370.00 278.00,375.00C277.88,380.00 277.75,385.83 277.60,390.00C277.45,394.17 277.27,396.67 277.10,400.00C276.93,403.33 276.73,406.67 276.60,410.00C276.47,413.33 276.37,418.33 276.32,420.00 L276.08,420.00C276.03,418.33 275.93,413.33 275.80,410.00C275.67,406.67 275.47,403.33 275.30,400.00C275.13,396.67 274.95,394.17 274.80,390.00C274.65,385.83 274.52,380.00 274.40,375.00C274.28,370.00 274.17,365.00 274.10,360.00C274.03,355.00 273.97,350.00 274.00,345.00C274.03,340.00 274.17,334.17 274.30,330.00C274.43,325.83 274.58,323.33 274.80,320.00C275.02,316.67 275.39,312.78 275.60,310.00C275.81,307.22 276.00,304.42 276.08,303.30Z" fill="#e3792a" stroke="#5a5a5a" stroke-width="0.6" stroke-linejoin="round"/>
<path d="M291.22,313.30C291.30,315.25 291.50,320.55 291.70,325.00C291.90,329.45 292.15,335.00 292.40,340.00C292.65,345.00 292.95,350.50 293.20,355.00C293.45,359.50 293.73,363.38 293.90,367.00C294.07,370.62 294.20,373.53 294.20,376.70C294.20,379.87 294.08,382.62 293.90,386.00C293.72,389.38 293.38,393.50 293.10,397.00C292.82,400.50 292.45,404.00 292.20,407.00C291.95,410.00 291.76,412.28 291.60,415.00C291.44,417.72 291.28,421.92 291.22,423.30 L290.98,423.30C290.92,421.92 290.76,417.72 290.60,415.00C290.44,412.28 290.25,410.00 290.00,407.00C289.75,404.00 289.38,400.50 289.10,397.00C288.82,393.50 288.48,389.38 288.30,386.00C288.12,382.62 288.00,379.87 288.00,376.70C288.00,373.53 288.13,370.62 288.30,367.00C288.47,363.38 288.75,359.50 289.00,355.00C289.25,350.50 289.55,345.00 289.80,340.00C290.05,335.00 290.30,329.45 290.50,325.00C290.70,320.55 290.90,315.25 290.98,313.30Z" fill="#3a943c" stroke="#5a5a5a" stroke-width="0.6" stroke-linejoin="round"/>
<rect x="311.20" y="337.10" width="16.70" height="5.80" fill="#3a72ad" stroke="#555" stroke-width="0.5"/>
<text transform="translate(333.20,344.20) scale(1.07,1)" font-size="11" text-anchor="start" fill="#262626">Modality 1</text>
<rect x="311.20" y="352.00" width="16.70" height="5.80" fill="#e3792a" stroke="#555" stroke-width="0.5"/>
<text transform="translate(333.20,359.10) scale(1.07,1)" font-size="11" text-anchor="start" fill="#262626">Modality 2</text>
<rect x="311.20" y="366.60" width="16.70" height="5.80" fill="#3a943c" stroke="#555" stroke-width="0.5"/>
<text transform="translate(333.20,373.70) scale(1.07,1)" font-size="11" text-anchor="start" fill="#262626">Modality 3</text>
<rect x="36.60" y="513.50" width="185.00" height="113.10" fill="none" stroke="#b0b0b0" stroke-width="1.0"/>
<line x1="31.10" y1="623.02" x2="36.60" y2="623.02" stroke="#8c8c8c" stroke-width="1.0"/>
<text transform="translate(28.30,626.92) scale(1.07,1)" font-size="11" text-anchor="end" fill="#262626">-0.25</text>
<line x1="31.10" y1="605.30" x2="36.60" y2="605.30" stroke="#8c8c8c" stroke-width="1.0"/>
<text transform="translate(28.30,609.20) scale(1.07,1)" font-size="11" text-anchor="end" fill="#262626">0.00</text>
<line x1="31.10" y1="587.57" x2="36.60" y2="587.57" stroke="#8c8c8c" stroke-width="1.0"/>
<text transform="translate(28.30,591.47) scale(1.07,1)" font-size="11" text-anchor="end" fill="#262626">0.25</text>
<line x1="31.10" y1="569.85" x2="36.60" y2="569.85" stroke="#8c8c8c" stroke-width="1.0"/>
<text transform="translate(28.30,573.75) scale(1.07,1)" font-size="11" text-anchor="end" fill="#262626">0.50</text>
<line x1="31.10" y1="552.12" x2="36.60" y2="552.12" stroke="#8c8c8c" stroke-width="1.0"/>
<text transform="translate(28.30,556.02) scale(1.07,1)" font-size="11" text-anchor="end" fill="#262626">0.75</text>
<line x1="31.10" y1="534.40" x2="36.60" y2="534.40" stroke="#8c8c8c" stroke-width="1.0"/>
<text transform="translate(28.30,538.30) scale(1.07,1)" font-size="11" text-anchor="end" fill="#262626">1.00</text>
<line x1="31.10" y1="516.67" x2="36.60" y2="516.67" stroke="#8c8c8c" stroke-width="1.0"/>
<text transform="translate(28.30,520.57) scale(1.07,1)" font-size="11" text-anchor="end" fill="#262626">1.25</text>
<line x1="55.50" y1="626.60" x2="55.50" y2="633.00" stroke="#8c8c8c" stroke-width="1.0"/>
<text transform="translate(50.50,644.80) scale(1.07,1)" font-size="11" text-anchor="middle" fill="#262626">factor1</text>
<line x1="92.50" y1="626.60" x2="92.50" y2="633.00" stroke="#8c8c8c" stroke-width="1.0"/>
<text transform="translate(89.60,644.80) scale(1.07,1)" font-size="11" text-anchor="middle" fill="#262626">factor2</text>
<line x1="129.30" y1="626.60" x2="129.30" y2="633.00" stroke="#8c8c8c" stroke-width="1.0"/>
<text transform="translate(129.30,644.80) scale(1.07,1)" font-size="11" text-anchor="middle" fill="#262626">factor3</text>
<line x1="166.10" y1="626.60" x2="166.10" y2="633.00" stroke="#8c8c8c" stroke-width="1.0"/>
<text transform="translate(168.70,644.80) scale(1.07,1)" font-size="11" text-anchor="middle" fill="#262626">factor4</text>
<line x1="203.00" y1="626.60" x2="203.00" y2="633.00" stroke="#8c8c8c" stroke-width="1.0"/>
<text transform="translate(207.40,644.80) scale(1.07,1)" font-size="11" text-anchor="middle" fill="#262626">backgr</text>
<text transform="translate(132.70,509.20) scale(1.07,1)" font-size="11" text-anchor="middle" fill="#262626">Modality weight (Modality 1)</text>
<path d="M55.50,521.01 L55.20,521.01C54.80,522.13 54.67,525.15 52.80,527.76C50.93,530.36 45.92,533.67 44.00,536.63C42.08,539.59 41.83,542.55 41.30,545.51C40.77,548.47 40.95,551.43 40.80,554.39C40.65,557.35 40.32,560.31 40.40,563.27C40.48,566.23 40.85,569.19 41.30,572.14C41.75,575.10 42.52,578.06 43.10,581.02C43.68,583.98 44.07,586.94 44.80,589.90C45.53,592.86 46.45,595.82 47.50,598.78C48.55,601.74 49.92,604.70 51.10,607.66C52.28,610.62 53.90,614.70 54.60,616.53C55.30,618.37 55.18,618.31 55.30,618.66 L55.50,618.66Z" fill="#3a72ad" stroke="#3d4d5d" stroke-width="0.6" stroke-opacity="0.6" stroke-linejoin="round"/>
<path d="M55.50,521.01 L55.80,521.01C55.98,522.13 56.07,525.15 56.90,527.76C57.73,530.36 59.55,533.67 60.80,536.63C62.05,539.59 63.37,542.55 64.40,545.51C65.43,548.47 66.27,551.43 67.00,554.39C67.73,557.35 68.35,560.31 68.80,563.27C69.25,566.23 69.55,569.19 69.70,572.14C69.85,575.10 69.77,578.06 69.70,581.02C69.63,583.98 69.60,586.94 69.30,589.90C69.00,592.86 68.72,595.82 67.90,598.78C67.08,601.74 66.17,604.70 64.40,607.66C62.63,610.62 58.75,614.52 57.30,616.53C55.85,618.55 55.97,619.20 55.70,619.73 L55.50,619.73Z" fill="#e3792a" stroke="#6a4a30" stroke-width="0.6" stroke-opacity="0.7" stroke-linejoin="round"/>
<line x1="41.10" y1="549.06" x2="55.50" y2="549.06" stroke="#2a4a6a" stroke-width="0.5" stroke-opacity="0.3"/>
<line x1="40.94" y1="568.59" x2="55.50" y2="568.59" stroke="#2a4a6a" stroke-width="0.5" stroke-opacity="0.3"/>
<line x1="44.46" y1="588.12" x2="55.50" y2="588.12" stroke="#2a4a6a" stroke-width="0.5" stroke-opacity="0.3"/>
<line x1="55.50" y1="557.59" x2="67.65" y2="557.59" stroke="#4a4a4a" stroke-width="0.5" stroke-opacity="0.6"/>
<line x1="55.50" y1="575.70" x2="69.70" y2="575.70" stroke="#4a4a4a" stroke-width="0.5" stroke-opacity="0.6"/>
<line x1="55.50" y1="592.56" x2="68.88" y2="592.56" stroke="#4a4a4a" stroke-width="0.5" stroke-opacity="0.6"/>
<line x1="55.50" y1="521.01" x2="55.50" y2="619.73" stroke="#555" stroke-width="0.8" stroke-opacity="0.7"/>
<path d="M92.50,522.07 L92.20,522.07C91.72,523.02 91.12,525.33 89.30,527.76C87.48,530.18 83.08,533.67 81.30,536.63C79.52,539.59 78.90,542.55 78.60,545.51C78.30,548.47 79.50,551.43 79.50,554.39C79.50,557.35 78.88,560.31 78.60,563.27C78.32,566.23 77.80,569.19 77.80,572.14C77.80,575.10 78.02,578.06 78.60,581.02C79.18,583.98 80.40,586.94 81.30,589.90C82.20,592.86 82.97,595.82 84.00,598.78C85.03,601.74 86.25,604.70 87.50,607.66C88.75,610.62 90.70,614.82 91.50,616.53C92.30,618.25 92.17,617.72 92.30,617.95 L92.50,617.95Z" fill="#3a72ad" stroke="#3d4d5d" stroke-width="0.6" stroke-opacity="0.6" stroke-linejoin="round"/>
<path d="M92.50,522.07 L92.80,522.07C92.87,523.02 92.45,525.33 93.20,527.76C93.95,530.18 95.88,533.67 97.30,536.63C98.72,539.59 100.37,542.55 101.70,545.51C103.03,548.47 104.55,551.43 105.30,554.39C106.05,557.35 106.35,560.31 106.20,563.27C106.05,566.23 104.85,569.19 104.40,572.14C103.95,575.10 103.35,578.06 103.50,581.02C103.65,583.98 104.85,586.94 105.30,589.90C105.75,592.86 106.80,595.82 106.20,598.78C105.60,601.74 103.78,604.70 101.70,607.66C99.62,610.62 95.20,614.76 93.70,616.53C92.20,618.31 92.87,618.01 92.70,618.31 L92.50,618.31Z" fill="#e3792a" stroke="#6a4a30" stroke-width="0.6" stroke-opacity="0.7" stroke-linejoin="round"/>
<line x1="78.60" y1="545.51" x2="92.50" y2="545.51" stroke="#2a4a6a" stroke-width="0.5" stroke-opacity="0.3"/>
<line x1="78.60" y1="563.27" x2="92.50" y2="563.27" stroke="#2a4a6a" stroke-width="0.5" stroke-opacity="0.3"/>
<line x1="78.60" y1="581.02" x2="92.50" y2="581.02" stroke="#2a4a6a" stroke-width="0.5" stroke-opacity="0.3"/>
<line x1="92.50" y1="557.94" x2="105.66" y2="557.94" stroke="#4a4a4a" stroke-width="0.5" stroke-opacity="0.6"/>
<line x1="92.50" y1="575.70" x2="104.04" y2="575.70" stroke="#4a4a4a" stroke-width="0.5" stroke-opacity="0.6"/>
<line x1="92.50" y1="593.45" x2="105.66" y2="593.45" stroke="#4a4a4a" stroke-width="0.5" stroke-opacity="0.6"/>
<line x1="92.50" y1="522.07" x2="92.50" y2="618.31" stroke="#555" stroke-width="0.8" stroke-opacity="0.7"/>
<path d="M129.30,518.88 L129.00,518.88C127.93,520.36 124.62,524.80 122.60,527.76C120.58,530.71 118.22,533.67 116.90,536.63C115.58,539.59 114.85,542.55 114.70,545.51C114.55,548.47 115.35,551.43 116.00,554.39C116.65,557.35 117.87,560.31 118.60,563.27C119.33,566.23 120.03,569.19 120.40,572.14C120.77,575.10 120.85,578.06 120.80,581.02C120.75,583.98 120.17,586.94 120.10,589.90C120.03,592.86 119.90,595.82 120.40,598.78C120.90,601.74 121.97,604.70 123.10,607.66C124.23,610.62 126.20,614.23 127.20,616.53C128.20,618.84 128.78,620.68 129.10,621.51 L129.30,621.51Z" fill="#3a72ad" stroke="#3d4d5d" stroke-width="0.6" stroke-opacity="0.6" stroke-linejoin="round"/>
<path d="M129.30,518.88 L129.60,518.88C130.43,520.36 133.02,524.80 134.60,527.76C136.18,530.71 138.27,533.67 139.10,536.63C139.93,539.59 139.75,542.55 139.60,545.51C139.45,548.47 138.43,551.43 138.20,554.39C137.97,557.35 138.05,560.31 138.20,563.27C138.35,566.23 138.67,569.19 139.10,572.14C139.53,575.10 140.07,578.06 140.80,581.02C141.53,583.98 143.05,586.94 143.50,589.90C143.95,592.86 144.23,595.82 143.50,598.78C142.77,601.74 141.02,604.70 139.10,607.66C137.18,610.62 133.60,614.31 132.00,616.53C130.40,618.75 129.92,620.23 129.50,620.97 L129.30,620.97Z" fill="#e3792a" stroke="#6a4a30" stroke-width="0.6" stroke-opacity="0.7" stroke-linejoin="round"/>
<line x1="114.96" y1="547.29" x2="129.30" y2="547.29" stroke="#2a4a6a" stroke-width="0.5" stroke-opacity="0.3"/>
<line x1="119.32" y1="566.82" x2="129.30" y2="566.82" stroke="#2a4a6a" stroke-width="0.5" stroke-opacity="0.3"/>
<line x1="120.52" y1="584.57" x2="129.30" y2="584.57" stroke="#2a4a6a" stroke-width="0.5" stroke-opacity="0.3"/>
<line x1="129.30" y1="550.84" x2="138.76" y2="550.84" stroke="#4a4a4a" stroke-width="0.5" stroke-opacity="0.6"/>
<line x1="129.30" y1="575.70" x2="139.78" y2="575.70" stroke="#4a4a4a" stroke-width="0.5" stroke-opacity="0.6"/>
<line x1="129.30" y1="595.23" x2="143.50" y2="595.23" stroke="#4a4a4a" stroke-width="0.5" stroke-opacity="0.6"/>
<line x1="129.30" y1="518.88" x2="129.30" y2="621.51" stroke="#555" stroke-width="0.8" stroke-opacity="0.7"/>
<path d="M166.10,522.07 L165.80,522.07C165.35,523.02 164.88,525.33 163.10,527.76C161.32,530.18 156.88,533.67 155.10,536.63C153.32,539.59 152.40,542.55 152.40,545.51C152.40,548.47 154.95,551.43 155.10,554.39C155.25,557.35 153.90,560.31 153.30,563.27C152.70,566.23 151.50,569.19 151.50,572.14C151.50,575.10 152.40,578.06 153.30,581.02C154.20,583.98 155.72,586.94 156.90,589.90C158.08,592.86 159.22,595.82 160.40,598.78C161.58,601.74 163.12,604.70 164.00,607.66C164.88,610.62 165.38,614.76 165.70,616.53C166.02,618.31 165.87,618.01 165.90,618.31 L166.10,618.31Z" fill="#3a72ad" stroke="#3d4d5d" stroke-width="0.6" stroke-opacity="0.6" stroke-linejoin="round"/>
<path d="M166.10,522.07 L166.40,522.07C166.43,523.02 166.27,525.33 166.60,527.76C166.93,530.18 167.37,533.67 168.40,536.63C169.43,539.59 171.17,542.55 172.80,545.51C174.43,548.47 176.87,551.43 178.20,554.39C179.53,557.35 180.65,560.31 180.80,563.27C180.95,566.23 179.98,569.19 179.10,572.14C178.22,575.10 175.80,578.06 175.50,581.02C175.20,583.98 176.57,586.94 177.30,589.90C178.03,592.86 180.20,595.82 179.90,598.78C179.60,601.74 177.57,604.70 175.50,607.66C173.43,610.62 169.03,614.70 167.50,616.53C165.97,618.37 166.50,618.31 166.30,618.66 L166.10,618.66Z" fill="#e3792a" stroke="#6a4a30" stroke-width="0.6" stroke-opacity="0.7" stroke-linejoin="round"/>
<line x1="152.40" y1="545.51" x2="166.10" y2="545.51" stroke="#2a4a6a" stroke-width="0.5" stroke-opacity="0.3"/>
<line x1="153.66" y1="561.49" x2="166.10" y2="561.49" stroke="#2a4a6a" stroke-width="0.5" stroke-opacity="0.3"/>
<line x1="152.58" y1="577.47" x2="166.10" y2="577.47" stroke="#2a4a6a" stroke-width="0.5" stroke-opacity="0.3"/>
<line x1="166.10" y1="562.38" x2="180.54" y2="562.38" stroke="#4a4a4a" stroke-width="0.5" stroke-opacity="0.6"/>
<line x1="166.10" y1="575.70" x2="177.66" y2="575.70" stroke="#4a4a4a" stroke-width="0.5" stroke-opacity="0.6"/>
<line x1="166.10" y1="596.12" x2="179.12" y2="596.12" stroke="#4a4a4a" stroke-width="0.5" stroke-opacity="0.6"/>
<line x1="166.10" y1="522.07" x2="166.10" y2="618.66" stroke="#555" stroke-width="0.8" stroke-opacity="0.7"/>
<path d="M203.00,520.30 L202.70,520.30C201.65,521.54 198.63,525.03 196.40,527.76C194.17,530.48 190.18,533.67 189.30,536.63C188.42,539.59 190.50,542.55 191.10,545.51C191.70,548.47 192.60,551.43 192.90,554.39C193.20,557.35 192.98,560.31 192.90,563.27C192.82,566.23 192.62,569.19 192.40,572.14C192.18,575.10 191.97,578.06 191.60,581.02C191.23,583.98 190.48,586.94 190.20,589.90C189.92,592.86 189.30,595.82 189.90,598.78C190.50,601.74 192.03,604.70 193.80,607.66C195.57,610.62 199.00,614.46 200.50,616.53C202.00,618.61 202.42,619.49 202.80,620.09 L203.00,620.09Z" fill="#3a72ad" stroke="#3d4d5d" stroke-width="0.6" stroke-opacity="0.6" stroke-linejoin="round"/>
<path d="M203.00,520.30 L203.30,520.30C204.23,521.54 206.93,525.03 208.90,527.76C210.87,530.48 213.83,533.67 215.10,536.63C216.37,539.59 216.80,542.55 216.50,545.51C216.20,548.47 213.90,551.43 213.30,554.39C212.70,557.35 212.97,560.31 212.90,563.27C212.83,566.23 212.83,569.19 212.90,572.14C212.97,575.10 212.93,578.06 213.30,581.02C213.67,583.98 214.37,586.94 215.10,589.90C215.83,592.86 218.00,595.82 217.70,598.78C217.40,601.74 215.37,604.70 213.30,607.66C211.23,610.62 206.98,614.52 205.30,616.53C203.62,618.55 203.55,619.20 203.20,619.73 L203.00,619.73Z" fill="#e3792a" stroke="#6a4a30" stroke-width="0.6" stroke-opacity="0.7" stroke-linejoin="round"/>
<line x1="190.38" y1="541.96" x2="203.00" y2="541.96" stroke="#2a4a6a" stroke-width="0.5" stroke-opacity="0.3"/>
<line x1="192.50" y1="570.37" x2="203.00" y2="570.37" stroke="#2a4a6a" stroke-width="0.5" stroke-opacity="0.3"/>
<line x1="190.08" y1="593.45" x2="203.00" y2="593.45" stroke="#2a4a6a" stroke-width="0.5" stroke-opacity="0.3"/>
<line x1="203.00" y1="546.40" x2="216.18" y2="546.40" stroke="#4a4a4a" stroke-width="0.5" stroke-opacity="0.6"/>
<line x1="203.00" y1="570.37" x2="212.90" y2="570.37" stroke="#4a4a4a" stroke-width="0.5" stroke-opacity="0.6"/>
<line x1="203.00" y1="597.89" x2="217.44" y2="597.89" stroke="#4a4a4a" stroke-width="0.5" stroke-opacity="0.6"/>
<line x1="203.00" y1="520.30" x2="203.00" y2="620.09" stroke="#555" stroke-width="0.8" stroke-opacity="0.7"/>
<rect x="268.10" y="513.80" width="184.40" height="112.80" fill="none" stroke="#b0b0b0" stroke-width="1.0"/>
<line x1="262.60" y1="609.50" x2="268.10" y2="609.50" stroke="#8c8c8c" stroke-width="1.0"/>
<text transform="translate(259.80,613.40) scale(1.07,1)" font-size="11" text-anchor="end" fill="#262626">0.00</text>
<line x1="262.60" y1="589.80" x2="268.10" y2="589.80" stroke="#8c8c8c" stroke-width="1.0"/>
<text transform="translate(259.80,593.70) scale(1.07,1)" font-size="11" text-anchor="end" fill="#262626">0.25</text>
<line x1="262.60" y1="570.10" x2="268.10" y2="570.10" stroke="#8c8c8c" stroke-width="1.0"/>
<text transform="translate(259.80,574.00) scale(1.07,1)" font-size="11" text-anchor="end" fill="#262626">0.50</text>
<line x1="262.60" y1="550.40" x2="268.10" y2="550.40" stroke="#8c8c8c" stroke-width="1.0"/>
<text transform="translate(259.80,554.30) scale(1.07,1)" font-size="11" text-anchor="end" fill="#262626">0.75</text>
<line x1="262.60" y1="530.70" x2="268.10" y2="530.70" stroke="#8c8c8c" stroke-width="1.0"/>
<text transform="translate(259.80,534.60) scale(1.07,1)" font-size="11" text-anchor="end" fill="#262626">1.00</text>
<line x1="286.90" y1="626.60" x2="286.90" y2="633.00" stroke="#8c8c8c" stroke-width="1.0"/>
<text transform="translate(281.40,644.80) scale(1.07,1)" font-size="11" text-anchor="middle" fill="#262626">factor1</text>
<line x1="323.60" y1="626.60" x2="323.60" y2="633.00" stroke="#8c8c8c" stroke-width="1.0"/>
<text transform="translate(322.40,644.80) scale(1.07,1)" font-size="11" text-anchor="middle" fill="#262626">factor2</text>
<line x1="360.70" y1="626.60" x2="360.70" y2="633.00" stroke="#8c8c8c" stroke-width="1.0"/>
<text transform="translate(362.50,644.80) scale(1.07,1)" font-size="11" text-anchor="middle" fill="#262626">factor3</text>
<line x1="397.20" y1="626.60" x2="397.20" y2="633.00" stroke="#8c8c8c" stroke-width="1.0"/>
<text transform="translate(401.60,644.80) scale(1.07,1)" font-size="11" text-anchor="middle" fill="#262626">factor4</text>
<line x1="434.30" y1="626.60" x2="434.30" y2="633.00" stroke="#8c8c8c" stroke-width="1.0"/>
<text transform="translate(440.00,644.80) scale(1.07,1)" font-size="11" text-anchor="middle" fill="#262626">backgr</text>
<text transform="translate(365.20,509.20) scale(1.07,1)" font-size="11" text-anchor="middle" fill="#262626">Modality weight (Modality 2)</text>
<path d="M286.50,518.98 L286.20,518.98C285.05,521.05 281.63,527.60 279.30,531.40C276.97,535.19 273.38,538.30 272.20,541.75C271.02,545.20 271.78,548.65 272.20,552.10C272.62,555.55 273.77,559.00 274.70,562.45C275.63,565.90 276.93,569.35 277.80,572.80C278.67,576.25 279.22,579.70 279.90,583.15C280.58,586.60 281.15,590.05 281.90,593.50C282.65,596.95 283.70,600.40 284.40,603.85C285.10,607.30 285.78,612.13 286.10,614.20C286.42,616.27 286.27,615.92 286.30,616.27 L286.50,616.27Z" fill="#3a72ad" stroke="#3d4d5d" stroke-width="0.6" stroke-opacity="0.6" stroke-linejoin="round"/>
<path d="M286.50,531.40 L286.70,531.40C286.95,533.12 287.62,538.30 288.20,541.75C288.78,545.20 289.52,548.65 290.20,552.10C290.88,555.55 291.60,559.00 292.30,562.45C293.00,565.90 293.72,569.35 294.40,572.80C295.08,576.25 295.55,579.70 296.40,583.15C297.25,586.60 298.70,590.91 299.50,593.50C300.30,596.09 301.37,596.95 301.20,598.67C301.03,600.40 300.50,601.26 298.50,603.85C296.50,606.44 291.17,611.27 289.20,614.20C287.23,617.13 287.12,620.24 286.70,621.44 L286.50,621.44Z" fill="#e3792a" stroke="#6a4a30" stroke-width="0.6" stroke-opacity="0.7" stroke-linejoin="round"/>
<line x1="272.20" y1="543.82" x2="286.50" y2="543.82" stroke="#2a4a6a" stroke-width="0.5" stroke-opacity="0.3"/>
<line x1="274.20" y1="560.38" x2="286.50" y2="560.38" stroke="#2a4a6a" stroke-width="0.5" stroke-opacity="0.3"/>
<line x1="279.06" y1="579.01" x2="286.50" y2="579.01" stroke="#2a4a6a" stroke-width="0.5" stroke-opacity="0.3"/>
<line x1="286.50" y1="565.55" x2="292.93" y2="565.55" stroke="#4a4a4a" stroke-width="0.5" stroke-opacity="0.6"/>
<line x1="286.50" y1="584.18" x2="296.71" y2="584.18" stroke="#4a4a4a" stroke-width="0.5" stroke-opacity="0.6"/>
<line x1="286.50" y1="596.60" x2="300.52" y2="596.60" stroke="#4a4a4a" stroke-width="0.5" stroke-opacity="0.6"/>
<line x1="286.50" y1="518.98" x2="286.50" y2="621.44" stroke="#555" stroke-width="0.8" stroke-opacity="0.7"/>
<path d="M323.30,522.08 L323.00,522.08C322.37,523.64 321.57,528.12 319.20,531.40C316.83,534.68 310.02,538.30 308.80,541.75C307.58,545.20 310.68,548.65 311.90,552.10C313.12,555.55 314.88,559.00 316.10,562.45C317.32,565.90 318.23,569.35 319.20,572.80C320.17,576.25 321.25,580.39 321.90,583.15C322.55,585.91 322.90,588.32 323.10,589.36 L323.30,589.36Z" fill="#3a72ad" stroke="#3d4d5d" stroke-width="0.6" stroke-opacity="0.6" stroke-linejoin="round"/>
<path d="M323.30,547.96 L323.50,547.96C323.63,548.65 323.82,549.68 324.30,552.10C324.78,554.51 325.77,559.00 326.40,562.45C327.03,565.90 327.42,569.35 328.10,572.80C328.78,576.25 329.40,579.70 330.50,583.15C331.60,586.60 333.48,590.74 334.70,593.50C335.92,596.26 337.45,597.98 337.80,599.71C338.15,601.43 338.70,601.43 336.80,603.85C334.90,606.26 328.62,611.96 326.40,614.20C324.18,616.44 323.98,616.79 323.50,617.30 L323.30,617.30Z" fill="#e3792a" stroke="#6a4a30" stroke-width="0.6" stroke-opacity="0.7" stroke-linejoin="round"/>
<line x1="312.96" y1="537.61" x2="323.30" y2="537.61" stroke="#2a4a6a" stroke-width="0.5" stroke-opacity="0.3"/>
<line x1="310.66" y1="547.96" x2="323.30" y2="547.96" stroke="#2a4a6a" stroke-width="0.5" stroke-opacity="0.3"/>
<line x1="315.26" y1="560.38" x2="323.30" y2="560.38" stroke="#2a4a6a" stroke-width="0.5" stroke-opacity="0.3"/>
<line x1="323.30" y1="580.04" x2="329.78" y2="580.04" stroke="#4a4a4a" stroke-width="0.5" stroke-opacity="0.6"/>
<line x1="323.30" y1="593.50" x2="334.70" y2="593.50" stroke="#4a4a4a" stroke-width="0.5" stroke-opacity="0.6"/>
<line x1="323.30" y1="601.78" x2="337.30" y2="601.78" stroke="#4a4a4a" stroke-width="0.5" stroke-opacity="0.6"/>
<line x1="323.30" y1="522.08" x2="323.30" y2="617.30" stroke="#555" stroke-width="0.8" stroke-opacity="0.7"/>
<path d="M360.40,521.05 L360.10,521.05C358.70,522.77 354.13,528.64 351.70,531.40C349.27,534.16 346.37,535.88 345.50,537.61C344.63,539.33 345.47,539.33 346.50,541.75C347.53,544.16 350.32,548.65 351.70,552.10C353.08,555.55 353.93,559.00 354.80,562.45C355.67,565.90 356.28,569.35 356.90,572.80C357.52,576.25 357.98,579.70 358.50,583.15C359.02,586.60 359.72,591.08 360.00,593.50C360.28,595.91 360.17,596.95 360.20,597.64 L360.40,597.64Z" fill="#3a72ad" stroke="#3d4d5d" stroke-width="0.6" stroke-opacity="0.6" stroke-linejoin="round"/>
<path d="M360.40,545.89 L360.60,545.89C360.67,546.92 360.75,549.34 361.00,552.10C361.25,554.86 361.58,559.00 362.10,562.45C362.62,565.90 363.42,569.35 364.10,572.80C364.78,576.25 365.17,579.70 366.20,583.15C367.23,586.60 368.92,590.57 370.30,593.50C371.68,596.43 374.15,598.67 374.50,600.74C374.85,602.81 374.30,603.68 372.40,605.92C370.50,608.16 365.07,611.96 363.10,614.20C361.13,616.44 361.02,618.51 360.60,619.37 L360.40,619.37Z" fill="#e3792a" stroke="#6a4a30" stroke-width="0.6" stroke-opacity="0.7" stroke-linejoin="round"/>
<line x1="348.60" y1="534.50" x2="360.40" y2="534.50" stroke="#2a4a6a" stroke-width="0.5" stroke-opacity="0.3"/>
<line x1="346.25" y1="540.71" x2="360.40" y2="540.71" stroke="#2a4a6a" stroke-width="0.5" stroke-opacity="0.3"/>
<line x1="351.70" y1="552.10" x2="360.40" y2="552.10" stroke="#2a4a6a" stroke-width="0.5" stroke-opacity="0.3"/>
<line x1="360.40" y1="581.08" x2="365.78" y2="581.08" stroke="#4a4a4a" stroke-width="0.5" stroke-opacity="0.6"/>
<line x1="360.40" y1="595.57" x2="371.50" y2="595.57" stroke="#4a4a4a" stroke-width="0.5" stroke-opacity="0.6"/>
<line x1="360.40" y1="602.81" x2="373.66" y2="602.81" stroke="#4a4a4a" stroke-width="0.5" stroke-opacity="0.6"/>
<line x1="360.40" y1="521.05" x2="360.40" y2="619.37" stroke="#555" stroke-width="0.8" stroke-opacity="0.7"/>
<path d="M397.30,521.05 L397.00,521.05C395.32,522.77 389.27,528.98 386.90,531.40C384.53,533.81 383.13,533.81 382.80,535.54C382.47,537.26 383.68,538.99 384.90,541.75C386.12,544.51 388.72,548.65 390.10,552.10C391.48,555.55 392.35,559.00 393.20,562.45C394.05,565.90 394.62,569.35 395.20,572.80C395.78,576.25 396.38,580.73 396.70,583.15C397.02,585.56 397.03,586.60 397.10,587.29 L397.30,587.29Z" fill="#3a72ad" stroke="#3d4d5d" stroke-width="0.6" stroke-opacity="0.6" stroke-linejoin="round"/>
<path d="M397.30,552.10 L397.50,552.10C397.63,553.82 397.98,559.00 398.30,562.45C398.62,565.90 399.05,569.35 399.40,572.80C399.75,576.25 399.55,579.70 400.40,583.15C401.25,586.60 402.60,590.05 404.50,593.50C406.40,596.95 410.93,601.26 411.80,603.85C412.67,606.44 411.08,607.30 409.70,609.02C408.32,610.75 405.53,612.47 403.50,614.20C401.47,615.92 398.50,618.51 397.50,619.37 L397.30,619.37Z" fill="#e3792a" stroke="#6a4a30" stroke-width="0.6" stroke-opacity="0.7" stroke-linejoin="round"/>
<line x1="385.88" y1="532.43" x2="397.30" y2="532.43" stroke="#2a4a6a" stroke-width="0.5" stroke-opacity="0.3"/>
<line x1="383.50" y1="537.61" x2="397.30" y2="537.61" stroke="#2a4a6a" stroke-width="0.5" stroke-opacity="0.3"/>
<line x1="386.98" y1="545.89" x2="397.30" y2="545.89" stroke="#2a4a6a" stroke-width="0.5" stroke-opacity="0.3"/>
<line x1="397.30" y1="593.50" x2="404.50" y2="593.50" stroke="#4a4a4a" stroke-width="0.5" stroke-opacity="0.6"/>
<line x1="397.30" y1="601.78" x2="410.34" y2="601.78" stroke="#4a4a4a" stroke-width="0.5" stroke-opacity="0.6"/>
<line x1="397.30" y1="607.99" x2="410.12" y2="607.99" stroke="#4a4a4a" stroke-width="0.5" stroke-opacity="0.6"/>
<line x1="397.30" y1="521.05" x2="397.30" y2="619.37" stroke="#555" stroke-width="0.8" stroke-opacity="0.7"/>
<path d="M433.90,521.05 L433.60,521.05C432.88,522.77 431.57,528.64 429.30,531.40C427.03,534.16 421.55,535.88 420.00,537.61C418.45,539.33 419.48,539.33 420.00,541.75C420.52,544.16 422.07,548.65 423.10,552.10C424.13,555.55 425.17,559.00 426.20,562.45C427.23,565.90 428.43,569.35 429.30,572.80C430.17,576.25 430.70,579.70 431.40,583.15C432.10,586.60 433.12,591.43 433.50,593.50C433.88,595.57 433.67,595.22 433.70,595.57 L433.90,595.57Z" fill="#3a72ad" stroke="#3d4d5d" stroke-width="0.6" stroke-opacity="0.6" stroke-linejoin="round"/>
<path d="M433.90,537.61 L434.10,537.61C434.27,538.30 434.52,539.33 435.10,541.75C435.68,544.16 436.83,548.65 437.60,552.10C438.37,555.55 439.00,559.00 439.70,562.45C440.40,565.90 441.12,569.35 441.80,572.80C442.48,576.25 443.05,579.70 443.80,583.15C444.55,586.60 445.53,590.39 446.30,593.50C447.07,596.60 448.98,599.02 448.40,601.78C447.82,604.54 444.60,607.99 442.80,610.06C441.00,612.13 439.05,612.65 437.60,614.20C436.15,615.75 434.68,618.51 434.10,619.37 L433.90,619.37Z" fill="#e3792a" stroke="#6a4a30" stroke-width="0.6" stroke-opacity="0.7" stroke-linejoin="round"/>
<line x1="421.55" y1="536.57" x2="433.90" y2="536.57" stroke="#2a4a6a" stroke-width="0.5" stroke-opacity="0.3"/>
<line x1="420.62" y1="543.82" x2="433.90" y2="543.82" stroke="#2a4a6a" stroke-width="0.5" stroke-opacity="0.3"/>
<line x1="424.34" y1="556.24" x2="433.90" y2="556.24" stroke="#2a4a6a" stroke-width="0.5" stroke-opacity="0.3"/>
<line x1="433.90" y1="579.01" x2="443.00" y2="579.01" stroke="#4a4a4a" stroke-width="0.5" stroke-opacity="0.6"/>
<line x1="433.90" y1="590.39" x2="445.55" y2="590.39" stroke="#4a4a4a" stroke-width="0.5" stroke-opacity="0.6"/>
<line x1="433.90" y1="601.78" x2="448.40" y2="601.78" stroke="#4a4a4a" stroke-width="0.5" stroke-opacity="0.6"/>
<line x1="433.90" y1="521.05" x2="433.90" y2="619.37" stroke="#555" stroke-width="0.8" stroke-opacity="0.7"/>
<rect x="492.70" y="513.20" width="184.80" height="112.80" fill="none" stroke="#b0b0b0" stroke-width="1.0"/>
<line x1="487.20" y1="608.50" x2="492.70" y2="608.50" stroke="#8c8c8c" stroke-width="1.0"/>
<text transform="translate(484.40,612.40) scale(1.07,1)" font-size="11" text-anchor="end" fill="#262626">0.00</text>
<line x1="487.20" y1="589.15" x2="492.70" y2="589.15" stroke="#8c8c8c" stroke-width="1.0"/>
<text transform="translate(484.40,593.05) scale(1.07,1)" font-size="11" text-anchor="end" fill="#262626">0.25</text>
<line x1="487.20" y1="569.80" x2="492.70" y2="569.80" stroke="#8c8c8c" stroke-width="1.0"/>
<text transform="translate(484.40,573.70) scale(1.07,1)" font-size="11" text-anchor="end" fill="#262626">0.50</text>
<line x1="487.20" y1="550.45" x2="492.70" y2="550.45" stroke="#8c8c8c" stroke-width="1.0"/>
<text transform="translate(484.40,554.35) scale(1.07,1)" font-size="11" text-anchor="end" fill="#262626">0.75</text>
<line x1="487.20" y1="531.10" x2="492.70" y2="531.10" stroke="#8c8c8c" stroke-width="1.0"/>
<text transform="translate(484.40,535.00) scale(1.07,1)" font-size="11" text-anchor="end" fill="#262626">1.00</text>
<line x1="511.90" y1="626.00" x2="511.90" y2="632.40" stroke="#8c8c8c" stroke-width="1.0"/>
<text transform="translate(504.40,644.80) scale(1.07,1)" font-size="11" text-anchor="middle" fill="#262626">factor1</text>
<line x1="548.40" y1="626.00" x2="548.40" y2="632.40" stroke="#8c8c8c" stroke-width="1.0"/>
<text transform="translate(544.90,644.80) scale(1.07,1)" font-size="11" text-anchor="middle" fill="#262626">factor2</text>
<line x1="585.10" y1="626.00" x2="585.10" y2="632.40" stroke="#8c8c8c" stroke-width="1.0"/>
<text transform="translate(585.70,644.80) scale(1.07,1)" font-size="11" text-anchor="middle" fill="#262626">factor3</text>
<line x1="622.20" y1="626.00" x2="622.20" y2="632.40" stroke="#8c8c8c" stroke-width="1.0"/>
<text transform="translate(623.70,644.80) scale(1.07,1)" font-size="11" text-anchor="middle" fill="#262626">factor4</text>
<line x1="659.30" y1="626.00" x2="659.30" y2="632.40" stroke="#8c8c8c" stroke-width="1.0"/>
<text transform="translate(662.50,644.80) scale(1.07,1)" font-size="11" text-anchor="middle" fill="#262626">backgr</text>
<text transform="translate(590.00,509.20) scale(1.07,1)" font-size="11" text-anchor="middle" fill="#262626">Modality weight (Modality 3)</text>
<path d="M510.90,518.98 L510.60,518.98C509.27,520.36 504.97,524.50 502.60,527.26C500.23,530.02 497.08,533.12 496.40,535.54C495.72,537.95 497.28,538.99 498.50,541.75C499.72,544.51 503.18,549.34 503.70,552.10C504.22,554.86 502.53,555.89 501.60,558.31C500.67,560.72 498.45,564.17 498.10,566.59C497.75,569.00 498.23,570.04 499.50,572.80C500.77,575.56 503.97,579.70 505.70,583.15C507.43,586.60 509.07,591.08 509.90,593.50C510.73,595.91 510.57,596.95 510.70,597.64 L510.90,597.64Z" fill="#3a72ad" stroke="#3d4d5d" stroke-width="0.6" stroke-opacity="0.6" stroke-linejoin="round"/>
<path d="M510.90,543.82 L511.10,543.82C511.42,545.20 511.65,548.99 513.00,552.10C514.35,555.20 517.30,559.34 519.20,562.45C521.10,565.55 524.05,568.31 524.40,570.73C524.75,573.14 522.52,574.87 521.30,576.94C520.08,579.01 517.97,581.08 517.10,583.15C516.23,585.22 515.58,587.29 516.10,589.36C516.62,591.43 518.65,593.50 520.20,595.57C521.75,597.64 524.88,599.71 525.40,601.78C525.92,603.85 524.68,605.92 523.30,607.99C521.92,610.06 518.83,612.47 517.10,614.20C515.37,615.92 513.90,617.30 512.90,618.34C511.90,619.37 511.40,620.06 511.10,620.41 L510.90,620.41Z" fill="#e3792a" stroke="#6a4a30" stroke-width="0.6" stroke-opacity="0.7" stroke-linejoin="round"/>
<line x1="497.10" y1="537.61" x2="510.90" y2="537.61" stroke="#2a4a6a" stroke-width="0.5" stroke-opacity="0.3"/>
<line x1="501.60" y1="558.31" x2="510.90" y2="558.31" stroke="#2a4a6a" stroke-width="0.5" stroke-opacity="0.3"/>
<line x1="499.50" y1="572.80" x2="510.90" y2="572.80" stroke="#2a4a6a" stroke-width="0.5" stroke-opacity="0.3"/>
<line x1="510.90" y1="570.73" x2="524.40" y2="570.73" stroke="#4a4a4a" stroke-width="0.5" stroke-opacity="0.6"/>
<line x1="510.90" y1="583.15" x2="517.10" y2="583.15" stroke="#4a4a4a" stroke-width="0.5" stroke-opacity="0.6"/>
<line x1="510.90" y1="601.78" x2="525.40" y2="601.78" stroke="#4a4a4a" stroke-width="0.5" stroke-opacity="0.6"/>
<line x1="510.90" y1="518.98" x2="510.90" y2="620.41" stroke="#555" stroke-width="0.8" stroke-opacity="0.7"/>
<path d="M548.10,518.98 L547.80,518.98C546.47,521.05 542.07,527.60 539.80,531.40C537.53,535.19 535.07,538.30 534.20,541.75C533.33,545.20 534.18,548.65 534.60,552.10C535.02,555.55 536.00,559.00 536.70,562.45C537.40,565.90 538.28,569.35 538.80,572.80C539.32,576.25 539.28,579.70 539.80,583.15C540.32,586.60 541.03,590.05 541.90,593.50C542.77,596.95 544.13,600.74 545.00,603.85C545.87,606.95 546.62,610.40 547.10,612.13C547.58,613.85 547.77,613.85 547.90,614.20 L548.10,614.20Z" fill="#3a72ad" stroke="#3d4d5d" stroke-width="0.6" stroke-opacity="0.6" stroke-linejoin="round"/>
<path d="M548.10,518.98 L548.40,518.98C549.03,521.05 550.87,527.60 552.20,531.40C553.53,535.19 555.43,538.30 556.40,541.75C557.37,545.20 557.83,548.65 558.00,552.10C558.17,555.55 557.32,559.00 557.40,562.45C557.48,565.90 557.80,569.35 558.50,572.80C559.20,576.25 560.85,579.70 561.60,583.15C562.35,586.60 563.52,590.05 563.00,593.50C562.48,596.95 560.57,600.40 558.50,603.85C556.43,607.30 552.30,611.27 550.60,614.20C548.90,617.13 548.68,620.24 548.30,621.44 L548.10,621.44Z" fill="#e3792a" stroke="#6a4a30" stroke-width="0.6" stroke-opacity="0.7" stroke-linejoin="round"/>
<line x1="534.20" y1="541.75" x2="548.10" y2="541.75" stroke="#2a4a6a" stroke-width="0.5" stroke-opacity="0.3"/>
<line x1="535.86" y1="558.31" x2="548.10" y2="558.31" stroke="#2a4a6a" stroke-width="0.5" stroke-opacity="0.3"/>
<line x1="539.40" y1="579.01" x2="548.10" y2="579.01" stroke="#2a4a6a" stroke-width="0.5" stroke-opacity="0.3"/>
<line x1="548.10" y1="558.31" x2="557.64" y2="558.31" stroke="#4a4a4a" stroke-width="0.5" stroke-opacity="0.6"/>
<line x1="548.10" y1="577.97" x2="560.05" y2="577.97" stroke="#4a4a4a" stroke-width="0.5" stroke-opacity="0.6"/>
<line x1="548.10" y1="593.50" x2="563.00" y2="593.50" stroke="#4a4a4a" stroke-width="0.5" stroke-opacity="0.6"/>
<line x1="548.10" y1="518.98" x2="548.10" y2="621.44" stroke="#555" stroke-width="0.8" stroke-opacity="0.7"/>
<path d="M585.40,518.98 L585.10,518.98C584.22,521.05 581.55,527.60 579.80,531.40C578.05,535.19 575.98,538.30 574.60,541.75C573.22,545.20 572.18,548.65 571.50,552.10C570.82,555.55 570.32,559.00 570.50,562.45C570.68,565.90 571.73,569.35 572.60,572.80C573.47,576.25 574.85,579.70 575.70,583.15C576.55,586.60 577.02,590.05 577.70,593.50C578.38,596.95 578.83,600.40 579.80,603.85C580.77,607.30 582.60,611.44 583.50,614.20C584.40,616.96 584.92,619.37 585.20,620.41 L585.40,620.41Z" fill="#3a72ad" stroke="#3d4d5d" stroke-width="0.6" stroke-opacity="0.6" stroke-linejoin="round"/>
<path d="M585.40,518.98 L585.70,518.98C586.45,521.05 588.93,527.60 590.20,531.40C591.47,535.19 592.45,538.30 593.30,541.75C594.15,545.20 594.62,548.65 595.30,552.10C595.98,555.55 596.70,559.00 597.40,562.45C598.10,565.90 599.33,569.35 599.50,572.80C599.67,576.25 599.10,579.70 598.40,583.15C597.70,586.60 596.50,590.05 595.30,593.50C594.10,596.95 592.57,600.40 591.20,603.85C589.83,607.30 588.03,612.13 587.10,614.20C586.17,616.27 585.85,615.92 585.60,616.27 L585.40,616.27Z" fill="#e3792a" stroke="#6a4a30" stroke-width="0.6" stroke-opacity="0.7" stroke-linejoin="round"/>
<line x1="571.50" y1="552.10" x2="585.40" y2="552.10" stroke="#2a4a6a" stroke-width="0.5" stroke-opacity="0.3"/>
<line x1="571.76" y1="568.66" x2="585.40" y2="568.66" stroke="#2a4a6a" stroke-width="0.5" stroke-opacity="0.3"/>
<line x1="576.10" y1="585.22" x2="585.40" y2="585.22" stroke="#2a4a6a" stroke-width="0.5" stroke-opacity="0.3"/>
<line x1="585.40" y1="552.10" x2="595.30" y2="552.10" stroke="#4a4a4a" stroke-width="0.5" stroke-opacity="0.6"/>
<line x1="585.40" y1="571.76" x2="599.29" y2="571.76" stroke="#4a4a4a" stroke-width="0.5" stroke-opacity="0.6"/>
<line x1="585.40" y1="584.18" x2="598.09" y2="584.18" stroke="#4a4a4a" stroke-width="0.5" stroke-opacity="0.6"/>
<line x1="585.40" y1="518.98" x2="585.40" y2="620.41" stroke="#555" stroke-width="0.8" stroke-opacity="0.7"/>
<path d="M622.30,520.01 L622.00,520.01C621.18,521.91 619.02,527.78 617.10,531.40C615.18,535.02 611.80,538.30 610.50,541.75C609.20,545.20 609.75,548.65 609.30,552.10C608.85,555.55 607.70,559.00 607.80,562.45C607.90,565.90 608.87,569.35 609.90,572.80C610.93,576.25 612.62,579.70 614.00,583.15C615.38,586.60 617.05,590.05 618.20,593.50C619.35,596.95 620.25,600.74 620.90,603.85C621.55,606.95 621.90,610.75 622.10,612.13 L622.30,612.13Z" fill="#3a72ad" stroke="#3d4d5d" stroke-width="0.6" stroke-opacity="0.6" stroke-linejoin="round"/>
<path d="M622.30,520.01 L622.60,520.01C622.72,521.91 622.67,527.78 623.30,531.40C623.93,535.02 625.18,538.30 626.40,541.75C627.62,545.20 629.22,548.65 630.60,552.10C631.98,555.55 633.67,559.00 634.70,562.45C635.73,565.90 636.80,569.35 636.80,572.80C636.80,576.25 635.22,579.70 634.70,583.15C634.18,586.60 634.57,590.05 633.70,593.50C632.83,596.95 631.05,600.40 629.50,603.85C627.95,607.30 625.57,611.96 624.40,614.20C623.23,616.44 622.82,616.79 622.50,617.30 L622.30,617.30Z" fill="#e3792a" stroke="#6a4a30" stroke-width="0.6" stroke-opacity="0.7" stroke-linejoin="round"/>
<line x1="610.02" y1="545.89" x2="622.30" y2="545.89" stroke="#2a4a6a" stroke-width="0.5" stroke-opacity="0.3"/>
<line x1="607.95" y1="561.41" x2="622.30" y2="561.41" stroke="#2a4a6a" stroke-width="0.5" stroke-opacity="0.3"/>
<line x1="609.90" y1="572.80" x2="622.30" y2="572.80" stroke="#2a4a6a" stroke-width="0.5" stroke-opacity="0.3"/>
<line x1="622.30" y1="562.45" x2="634.70" y2="562.45" stroke="#4a4a4a" stroke-width="0.5" stroke-opacity="0.6"/>
<line x1="622.30" y1="576.94" x2="635.96" y2="576.94" stroke="#4a4a4a" stroke-width="0.5" stroke-opacity="0.6"/>
<line x1="622.30" y1="591.43" x2="633.90" y2="591.43" stroke="#4a4a4a" stroke-width="0.5" stroke-opacity="0.6"/>
<line x1="622.30" y1="520.01" x2="622.30" y2="617.30" stroke="#555" stroke-width="0.8" stroke-opacity="0.7"/>
<path d="M658.90,520.01 L658.60,520.01C657.55,521.22 654.57,524.67 652.30,527.26C650.03,529.85 646.03,533.12 645.00,535.54C643.97,537.95 645.23,538.99 646.10,541.75C646.97,544.51 649.17,548.65 650.20,552.10C651.23,555.55 651.68,559.00 652.30,562.45C652.92,565.90 653.38,569.35 653.90,572.80C654.42,576.25 654.98,579.70 655.40,583.15C655.82,586.60 656.05,590.05 656.40,593.50C656.75,596.95 657.15,601.09 657.50,603.85C657.85,606.61 658.30,608.68 658.50,610.06C658.70,611.44 658.67,611.78 658.70,612.13 L658.90,612.13Z" fill="#3a72ad" stroke="#3d4d5d" stroke-width="0.6" stroke-opacity="0.6" stroke-linejoin="round"/>
<path d="M658.90,520.01 L659.20,520.01C659.25,521.91 659.27,527.78 659.50,531.40C659.73,535.02 660.08,538.30 660.60,541.75C661.12,545.20 662.08,548.65 662.60,552.10C663.12,555.55 663.35,559.00 663.70,562.45C664.05,565.90 664.18,569.35 664.70,572.80C665.22,576.25 665.93,579.70 666.80,583.15C667.67,586.60 668.77,590.39 669.90,593.50C671.03,596.60 673.78,599.02 673.60,601.78C673.42,604.54 670.63,607.99 668.80,610.06C666.97,612.13 664.22,612.65 662.60,614.20C660.98,615.75 659.68,618.51 659.10,619.37 L658.90,619.37Z" fill="#e3792a" stroke="#6a4a30" stroke-width="0.6" stroke-opacity="0.7" stroke-linejoin="round"/>
<line x1="646.82" y1="533.47" x2="658.90" y2="533.47" stroke="#2a4a6a" stroke-width="0.5" stroke-opacity="0.3"/>
<line x1="645.73" y1="539.68" x2="658.90" y2="539.68" stroke="#2a4a6a" stroke-width="0.5" stroke-opacity="0.3"/>
<line x1="650.20" y1="552.10" x2="658.90" y2="552.10" stroke="#2a4a6a" stroke-width="0.5" stroke-opacity="0.3"/>
<line x1="658.90" y1="570.73" x2="664.50" y2="570.73" stroke="#4a4a4a" stroke-width="0.5" stroke-opacity="0.6"/>
<line x1="658.90" y1="589.36" x2="668.66" y2="589.36" stroke="#4a4a4a" stroke-width="0.5" stroke-opacity="0.6"/>
<line x1="658.90" y1="603.85" x2="672.40" y2="603.85" stroke="#4a4a4a" stroke-width="0.5" stroke-opacity="0.6"/>
<line x1="658.90" y1="520.01" x2="658.90" y2="619.37" stroke="#555" stroke-width="0.8" stroke-opacity="0.7"/>
<rect x="240.30" y="663.10" width="22.70" height="7.60" fill="#3a72ad" stroke="none" stroke-width="1"/>
<text transform="translate(275.60,671.90) scale(1.07,1)" font-size="11.1" text-anchor="start" fill="#262626">Spatial graph</text>
<rect x="360.30" y="663.10" width="22.40" height="7.60" fill="#e3792a" stroke="none" stroke-width="1"/>
<text transform="translate(393.50,671.90) scale(1.07,1)" font-size="11.1" text-anchor="start" fill="#262626">Feature graph</text>
</svg></body></html>
